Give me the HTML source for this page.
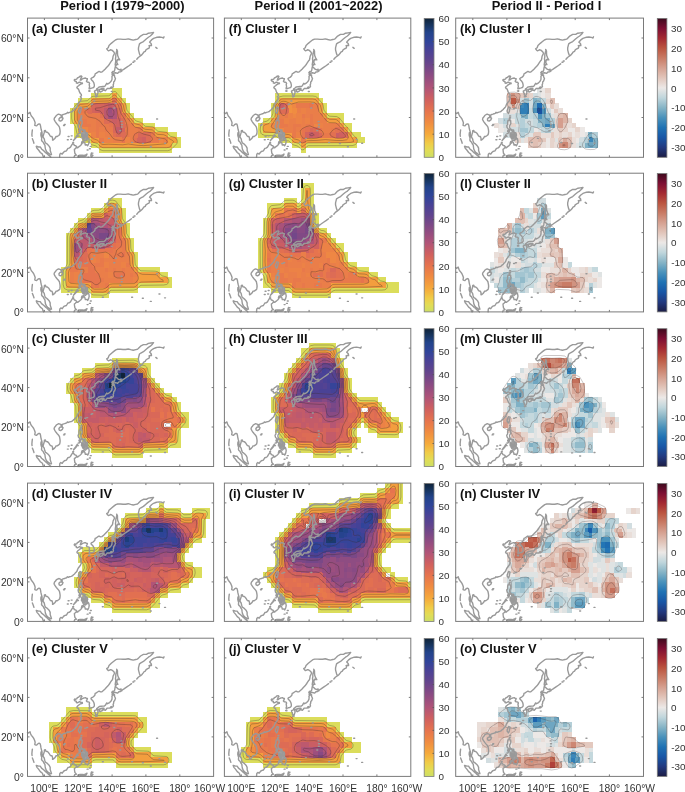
<!DOCTYPE html><html><head><meta charset="utf-8"><style>html,body{margin:0;padding:0;background:#fff;width:685px;height:792px;overflow:hidden}svg{display:block}text{font-family:"Liberation Sans",Arial,sans-serif}</style></head><body>
<svg width="685" height="792" viewBox="0 0 685 792">
<defs>
<linearGradient id="gt" x1="0" y1="1" x2="0" y2="0"><stop offset="0.000" stop-color="#cddf64"/><stop offset="0.050" stop-color="#e2dc56"/><stop offset="0.100" stop-color="#f0cc48"/><stop offset="0.167" stop-color="#f5aa3c"/><stop offset="0.250" stop-color="#f08c41"/><stop offset="0.333" stop-color="#e6744e"/><stop offset="0.417" stop-color="#d0605f"/><stop offset="0.500" stop-color="#b05478"/><stop offset="0.567" stop-color="#954d80"/><stop offset="0.633" stop-color="#7a4887"/><stop offset="0.700" stop-color="#5f448e"/><stop offset="0.767" stop-color="#4a4296"/><stop offset="0.833" stop-color="#30449a"/><stop offset="0.900" stop-color="#22438a"/><stop offset="0.950" stop-color="#173560"/><stop offset="1.000" stop-color="#0f2339"/></linearGradient>
<linearGradient id="gb" x1="0" y1="1" x2="0" y2="0"><stop offset="0.000" stop-color="#1c1d45"/><stop offset="0.071" stop-color="#22397f"/><stop offset="0.143" stop-color="#1856a6"/><stop offset="0.214" stop-color="#1f72b4"/><stop offset="0.286" stop-color="#4a92bb"/><stop offset="0.357" stop-color="#86b4c6"/><stop offset="0.429" stop-color="#c0d6dc"/><stop offset="0.500" stop-color="#ece8e6"/><stop offset="0.571" stop-color="#e2c6bb"/><stop offset="0.643" stop-color="#d6a292"/><stop offset="0.714" stop-color="#c97c66"/><stop offset="0.786" stop-color="#bb5540"/><stop offset="0.857" stop-color="#a42a32"/><stop offset="0.929" stop-color="#7d0f33"/><stop offset="1.000" stop-color="#3e0a1e"/></linearGradient>
<g id="coast"><path d="M54.1 114 56.4 113.4 58.8 113.8 60.5 116 60.9 118.7 61.5 120.5 60.2 121.9 57.8 121.5 56.1 121.1 54.9 119.9 54.1 118 53.7 115.6 54.1 114Z" fill="#a0a0a0"/><path d="M0 94.7 1 95.3 2.5 94.1 3.2 96.3 3.9 97.7 4.9 98.9 6.1 100.5 7.1 102.7 7.7 104.6 7.3 107 8.2 107.4 9.2 107.6 10.2 106.4 11.6 105.6 12.6 106 13.1 107.6 13.4 109.6 13.9 111.8 14.6 114.2 14.6 117.2 14.3 119.3 14.1 121.9 14.6 122.9 15.6 123.7 16.5 125.5 17.5 126.9 17.7 128.7 18 130.7 19 133 20.2 134.4 21.8 135.4 22.8 136.4 24.1 136.2 23.6 134.6 22.8 132.2 22.8 129.9 21.9 128.1 20.7 126.7 19.2 125.3 18 124.7 17.3 122.7 16.8 120.5 15.6 118.7 16.1 116.6 16.8 114.4 17 112.4 18 112.2 18.5 113.8 19.9 114 21.1 115 21.8 116 22.6 117.4 23.5 118.2 24.6 118.3 25.2 119.9 25.2 121.9 25.8 121.7 27.2 120.5 28.2 119.3 28.6 118.3 29.9 118.2 31.3 117.2 32.3 116.4 32.6 115.2 32.8 113.2 32.6 111.4 32.1 108.8 31.3 107.6 29.9 106 28.9 104.8 27.9 103.3 26.9 101.7 26.7 100.9 27.2 99.5 28.2 98.5 28.9 97.3 30.1 96.5 31.4 95.9 32.5 96.3 33.5 96.7 33.8 98.1 34 98.7 34.9 98.5 34.7 96.9 35.7 96.3 37.1 95.9 38.2 95.5 39.4 95.1 40.1 94.1 41.1 94.7 42.3 94.1 43.9 93.7 45 93.3 46.2 92.1 47.3 91.3 48.1 90.2 49 89.4 49.8 88.4 50.3 86.8 50.8 85.8 51.5 84.8 52.4 83.6 53.2 82.6 53.7 81.4 54.2 80.2 53.7 79 53 78.6 54.2 77.6 54.1 76.3 53.2 75.3 52.5 74.3 51.9 72.9 51.3 70.9 50 70.1 49.6 69.3 50.3 68.3 51.3 67.5 52.2 66.7 53.5 65.9 55.2 65.5 55.1 64.7 53.5 64.5 52.4 63.9 51.5 64.3 50 65.1 49.1 64.7 49.1 63.5 47.6 62.9 46.9 62 47.4 61.2 48.5 61.4 49.6 60.8 50.1 59.8 51.5 59.2 52.7 58 54.1 57.8 54.7 58.6 53.7 59.8 53.4 60.8 53 62 53.9 61.8 54.7 61 55.9 60.4 57.1 60 58.3 59.8 59 60.4 60.2 60.6 59.8 62 59.2 63.1 60 63.9 61 64.1 61.9 64.3 62.4 65.3 62 66.3 62.2 67.5 62.4 68.7 61.9 69.9 62 70.7 63.2 70.3 64.3 69.9 65.3 69.7 66.3 69.3 67 68.5 67.2 67.3 67 65.9 66.6 64.5 65.6 62.9 64.9 62.2 64.1 61.4 63.8 60.4 64.6 59.8 65.8 59.2 67 58.2 67.7 57.2 68 55.6 69.2 55 70 54.4 71.2 53.6 71.9 53.2 73.4 54 74.8 53.8 76.5 52.4 77.9 51 79.2 49.6 80.9 47.9 82.3 46.1 83.1 44.7 84.3 42.9 85.3 41.9 85.7 40.1 86 38.1 86.7 36.7 87.4 35.3 87 34 86 33 84.7 32 83.3 31.6 82.5 32.2 81.3 32.6 80.4 31.8 79.6 30.6 81.1 29.6 81.9 27.4 84.2 25.2 86.4 23.4 88.7 21.6 90.6 21 93.5 21 96 21.2 98.6 21.2 101.2 20.7 103.7 21.4 106.2 22 108.8 21.4 110.5 21 111.3 20.3 113.6 17.9 116.5 16.3 119.5 16.3 121.5 15.1 124.1 14.7 126.7 14.3 125.5 15.9 123.4 17.9 121.5 19.1 119.3 20.9 116.5 23.4 113.9 24.8 112.5 25.8 112 27.8 111.5 29.8 111.5 31.8 112 33.8 112.5 35.7 113.4 37.9 114.8 36.7 116.1 35.1 116.8 34 118.3 33.2 119 31.8 120.7 30.6 122.1 30 122.6 28.6 122.1 27.6 123.4 27.2 124.6 27.4 124.4 25.8 123.6 24.8 122.7 24 123.2 23.4 124.6 21.8 126.7 20.3 128.9 19.5 130.2 19.1 132.6 18.9 135.2 19.3 136.7 19.9 137.2 18.7M88.4 47.7 88.1 46.5 88.4 44.7 88.7 42.7 88.4 40.7 88.7 38.7 88.7 36.7 89.4 33.8 89.8 32.2 89.6 31.2 90.4 32.8 90.4 34.8 90.6 37.3 91.5 39.7 92.7 41.7 90.4 41.3 89.6 44.1 90.8 46.5 89.4 46.3 88.9 47.7 88.4 47.7M85 56.6 85.2 55.2 84.7 54.4 85.7 53.2 87.2 53.2 87.7 51.6 87.9 50 88.2 48.6 89.4 49.4 91 51 92.7 51.8 94 51 93.8 52.4 94.9 52.8 93.5 53.6 91.8 53.8 90.6 55.2 88.4 54.6 87 54.8 85.8 54.4 86.5 56 85.3 56.8 85 56.6M87.4 56.8 87.5 58.6 88.4 60.4 87.5 62.9 86.7 63.5 86.5 65.5 86 66.9 86.4 68.1 85.5 69.3 84.7 69.5 84.3 68.7 83.6 69.1 83 70.3 81.9 70.3 79.9 70.3 79.6 70.9 78.2 72.5 77 72.1 76.8 70.3 75.1 70.3 73.1 70.9 71.7 71.7 69.7 71.5 69.5 70.7 70.5 70.1 72.2 68.7 74 68.5 75.7 68.3 77.3 68.3 78.2 67.5 79.6 65.1 80.4 65.9 82.5 64.7 84 63.1 84.8 61.6 85 59.6 84.8 58.4 85.7 57.2 86.7 57.2 87.4 56.8M69.5 71.7 70.5 72.3 70.9 74.3 70.2 76.6 69.2 77.4 68.3 76.8 68.3 75.3 67.5 74.1 67.3 72.9 68.5 72.3 69.5 71.7M72.2 73.1 73.1 73.9 75.1 72.9 76 71.9 75.8 71.1 74.1 70.9 72.6 71.5 72.2 73.1M94.3 52.6 96.6 51.2 99.5 49.2 102.3 47.3 104.5 45.7M109.8 41.1 111.3 39.3 112.7 38.3M52.7 88.8 54.2 89.4 53.7 91.3 53.4 93.3 52.5 95.3 52.2 94.7 51.3 93.7 51.2 92.3 51.9 90.5 52.7 88.8M34.3 99.1 35.7 99.9 35 101.7 33.3 102.9 31.8 102.3 31.6 100.7 32.6 99.5 34.3 99.1M52 102.3 53 102.1 54.7 102.3 54.9 105.2 53.7 107.6 53.7 109.2 54.4 110.6 56.1 111.6 57.6 111.6 58.1 113.8 56.6 113.2 55.4 111.8 54.1 111.6 52.5 111 52 110.4 51.2 109.4 50.8 107.4 51.7 106.4 51.7 104.2 52 102.3M54.2 125.1 54.7 123.3 56.1 122.7 57.3 121.9 58.3 122.5 59.2 121.3 60.4 119.7 61.5 120.5 62 123.1 61.5 125.5 60.5 127.5 59.8 126.5 58.1 126.7 57.6 124.7 56.8 123.5 55.8 124.1 54.6 125.3 54.2 125.1M58.3 114.2 60 114.6 60.5 117 59.3 118.7 58.5 117.6 58.3 114.2M54.4 115.6 56.3 116.4 55.2 118.2 54.2 118 54.4 115.6M56.1 117.4 57 120.1 55.9 120.9 55.1 119.3 56.1 117.4M57.6 116.8 57.8 118.7 56.8 119.9 57.6 116.8M51.9 112.2 53.5 112.8 53 114.6 51.7 113.2 51.9 112.2M46.2 122.3 49 119.3 50.5 117.2 50 116.6 48.5 119.1 46.4 121.9M32.3 139 32.3 138 32.5 136 33.5 135 34.9 135.8 36 134.2 37.1 133.2 39.1 132.6 40.6 130.1 41.8 129.9 43.2 128.9 44.2 127.1 45.4 125.3 46.4 125.7 47.1 127.1 48.5 127.5 49.6 128.7 48.1 130.3 47.1 131.1 47.3 133 47.6 135 49.1 136.8 47.4 137.2 46.8 139M16.3 139 15.6 137.8 15 135.8 12.9 134.2 11.1 131.7 9.5 129.9 8.8 128.1 9 127.9 11.1 128.7 12.8 128.7 14.1 130.7 16.5 132.6 18.5 134.6 19.6 135.4 21.2 137 22.8 138.2 23.5 139M50.7 139 51 137.4 52.7 137 55.2 137 57 137.2 58.5 136.6 59.8 135.8 58.8 137.8 57 138.2 54.4 138 52.4 138.6 51.9 139M64.3 134.6 64.6 136.6 65.8 137 64.9 138 64.3 139 63.6 137.6 63.9 135.6 64.3 134.6M61.5 72.7 62.7 72.5 62.6 73.1 61.5 72.9 61.5 72.7M128.9 29.2 130.2 30.2M50.8 129.1 52.4 127.9 53.4 127.1 54.4 125.9M4.9 111.6 4.6 114 4.4 116.4 4.6 118M4.9 120.5 5.8 122.7 6.5 124.9M13.6 114.4 13.4 116.8 13.9 118.7M105.8 44.1h1M107.1 42.9h1M36.9 106.2h1M36.2 107.2h1M40.8 118.3h1M43.4 121.1h1M40 121.5h1M43.9 117.6h1M53.7 97.7h1M53.6 99.5h1M53 100.7h1M63.1 128.1h1M62.2 130.5h1M59.9 131.7h1M64.8 134.8h1M60.7 139h1M49.6 129.5h1M45.4 124.1h1M54.8 124.7h1M51 115.4h1M50.2 118h1M94.2 108.8h1M92.7 112.4h1M94 103.3h1M94.4 106.2h1M104.6 124.3h1M115.4 125.3h1M123.4 128.5h1M81.3 120.1h1M75.2 124.3h1M137.7 124.9h1M132.1 121.1h1M129.7 100.7h1M88.2 85.2h1M86.7 89.8h1M63.8 86.4h1M64.6 85.8h1M66.7 82.8h1M57.6 90.5h1M59.5 89.8h1M68.3 78.6h1M69.2 78.2h1M83.5 70.1h1M84.2 73.3h1" fill="none" stroke="#999" stroke-width="1.4" stroke-linejoin="round" stroke-linecap="round"/></g>
</defs>
<text x="122.4" y="9.8" font-size="12.9" font-weight="bold" text-anchor="middle" fill="#111">Period I (1979~2000)</text>
<text x="318.5" y="9.8" font-size="12.9" font-weight="bold" text-anchor="middle" fill="#111">Period II (2001~2022)</text>
<text x="546.5" y="9.8" font-size="12.9" font-weight="bold" text-anchor="middle" fill="#111">Period II - Period I</text>
<path fill="#dbdd5b" shape-rendering="crispEdges" d="M112 88h10v6h-10zM91 93h22v6h-22zM116 93h6v6h-6zM78 98h14v6h-14zM121 98h5v6h-5zM74 103h5v6h-5zM125 103h5v6h-5zM70 108h5v6h-5zM125 108h5v6h-5zM70 113h5v6h-5zM129 113h5v6h-5zM70 118h5v6h-5zM133 118h10v6h-10zM74 123h5v5h-5zM142 123h13v5h-13zM74 127h5v6h-5zM154 127h14v6h-14zM74 132h9v6h-9zM167 132h10v6h-10zM82 137h10v6h-10zM176 137h5v6h-5zM91 142h9v6h-9zM171 142h10v6h-10zM99 147h73v6h-73z"/><path fill="#f39e3e" shape-rendering="crispEdges" d="M112 93h5v6h-5zM91 98h22v6h-22zM116 98h6v6h-6zM78 103h14v6h-14zM121 103h5v6h-5zM74 108h5v6h-5zM121 108h5v6h-5zM74 113h5v6h-5zM125 113h5v6h-5zM74 118h5v6h-5zM129 118h5v6h-5zM78 123h5v5h-5zM133 123h10v5h-10zM78 127h5v6h-5zM142 127h13v6h-13zM82 132h10v6h-10zM154 132h14v6h-14zM91 137h9v6h-9zM167 137h10v6h-10zM99 142h73v6h-73z"/><path fill="#e27051" shape-rendering="crispEdges" d="M112 98h5v6h-5zM99 113h6v6h-6zM112 132h5v6h-5zM133 137h5v6h-5z"/><path fill="#d96858" shape-rendering="crispEdges" d="M91 103h5v6h-5zM116 113h6v6h-6zM112 123h5v5h-5zM112 127h5v6h-5zM116 132h6v6h-6zM137 132h10v6h-10z"/><path fill="#d4645c" shape-rendering="crispEdges" d="M95 103h10v6h-10zM91 108h5v6h-5zM108 118h5v6h-5zM121 127h5v6h-5zM137 137h6v6h-6z"/><path fill="#d0605f" shape-rendering="crispEdges" d="M104 103h5v6h-5zM95 108h10v6h-10zM116 118h6v6h-6zM116 123h6v5h-6zM142 137h5v6h-5z"/><path fill="#c35b69" shape-rendering="crispEdges" d="M108 103h5v6h-5zM116 127h6v6h-6z"/><path fill="#ca5e64" shape-rendering="crispEdges" d="M112 103h5v6h-5zM112 118h5v6h-5z"/><path fill="#e6744e" shape-rendering="crispEdges" d="M116 103h6v6h-6zM121 113h5v6h-5zM108 123h5v5h-5zM133 132h5v6h-5zM121 137h5v6h-5z"/><path fill="#e8794b" shape-rendering="crispEdges" d="M78 108h10v6h-10zM87 113h13v6h-13zM82 118h6v6h-6zM95 118h10v6h-10zM82 123h10v5h-10zM95 123h14v5h-14zM125 123h5v5h-5zM95 127h5v6h-5zM104 127h9v6h-9zM125 127h5v6h-5zM137 127h6v6h-6zM95 132h5v6h-5zM125 132h5v6h-5zM150 132h5v6h-5zM99 137h6v6h-6zM150 137h10v6h-10z"/><path fill="#dd6c55" shape-rendering="crispEdges" d="M87 108h5v6h-5zM116 108h6v6h-6zM104 118h5v6h-5zM121 118h5v6h-5zM121 123h5v5h-5zM121 132h5v6h-5zM146 132h5v6h-5zM146 137h5v6h-5z"/><path fill="#bd596e" shape-rendering="crispEdges" d="M104 108h5v6h-5zM104 113h5v6h-5z"/><path fill="#9c4f7e" shape-rendering="crispEdges" d="M108 108h5v6h-5z"/><path fill="#b05478" shape-rendering="crispEdges" d="M112 108h5v6h-5zM112 113h5v6h-5z"/><path fill="#ea7e49" shape-rendering="crispEdges" d="M78 113h10v6h-10zM78 118h5v6h-5zM87 118h9v6h-9zM125 118h5v6h-5zM91 123h5v5h-5zM129 123h5v5h-5zM87 127h9v6h-9zM99 127h6v6h-6zM129 127h9v6h-9zM104 132h9v6h-9zM129 132h5v6h-5zM112 137h10v6h-10zM129 137h5v6h-5z"/><path fill="#a2507c" shape-rendering="crispEdges" d="M108 113h5v6h-5z"/><path fill="#ee8744" shape-rendering="crispEdges" d="M82 127h6v6h-6zM125 137h5v6h-5zM159 137h5v6h-5z"/><path fill="#ec8246" shape-rendering="crispEdges" d="M91 132h5v6h-5zM99 132h6v6h-6zM104 137h9v6h-9zM163 137h5v6h-5z"/><path fill="none" stroke="#3a2a2a" stroke-width="0.55" stroke-opacity="0.6" d="M113.5 91.8 114.2 91.5 115.6 91.8 117 93.2 125.2 103.4 126 105.1 126.9 110.2 135.4 120.4 136.8 121.2 141 122.4 145.2 126.3 152.3 126.8 153.7 127.4 157.9 131.3 166.4 132.3 170.6 136.3 174.8 137.4 176.2 138.6 177.1 139.9 177.4 141.6 177.1 143.2 176.2 144.4 170.8 149.8 167.8 150.7 102.9 150.7 100.1 149.7 97.3 146.8 95.9 145.9 91.6 144.7 87.4 140.9 84.6 140.3 81.8 138.6 76.9 133.3 75.6 126.6 72.3 121.7 71.7 118.4 71.7 113.4 72.2 110.1 73 108.4 77.5 103 79 101.9 80.4 101.3 87.4 100.7 91.6 96.9 93.1 96.3 108.6 95.8 110 95.1 113.5 91.8M113.7 95.2 114.2 94.9 115.6 95.6 122.2 103.4 123.3 105.1 124.3 110.1 125.1 111.7 133.9 122.6 135.4 123.8 139.6 124.9 143.8 128.7 145.2 129.3 152.3 129.9 156.5 133.7 157.9 134.4 163.6 134.7 166.4 135.8 169.2 138.8 172 140.1 173.7 141.6 170.6 146.3 169.2 147.3 166.4 147.7 102.9 147.7 100.4 146.5 97.3 143.5 93.1 142.2 88.8 138.4 84.6 137.2 83.2 136.2 79.3 131.6 77.6 125 74.5 120 74.4 111.7 76.2 108.4 79 105.2 80.4 104.4 87.4 103.7 93.1 99.2 108.6 98.7 110 98.2 113.7 95.2M112.8 98.5 114.2 97.9 115.6 98.6 119.7 103.4 121.5 106.8 122.7 111.7 133.9 126.2 135.4 127.2 139.6 128.1 143.8 131.4 152.3 132.9 156.5 136.9 157.9 137.7 165 138.8 166.4 139.9 167.2 141.6 166.8 143.2 165 143.9 143.8 145.6 138.2 145.4 128.3 144 122.7 144.8 108.6 144.2 102.9 144.5 101.5 144 97.3 140.1 93.1 138.6 88.8 134.9 84.6 133.3 81.9 130 80.4 125 77.4 120 77.2 111.7 79 108.7 81.8 107.2 87.4 106.4 93.1 101.7 95.9 101.3 108.6 100.9 110.7 100.1 112.8 98.5M111.9 101.8 114.2 100.9 115.6 101.8 118.3 105.1 120.9 113.4 125.2 120 126.5 123.3 127.4 128.3 127.1 134.9 124.1 139.9 122.7 140.8 115.6 139.8 112.8 138.2 110 134.1 106.2 130 104.8 126.6 102.7 125 100.1 121.3 95.5 118.4 88.8 117 87.4 116.3 85.1 113.4 84.9 111.7 86.4 110.1 88.8 108.7 93.1 104.3 95.9 103.6 107.2 103.1 111.9 101.8M135.9 133.3 138.2 132.2 139.6 132.2 143.8 134.2 149.5 135.5 151.3 136.6 152.3 138.2 152.3 139.9 150.6 141.6 145.2 143.2 139.7 143.2 136.8 142.3 135.1 141.6 133.6 139.9 133.2 138.2 133.5 136.6 134.3 134.9 135.9 133.3M108 105.1 112.8 104.3 114.2 104.6 115.6 106.2 116.7 108.4 118.1 116.7 120 121.7 120.5 126.6 121.4 130 121.3 132 119.8 133.8 118.4 134 117 133 115.7 130 114.8 125 113.4 123.3 111.2 121.7 107.2 119.9 105 118.4 101.5 112.4 100.1 111 95.5 110.1 95.2 108.4 95.9 108.1 100.1 107.7 108 105.1M108.7 108.4 110 108 111.4 108.1 113.5 110.1 114 111.7 113.8 115 112.1 116.7 109.6 116.7 107.3 115 106.8 111.7 107.3 110.1 108.7 108.4"/>
<g transform="translate(27.5 18.1) scale(0.9952 1.0014)">
<use href="#coast"/>
</g>
<rect x="27.5" y="18.1" width="186.1" height="139.2" fill="none" stroke="#7a7a7a" stroke-width="1"/>
<path d="M44.4 18.1v2M44.4 157.3v-2M78.3 18.1v2M78.3 157.3v-2M112.1 18.1v2M112.1 157.3v-2M145.9 18.1v2M145.9 157.3v-2M179.8 18.1v2M179.8 157.3v-2M27.5 117.5h2M213.6 117.5h-2M27.5 77.8h2M213.6 77.8h-2M27.5 38.0h2M213.6 38.0h-2" stroke="#7a7a7a" stroke-width="1" fill="none"/>
<text x="31.8" y="33" font-size="12.9" font-weight="bold" fill="#111">(a) Cluster I</text>
<text x="23.9" y="161.7" font-size="10.3" text-anchor="end" fill="#333">0°</text>
<text x="23.9" y="121.9" font-size="10.3" text-anchor="end" fill="#333">20°N</text>
<text x="23.9" y="82.2" font-size="10.3" text-anchor="end" fill="#333">40°N</text>
<text x="23.9" y="42.4" font-size="10.3" text-anchor="end" fill="#333">60°N</text>
<path fill="#dbdd5b" shape-rendering="crispEdges" d="M108 198h14v6h-14zM104 203h5v6h-5zM116 203h6v6h-6zM91 208h14v6h-14zM121 208h5v6h-5zM87 213h5v6h-5zM121 213h5v6h-5zM78 218h10v6h-10zM121 218h5v6h-5zM74 223h5v6h-5zM125 223h5v6h-5zM70 228h5v6h-5zM125 228h5v6h-5zM66 233h5v6h-5zM125 233h5v6h-5zM66 238h5v6h-5zM129 238h5v6h-5zM66 243h5v6h-5zM129 243h5v6h-5zM66 248h5v5h-5zM129 248h5v5h-5zM66 252h5v6h-5zM133 252h5v6h-5zM66 257h5v6h-5zM133 257h5v6h-5zM66 262h5v6h-5zM133 262h5v6h-5zM61 267h6v6h-6zM137 267h23v6h-23zM61 272h6v6h-6zM159 272h9v6h-9zM61 277h6v6h-6zM167 277h5v6h-5zM61 282h6v6h-6zM137 282h35v6h-35zM61 287h31v6h-31zM108 287h30v6h-30zM91 292h18v6h-18z"/><path fill="#f39e3e" shape-rendering="crispEdges" d="M108 203h9v6h-9zM104 208h5v6h-5zM116 208h6v6h-6zM91 213h14v6h-14zM116 213h6v6h-6zM87 218h5v6h-5zM116 218h6v6h-6zM78 223h10v6h-10zM121 223h5v6h-5zM74 228h5v6h-5zM121 228h5v6h-5zM70 233h5v6h-5zM121 233h5v6h-5zM70 238h5v6h-5zM125 238h5v6h-5zM70 243h5v6h-5zM125 243h5v6h-5zM70 248h5v5h-5zM125 248h5v5h-5zM70 252h5v6h-5zM129 252h5v6h-5zM70 257h5v6h-5zM129 257h5v6h-5zM70 262h5v6h-5zM129 262h5v6h-5zM66 267h5v6h-5zM133 267h5v6h-5zM66 272h5v6h-5zM137 272h23v6h-23zM66 277h5v6h-5zM137 277h31v6h-31zM66 282h26v6h-26zM108 282h30v6h-30zM91 287h18v6h-18z"/><path fill="#e8794b" shape-rendering="crispEdges" d="M108 208h9v6h-9zM116 223h6v6h-6zM121 238h5v6h-5zM121 243h5v6h-5zM91 248h5v5h-5zM112 248h5v5h-5zM121 248h5v5h-5zM87 252h5v6h-5zM108 252h14v6h-14zM99 257h6v6h-6zM112 257h5v6h-5zM91 262h14v6h-14zM125 262h5v6h-5zM70 267h9v6h-9zM104 267h5v6h-5zM112 267h5v6h-5zM121 267h5v6h-5zM112 272h5v6h-5zM129 272h5v6h-5zM99 277h6v6h-6zM91 282h5v6h-5zM104 282h5v6h-5z"/><path fill="#d0605f" shape-rendering="crispEdges" d="M104 213h5v6h-5zM112 238h5v6h-5zM108 243h5v6h-5zM82 248h6v5h-6zM78 252h5v6h-5z"/><path fill="#dd6c55" shape-rendering="crispEdges" d="M108 213h5v6h-5zM82 252h6v6h-6zM82 257h6v6h-6z"/><path fill="#e27051" shape-rendering="crispEdges" d="M112 213h5v6h-5zM116 238h6v6h-6zM112 243h5v6h-5zM95 248h5v5h-5z"/><path fill="#b05478" shape-rendering="crispEdges" d="M91 218h9v6h-9zM99 223h10v6h-10zM78 248h5v5h-5z"/><path fill="#bd596e" shape-rendering="crispEdges" d="M99 218h6v6h-6zM108 223h5v6h-5zM112 228h5v6h-5zM78 238h10v6h-10zM82 243h6v6h-6zM95 243h5v6h-5z"/><path fill="#c35b69" shape-rendering="crispEdges" d="M104 218h5v6h-5zM112 223h5v6h-5zM78 233h5v6h-5zM112 233h5v6h-5zM74 238h5v6h-5zM91 243h5v6h-5zM104 243h5v6h-5z"/><path fill="#ca5e64" shape-rendering="crispEdges" d="M108 218h9v6h-9zM78 228h5v6h-5zM87 243h5v6h-5z"/><path fill="#5a4490" shape-rendering="crispEdges" d="M87 223h5v6h-5z"/><path fill="#814985" shape-rendering="crispEdges" d="M91 223h5v6h-5zM91 228h5v6h-5z"/><path fill="#9c4f7e" shape-rendering="crispEdges" d="M95 223h5v6h-5zM108 233h5v6h-5zM74 248h5v5h-5z"/><path fill="#a2507c" shape-rendering="crispEdges" d="M82 228h6v6h-6zM91 238h5v6h-5z"/><path fill="#66458c" shape-rendering="crispEdges" d="M87 228h5v6h-5z"/><path fill="#884a84" shape-rendering="crispEdges" d="M95 228h5v6h-5zM104 228h5v6h-5zM95 233h5v6h-5z"/><path fill="#8e4c82" shape-rendering="crispEdges" d="M99 228h6v6h-6zM91 233h5v6h-5zM99 238h10v6h-10z"/><path fill="#954d80" shape-rendering="crispEdges" d="M108 228h5v6h-5zM87 233h5v6h-5zM95 238h5v6h-5zM74 243h5v6h-5z"/><path fill="#e6744e" shape-rendering="crispEdges" d="M116 228h6v6h-6zM74 233h5v6h-5zM116 233h6v6h-6zM116 243h6v6h-6zM87 248h5v5h-5zM99 248h14v5h-14zM121 252h5v6h-5zM87 257h5v6h-5zM74 262h18v6h-18zM87 267h9v6h-9zM82 272h18v6h-18zM116 272h10v6h-10zM82 277h18v6h-18zM95 282h5v6h-5z"/><path fill="#a9527a" shape-rendering="crispEdges" d="M82 233h6v6h-6zM78 243h5v6h-5z"/><path fill="#7a4887" shape-rendering="crispEdges" d="M99 233h10v6h-10z"/><path fill="#b65673" shape-rendering="crispEdges" d="M87 238h5v6h-5zM108 238h5v6h-5zM99 243h6v6h-6zM74 252h5v6h-5z"/><path fill="#ea7e49" shape-rendering="crispEdges" d="M116 248h6v5h-6zM91 252h14v6h-14zM125 252h5v6h-5zM95 257h5v6h-5zM104 257h9v6h-9zM116 257h14v6h-14zM108 262h14v6h-14zM78 267h10v6h-10zM95 267h10v6h-10zM108 267h5v6h-5zM116 267h6v6h-6zM125 267h9v6h-9zM70 272h5v6h-5zM78 272h5v6h-5zM99 272h10v6h-10zM125 272h5v6h-5zM133 272h5v6h-5zM70 277h5v6h-5zM78 277h5v6h-5zM104 277h30v6h-30zM99 282h6v6h-6z"/><path fill="#ee8744" shape-rendering="crispEdges" d="M104 252h5v6h-5z"/><path fill="#d4645c" shape-rendering="crispEdges" d="M74 257h5v6h-5z"/><path fill="#d96858" shape-rendering="crispEdges" d="M78 257h5v6h-5z"/><path fill="#ec8246" shape-rendering="crispEdges" d="M91 257h5v6h-5zM104 262h5v6h-5zM121 262h5v6h-5zM74 272h5v6h-5zM108 272h5v6h-5zM74 277h5v6h-5zM133 277h5v6h-5z"/><path fill="none" stroke="#3a2a2a" stroke-width="0.55" stroke-opacity="0.6" d="M109.9 200.4 112.8 200.1 115.6 200.9 121.5 208.7 122.4 218.6 125.7 223.6 126.2 225.2 126.6 233.5 130.5 240.1 130.8 248.3 131.3 250 134.6 254.9 135.1 263.2 135.4 264.8 136.6 266.5 139.6 270 141 270.8 155.1 271.2 157.9 271.9 162.1 275.8 166.4 276.9 167.7 278.1 168.6 279.7 168.8 281.4 167.8 283.7 166.4 284.5 163.6 285 141 285.3 139.6 286.1 136.8 289.2 133.9 290.1 111.4 290.3 110 290.8 107.2 293.9 105.7 294.7 102.9 295.2 93.1 294.9 91.6 294.3 88.6 291.3 86 290.2 67.7 290 64.9 288.9 64.1 288 63.2 284.7 63.1 273.1 63.6 269.8 66.9 264.8 67.3 263.2 67.4 236.8 68.2 233.5 77.9 221.9 79 221.1 83.2 219.8 91.6 211 94.5 210.3 98.7 210.2 101.5 209 107.5 202.1 109.9 200.4M109.6 203.7 111.4 203.1 114.2 203.5 117.5 207 119.4 210.4 119.9 218.6 120.4 220.3 123.6 225.2 124.1 233.5 124.5 235.1 127.8 240.1 128.6 250 131.9 254.9 132.4 256.6 132.6 263.2 133.5 266.5 139.6 273.4 142.4 274.3 156.5 274.7 160.7 279.2 162.6 279.7 163.4 281.4 141 282.1 139.6 282.7 135.4 286.7 133.9 287.1 111.4 287.2 108.6 288.7 105.7 291.5 102.9 292.2 93.1 291.9 88.8 288.1 87.4 287.4 69.1 287 67.7 286.7 66.3 285.4 65.7 281.4 65.8 271.4 66.4 269.8 68.8 266.5 69.8 263.2 69.8 240.1 69.9 236.8 70.5 234.6 77.5 225.5 79 224.1 83.2 222.5 91.6 214 93.1 213.3 100.1 212.7 101.5 212.1 109.6 203.7M109.5 207 111.4 206.1 114.2 206.7 116.9 210.4 118.3 220.3 121.1 225.2 121.5 226.9 122 235.1 125.1 240.1 125.6 241.7 125.9 250 129.5 256.6 130.2 264.8 131.8 268.1 137.3 274.7 138.1 276.4 138.4 278.1 138 279.7 135.4 283 133.9 283.6 112.8 283.9 110 284.3 105.7 288.2 102.9 289.1 94.5 289.2 93.1 288.7 88.8 285.1 87.4 284.6 70.5 283.3 68.9 281.4 68.4 273.1 69.1 270.2 71.5 266.5 71.9 264.8 71.3 245 71.7 238.4 72.5 235.1 78.5 226.9 80.4 225.6 83.2 224.5 91.6 216 94.5 215 100.1 214.9 101.5 214.4 109.5 207M111.2 210.4 112.8 210.4 114.2 212 117 221.9 118.3 225.2 118.9 228.5 118.9 235.1 119.8 238.1 121.7 241.7 121.5 245 120.9 246.7 116.8 250 115.6 254.6 114.4 256.6 114.2 258.7 112.8 258.3 111.9 256.6 108.4 253.3 105.7 252.1 97.3 253.2 91.6 252.5 90 253.3 88.9 254.9 88.8 257.1 90.2 261.5 91.6 263.7 94.5 266.5 95.2 269.8 98.7 274.1 100.6 279.7 100.7 281.4 99.8 283 97.3 284.5 95.8 284.7 94.5 284.2 91.6 281.9 84.6 279.9 83.2 279 82.4 278.1 82.1 276.4 82.2 274.7 83.9 271.4 83.8 269.8 83.2 269.3 77.5 269.2 76.1 268.7 74 261.5 72.9 254.9 72.5 245 73.3 239.1 74.7 235.5 79 228.5 83.2 226.2 86.9 221.9 91.6 217.8 94.5 216.6 101.5 216.4 105.7 212.8 111.2 210.4M119.1 253.3 121.3 252.4 122.7 253.7 123.2 254.9 123.1 256.6 121.3 257 117.6 254.9 119.1 253.3M113.8 273.1 114.2 271.7 122.7 271.8 124.1 273.5 124.5 274.7 124.2 276.4 122.7 277.6 121.3 278 117 277.9 114.4 276.4 113.8 273.1M104.6 217 105.7 216.1 107.2 215.7 112.8 217.9 114.2 219.9 115.6 225.5 116.2 230.2 115.3 238.4 113.7 241.7 110 245.5 105.7 247.1 100.1 248 90.2 247.2 87.4 247.8 86 248.9 83.2 253.3 79.2 258.2 77.5 259.4 76.1 259.2 74.7 256.4 74.2 253.3 73.7 248.3 74 243.4 74.7 240.3 77.9 235.1 79.9 230.2 84.6 226.7 87.4 222.7 93.1 218.5 95.9 218.2 101.5 218.4 104.6 217M94 220.3 96.3 220.3 101.5 222.1 105.7 222.9 111.4 226.4 112.7 228.5 113.1 231.8 111.9 236.8 110 240.1 107.2 242.7 101.5 244.6 94.5 243.6 91.6 242.6 86 239.4 83.2 236.9 82.2 233.5 82.2 231.8 83 230.2 84.6 228.6 87.8 223.6 94 220.3M77.4 241.7 79 241.5 80.4 241.9 81.7 243.4 82.1 245 80.4 250 77.5 252.7 76.1 252.4 75.2 246.7 76.1 242.6 77.4 241.7M90.2 223.6 93.7 223.6 98.7 228 105.7 228.9 108.3 230.2 108.9 231.8 108.9 233.5 108.5 235.1 106.6 238.4 104.3 240.2 100.1 240.5 97.3 239.4 91.6 235.7 87.4 234 85.8 231.8 85.8 230.2 87.8 225.2 90.2 223.6"/>
<g transform="translate(27.5 173.2) scale(0.9952 0.9978)">
<use href="#coast"/>
</g>
<rect x="27.5" y="173.2" width="186.1" height="138.7" fill="none" stroke="#7a7a7a" stroke-width="1"/>
<path d="M44.4 173.2v2M44.4 311.9v-2M78.3 173.2v2M78.3 311.9v-2M112.1 173.2v2M112.1 311.9v-2M145.9 173.2v2M145.9 311.9v-2M179.8 173.2v2M179.8 311.9v-2M27.5 272.3h2M213.6 272.3h-2M27.5 232.6h2M213.6 232.6h-2M27.5 193.0h2M213.6 193.0h-2" stroke="#7a7a7a" stroke-width="1" fill="none"/>
<text x="31.8" y="188.1" font-size="12.9" font-weight="bold" fill="#111">(b) Cluster II</text>
<text x="23.9" y="316.3" font-size="10.3" text-anchor="end" fill="#333">0°</text>
<text x="23.9" y="276.7" font-size="10.3" text-anchor="end" fill="#333">20°N</text>
<text x="23.9" y="237" font-size="10.3" text-anchor="end" fill="#333">40°N</text>
<text x="23.9" y="197.4" font-size="10.3" text-anchor="end" fill="#333">60°N</text>
<path fill="#dbdd5b" shape-rendering="crispEdges" d="M112 358h26v6h-26zM95 363h18v6h-18zM137 363h14v6h-14zM82 368h14v6h-14zM146 368h5v6h-5zM74 373h9v6h-9zM146 373h5v6h-5zM70 378h5v6h-5zM150 378h5v6h-5zM66 383h5v6h-5zM154 383h6v6h-6zM66 388h5v6h-5zM159 388h5v6h-5zM70 393h5v5h-5zM163 393h9v5h-9zM70 397h5v6h-5zM171 397h6v6h-6zM74 402h5v6h-5zM176 402h5v6h-5zM74 407h5v6h-5zM176 407h5v6h-5zM74 412h5v6h-5zM180 412h9v6h-9zM74 417h5v6h-5zM184 417h5v6h-5zM78 422h5v6h-5zM180 422h9v6h-9zM78 427h5v6h-5zM176 427h5v6h-5zM78 432h5v6h-5zM176 432h5v6h-5zM82 437h6v6h-6zM176 437h5v6h-5zM87 442h5v6h-5zM167 442h14v6h-14zM91 447h22v6h-22zM142 447h26v6h-26zM112 452h31v6h-31z"/><path fill="#f39e3e" shape-rendering="crispEdges" d="M112 363h26v6h-26zM95 368h18v6h-18zM137 368h10v6h-10zM82 373h14v6h-14zM142 373h5v6h-5zM74 378h9v6h-9zM146 378h5v6h-5zM70 383h5v6h-5zM150 383h5v6h-5zM70 388h5v6h-5zM154 388h6v6h-6zM74 393h5v5h-5zM159 393h5v5h-5zM74 397h5v6h-5zM163 397h9v6h-9zM78 402h5v6h-5zM171 402h6v6h-6zM78 407h5v6h-5zM171 407h6v6h-6zM78 412h5v6h-5zM176 412h5v6h-5zM78 417h5v6h-5zM180 417h5v6h-5zM82 422h6v6h-6zM176 422h5v6h-5zM82 427h6v6h-6zM171 427h6v6h-6zM82 432h6v6h-6zM171 432h6v6h-6zM87 437h5v6h-5zM167 437h10v6h-10zM91 442h22v6h-22zM142 442h26v6h-26zM112 447h31v6h-31z"/><path fill="#7a4887" shape-rendering="crispEdges" d="M112 368h5v6h-5zM95 383h5v6h-5zM91 397h5v6h-5zM108 402h5v6h-5zM116 402h6v6h-6z"/><path fill="#4a4296" shape-rendering="crispEdges" d="M116 368h6v6h-6zM133 378h5v6h-5zM99 388h6v6h-6zM95 393h5v5h-5zM121 393h5v5h-5z"/><path fill="#30449a" shape-rendering="crispEdges" d="M121 368h5v6h-5zM108 378h5v6h-5zM125 378h5v6h-5zM116 383h6v6h-6zM104 388h5v6h-5z"/><path fill="#3d4398" shape-rendering="crispEdges" d="M125 368h5v6h-5zM112 373h5v6h-5zM129 373h5v6h-5zM121 388h9v6h-9zM99 393h6v5h-6zM112 393h10v5h-10z"/><path fill="#544392" shape-rendering="crispEdges" d="M129 368h5v6h-5zM137 383h6v6h-6zM137 388h6v6h-6zM133 393h5v5h-5zM104 397h18v6h-18z"/><path fill="#66458c" shape-rendering="crispEdges" d="M133 368h5v6h-5zM91 393h5v5h-5z"/><path fill="#bd596e" shape-rendering="crispEdges" d="M95 373h5v6h-5zM95 407h5v6h-5zM87 412h5v6h-5zM99 412h10v6h-10zM125 412h9v6h-9zM142 432h5v6h-5zM137 437h6v6h-6z"/><path fill="#a9527a" shape-rendering="crispEdges" d="M99 373h6v6h-6zM87 397h5v6h-5zM112 412h5v6h-5z"/><path fill="#884a84" shape-rendering="crispEdges" d="M104 373h5v6h-5zM125 397h9v6h-9zM104 402h5v6h-5zM121 402h5v6h-5zM112 407h10v6h-10z"/><path fill="#734789" shape-rendering="crispEdges" d="M108 373h5v6h-5zM112 402h5v6h-5z"/><path fill="#173560" shape-rendering="crispEdges" d="M116 373h6v6h-6z"/><path fill="#0f2339" shape-rendering="crispEdges" d="M121 373h5v6h-5zM108 383h5v6h-5z"/><path fill="#2c4496" shape-rendering="crispEdges" d="M125 373h5v6h-5z"/><path fill="#4f4294" shape-rendering="crispEdges" d="M133 373h5v6h-5zM125 393h9v5h-9zM99 397h6v6h-6z"/><path fill="#5f448e" shape-rendering="crispEdges" d="M137 373h6v6h-6zM137 393h6v5h-6z"/><path fill="#e27051" shape-rendering="crispEdges" d="M82 378h6v6h-6zM163 402h9v6h-9zM159 407h5v6h-5zM167 407h5v6h-5zM159 417h9v6h-9zM176 417h5v6h-5zM159 422h5v6h-5zM167 432h5v6h-5zM159 437h5v6h-5z"/><path fill="#d4645c" shape-rendering="crispEdges" d="M87 378h5v6h-5zM146 383h5v6h-5zM82 388h6v6h-6zM82 393h6v5h-6zM146 393h5v5h-5zM82 397h6v6h-6zM146 402h5v6h-5zM146 412h5v6h-5zM137 417h10v6h-10zM91 422h9v6h-9zM108 422h9v6h-9zM121 422h5v6h-5zM129 422h5v6h-5zM137 422h6v6h-6zM91 427h5v6h-5zM112 427h5v6h-5zM121 427h5v6h-5zM133 427h10v6h-10zM91 432h5v6h-5zM99 432h6v6h-6zM150 432h10v6h-10zM163 432h5v6h-5zM91 437h5v6h-5zM121 442h5v6h-5zM137 442h6v6h-6z"/><path fill="#b65673" shape-rendering="crispEdges" d="M91 378h5v6h-5zM142 402h5v6h-5zM99 407h10v6h-10zM108 412h5v6h-5zM116 412h10v6h-10z"/><path fill="#954d80" shape-rendering="crispEdges" d="M95 378h5v6h-5zM142 383h5v6h-5z"/><path fill="#814985" shape-rendering="crispEdges" d="M99 378h6v6h-6zM91 388h5v6h-5zM133 397h5v6h-5z"/><path fill="#444297" shape-rendering="crispEdges" d="M104 378h5v6h-5zM125 383h13v6h-13zM116 388h6v6h-6zM129 388h9v6h-9zM108 393h5v5h-5z"/><path fill="#26438e" shape-rendering="crispEdges" d="M112 378h5v6h-5zM112 383h5v6h-5z"/><path fill="#1e3e7c" shape-rendering="crispEdges" d="M116 378h6v6h-6z"/><path fill="#22438a" shape-rendering="crispEdges" d="M121 378h5v6h-5zM104 383h5v6h-5z"/><path fill="#364499" shape-rendering="crispEdges" d="M129 378h5v6h-5zM121 383h5v6h-5zM112 388h5v6h-5zM104 393h5v5h-5z"/><path fill="#5a4490" shape-rendering="crispEdges" d="M137 378h6v6h-6zM99 383h6v6h-6zM95 388h5v6h-5zM95 397h5v6h-5z"/><path fill="#9c4f7e" shape-rendering="crispEdges" d="M142 378h5v6h-5zM142 388h5v6h-5zM137 402h6v6h-6z"/><path fill="#e8794b" shape-rendering="crispEdges" d="M74 383h5v6h-5zM167 417h10v6h-10zM171 422h6v6h-6zM167 427h5v6h-5z"/><path fill="#dd6c55" shape-rendering="crispEdges" d="M78 383h10v6h-10zM78 388h5v6h-5zM78 393h5v5h-5zM154 393h6v5h-6zM78 397h5v6h-5zM154 397h10v6h-10zM150 402h14v6h-14zM154 407h6v6h-6zM163 407h5v6h-5zM163 412h5v6h-5zM150 417h10v6h-10zM146 422h5v6h-5zM108 427h5v6h-5zM125 427h5v6h-5zM146 427h5v6h-5zM163 427h5v6h-5zM104 432h26v6h-26zM108 437h9v6h-9zM125 437h5v6h-5zM163 437h5v6h-5zM112 442h5v6h-5zM125 442h13v6h-13z"/><path fill="#c35b69" shape-rendering="crispEdges" d="M87 383h5v6h-5zM91 407h5v6h-5zM129 407h14v6h-14zM82 412h6v6h-6zM95 412h5v6h-5zM87 417h13v6h-13zM125 417h5v6h-5zM137 432h6v6h-6zM142 437h9v6h-9z"/><path fill="#a2507c" shape-rendering="crispEdges" d="M91 383h5v6h-5zM87 393h5v5h-5zM142 393h5v5h-5zM125 402h13v6h-13z"/><path fill="#e6744e" shape-rendering="crispEdges" d="M74 388h5v6h-5zM150 407h5v6h-5zM159 412h5v6h-5zM167 412h10v6h-10z"/><path fill="#b05478" shape-rendering="crispEdges" d="M87 388h5v6h-5zM142 397h5v6h-5zM91 402h5v6h-5zM125 407h5v6h-5z"/><path fill="#294492" shape-rendering="crispEdges" d="M108 388h5v6h-5z"/><path fill="#d0605f" shape-rendering="crispEdges" d="M146 388h5v6h-5zM87 402h5v6h-5zM133 412h5v6h-5zM142 412h5v6h-5zM104 417h5v6h-5zM121 417h5v6h-5zM133 417h5v6h-5zM87 422h5v6h-5zM104 422h5v6h-5zM95 427h5v6h-5zM116 427h6v6h-6zM142 427h5v6h-5zM87 432h5v6h-5zM95 432h5v6h-5zM133 432h5v6h-5zM95 437h5v6h-5zM133 437h5v6h-5z"/><path fill="#d96858" shape-rendering="crispEdges" d="M150 388h5v6h-5zM150 393h5v5h-5zM150 397h5v6h-5zM82 402h6v6h-6zM146 407h5v6h-5zM150 412h10v6h-10zM146 417h5v6h-5zM99 422h6v6h-6zM116 422h6v6h-6zM125 422h5v6h-5zM142 422h5v6h-5zM150 422h10v6h-10zM87 427h5v6h-5zM99 427h10v6h-10zM129 427h5v6h-5zM150 427h14v6h-14zM129 432h5v6h-5zM159 432h5v6h-5zM99 437h10v6h-10zM116 437h10v6h-10zM129 437h5v6h-5zM150 437h10v6h-10zM116 442h6v6h-6z"/><path fill="#6c468a" shape-rendering="crispEdges" d="M121 397h5v6h-5z"/><path fill="#8e4c82" shape-rendering="crispEdges" d="M137 397h6v6h-6zM95 402h10v6h-10zM108 407h5v6h-5zM121 407h5v6h-5z"/><path fill="#ca5e64" shape-rendering="crispEdges" d="M146 397h5v6h-5zM82 407h10v6h-10zM142 407h5v6h-5zM91 412h5v6h-5zM137 412h6v6h-6zM82 417h6v6h-6zM99 417h6v6h-6zM108 417h14v6h-14zM129 417h5v6h-5zM133 422h5v6h-5zM146 432h5v6h-5z"/><path fill="none" stroke="#3a2a2a" stroke-width="0.55" stroke-opacity="0.6" d="M114.6 360.5 133.9 360.2 136.8 361.1 141 364.8 145.2 365.8 146.6 367 147.5 368.7 148.3 373.6 149.2 375.3 161.5 390.1 166 395 170.6 396.3 172 397.3 177 403.2 178.6 409.8 185.6 418 186.1 419.6 185.3 422.9 179.3 429.5 178.4 431.2 177.6 441 176.2 443.6 174.8 444.4 170.6 445.3 167.8 448.1 165 449.7 145.2 450.2 141 454 139.6 454.6 115.6 454.9 112.8 453.9 110 450.8 108.6 450.1 94.5 449.8 91.6 449 81.7 437.7 80.5 434.4 79.9 426.2 76.7 421.3 76.2 419.6 75.8 406.5 75.1 404.8 72.6 401.6 71 395 68.4 391.7 67.8 390.1 67.5 386.8 68.2 383.5 73.6 376.9 74.7 376 79 374.9 83.2 371 84.6 370.5 91.6 369.9 95.9 366.1 97.3 365.5 108.6 364.9 112.8 361.2 114.6 360.5M113.2 363.7 115.6 362.8 124.1 362.6 133.9 362.8 136.8 363.9 141 367.6 143.9 368.7 145.1 370.3 146.8 375.3 150.9 380.7 164.3 396.6 166.4 398.1 170.6 399.5 174 403.2 175 404.8 175.9 409.8 176.7 411.4 182.3 418 183.1 419.6 182.9 421.3 181.8 422.9 176.3 429.5 175.7 431.2 175.1 439.4 174.1 441 170.6 442.3 165 446.7 145.2 447.3 143.8 448.1 141 450.8 138.2 452 117 452 114.2 451.6 110 447.7 108.6 447.2 93.1 446.7 90.2 444.4 84.5 437.7 82.9 434.4 82.4 426.2 78.6 419.6 78.3 406.5 77.8 404.8 74.5 399.9 73.7 395 70.4 390.1 70 388.4 70.3 385.1 71.1 383.5 74.7 379.4 80.4 377.2 83.2 374.3 84.6 373.5 91.6 372.7 97.3 368.3 108.6 367.6 113.2 363.7M166.4 423.7 165.3 424.6 165.6 426.2 166.4 426.8 169.2 427.1 170.8 426.2 170.9 424.6 169.2 423.4 166.4 423.7M113.3 365.4 115.6 364.4 124.1 364.1 133.9 364.4 136.8 365.5 139.6 368.4 142.4 370.4 143.7 372 145.1 375.3 149.5 381.4 163.6 398.6 166.4 400.9 169.2 401.5 170.6 402.4 172 404 173.1 406.5 174.2 411.4 179.7 418 180.6 419.6 180.4 421.3 179.1 423.1 174.8 426.8 173.4 425.8 172.2 422.9 170.6 421.8 166.4 421.8 164.3 422.9 163.4 424.6 163.6 426.2 164.9 427.9 167.8 428.8 172 429.2 173 431.2 173.1 434.4 172.2 437.7 166.4 443.3 163.6 444.4 145.2 445.1 143.8 445.7 139.6 449.3 138.2 449.6 117 449.6 114.2 448.9 110 445.1 108.6 444.6 95.9 444.7 93.1 444.3 91 442.7 86 436.8 84.9 434.4 84.4 426.2 80.5 419.6 79.9 404.8 76.7 399.9 76 395 73 390.1 72.5 388.4 72.9 385.1 75.6 381.8 80.4 379.9 84.6 376.2 91.6 374.9 97.3 370.4 108.6 369.3 110 368.6 113.3 365.4M118.7 365.4 133.9 365.6 136.8 366.8 142.4 372.5 150.9 386.2 163.6 402.5 165 403.8 169.2 405 170.2 406.5 170.9 411.4 173.2 416.4 173.1 418 169.2 418.7 163.6 420.7 162.1 422.4 161.5 424.6 161.7 426.2 163.6 429.1 165 430 168.6 431.2 170 432.8 170.1 434.4 169.5 436.1 166.4 440.3 165 441.3 145.2 443.2 142.7 444.3 139.6 447 138.2 447.3 128.3 446.8 121.3 447.3 115.6 446.7 114.2 446 111.4 442.8 110 442.1 95.9 442.5 93.1 441.9 87.6 436.1 86.9 434.4 86.4 426.2 85.8 424.6 83.1 421.3 81.9 418 82.1 404.8 79 399.6 78.1 393.3 75.8 388.4 76.1 385.8 77.5 384.4 81.8 382.2 85.4 378.5 93.1 376 97.3 372.1 108.6 370.7 110 370.1 114.2 366.1 118.7 365.4M114.7 367 117 366.4 122.7 366.1 132.5 366.5 135.4 367 141 372.4 145.9 380.2 149.9 390.1 150 395 150.8 399.9 148.3 408.1 147.6 414.7 147 416.4 145.2 419.1 143.8 420.3 141 421.7 140.6 424.6 141 426.2 145.2 429.2 148 431.9 152.3 433.4 153.6 434.4 154 436.1 153.1 437.7 151.3 439.4 148 440.6 143.8 441.3 139.6 443.8 138.2 444 135.4 442.7 133.7 441 133 437.7 133.6 434.4 135.3 431.2 135 429.5 131.1 425.1 129.7 424.5 125.9 424.6 124.1 425.5 123.2 426.2 122.2 429.5 119.8 430.2 117.4 429.5 116.3 427.9 110 425.1 105.7 426.4 101.5 425.2 100.1 425.3 98 426.2 98.1 427.9 100.2 434.4 100.2 436.1 99.3 437.7 97.3 438.7 94.5 438.2 91.5 434.4 91.1 432.8 91.4 429.5 90.7 427.9 87.5 422.9 84.6 419.9 83.9 418 83.8 413.1 85.2 404.8 83.2 398.3 83.2 391.7 83.7 388.4 87.4 381.1 88.4 380.2 93.1 377.9 97.3 373.9 98.7 373.3 110 371.3 114.7 367M118.4 426.1 118.4 426.5 118.8 426.2 118.4 426.1M119.7 367 125.5 366.9 133.9 367.6 136.1 368.7 140.8 373.6 144.6 380.2 146.1 385.1 146.3 390.1 145.6 398.3 144.2 404.8 142.4 407.2 139.6 408.4 133.9 408.2 131.1 408.7 129.6 409.8 126.9 413.1 124.1 415 115.6 416.9 112.8 416.9 108.6 415.2 104.3 411.2 97.3 410.2 94.5 409 93.1 407.9 88.3 401.6 87.5 399.9 86.9 396.6 87.2 391.7 88.1 388.4 91.6 381.8 97.3 376.3 100.1 374.8 110 372.4 114.2 368.3 119.7 367M115.7 368.7 119.8 367.8 124.1 367.7 132.5 368.4 135.4 369.3 139.6 373.8 141 375.9 143.6 381.8 144 386.8 142.8 396.6 141 400.4 139.6 402.2 138.2 402.8 128.3 403 125.7 404.8 122.7 410.3 119.8 411.3 115.6 411.7 111.4 410.9 105.7 406.7 98.7 406 95.9 405 93.1 402.9 90.6 399.9 89.6 395 90.9 390.1 97.3 380.2 101 376.9 103.9 375.3 110 373.6 115.7 368.7M119.8 368.7 126.7 368.7 133.9 370 139.2 375.3 141.2 380.2 141.8 385.1 141.2 393.3 139.6 396.6 138.2 397.6 135.4 398.5 126.9 398.9 124.7 399.9 119.8 403.4 114.2 405 105.7 403.2 98.7 402.7 95.9 401.5 93.1 398.3 92.4 395 92.7 393.3 94.3 390.1 99 383.5 104.3 377.2 111.4 374.1 115.6 370 119.8 368.7M117.6 370.3 121.3 369.5 125.5 369.7 129 370.3 132.9 372 133.9 372.8 137.1 376.9 138.2 380.5 139 386.8 138.1 391.7 136.8 393.2 135.4 394 125.5 395.8 118.4 399 115.6 399.8 105.7 399.5 101.5 399.9 98.7 398.8 96.7 396.6 96.3 395 96.7 393.3 100.1 388.1 103.1 381.8 105.7 378.7 111.4 376 115.2 372 117.6 370.3M117.8 372 122.7 370.5 127.1 372 129.3 375.3 129.7 378.5 128.7 380.2 124.1 384 117.2 388.4 113.2 391.7 110 392.9 105.7 392.9 104.3 390.8 103.9 388.4 104 385.1 104.5 383.5 107.2 380.6 112.8 377.6 115.9 373.6 117.8 372M119.1 373.6 121.3 372.5 122.7 372.3 124.7 373.6 125.1 375.3 124.8 376.9 122.7 379.4 118.4 380.2 117.1 378.5 117.7 375.3 119.1 373.6M107.9 383.5 110 382.4 111.4 382.5 112.8 383.5 112.9 385.1 111.4 387.1 110 387.7 108.6 387.5 107.5 386.8 107 385.1 107.9 383.5"/>
<g transform="translate(27.5 328.4) scale(0.9952 0.9935)">
<use href="#coast"/>
</g>
<rect x="27.5" y="328.4" width="186.1" height="138.1" fill="none" stroke="#7a7a7a" stroke-width="1"/>
<path d="M44.4 328.4v2M44.4 466.5v-2M78.3 328.4v2M78.3 466.5v-2M112.1 328.4v2M112.1 466.5v-2M145.9 328.4v2M145.9 466.5v-2M179.8 328.4v2M179.8 466.5v-2M27.5 427.0h2M213.6 427.0h-2M27.5 387.6h2M213.6 387.6h-2M27.5 348.1h2M213.6 348.1h-2" stroke="#7a7a7a" stroke-width="1" fill="none"/>
<text x="31.8" y="343.3" font-size="12.9" font-weight="bold" fill="#111">(c) Cluster III</text>
<text x="23.9" y="470.9" font-size="10.3" text-anchor="end" fill="#333">0°</text>
<text x="23.9" y="431.4" font-size="10.3" text-anchor="end" fill="#333">20°N</text>
<text x="23.9" y="392" font-size="10.3" text-anchor="end" fill="#333">40°N</text>
<text x="23.9" y="352.5" font-size="10.3" text-anchor="end" fill="#333">60°N</text>
<path fill="#dbdd5b" shape-rendering="crispEdges" d="M159 503h5v6h-5zM146 508h14v6h-14zM163 508h18v6h-18zM192 508h18v6h-18zM125 513h22v6h-22zM180 513h13v6h-13zM205 513h5v6h-5zM121 518h5v6h-5zM201 518h5v6h-5zM121 523h5v6h-5zM201 523h5v6h-5zM116 528h6v5h-6zM201 528h5v5h-5zM108 532h9v6h-9zM201 532h5v6h-5zM104 537h5v6h-5zM192 537h10v6h-10zM99 542h6v6h-6zM188 542h5v6h-5zM82 547h18v6h-18zM184 547h5v6h-5zM78 552h5v6h-5zM180 552h5v6h-5zM78 557h5v6h-5zM180 557h5v6h-5zM82 562h6v6h-6zM184 562h9v6h-9zM82 567h6v6h-6zM192 567h10v6h-10zM78 572h5v6h-5zM192 572h10v6h-10zM74 577h5v6h-5zM188 577h5v6h-5zM74 582h5v6h-5zM180 582h9v6h-9zM78 587h5v6h-5zM167 587h14v6h-14zM82 592h10v6h-10zM159 592h9v6h-9zM91 597h14v6h-14zM154 597h6v6h-6zM104 602h9v6h-9zM150 602h10v6h-10zM112 607h39v6h-39z"/><path fill="#f39e3e" shape-rendering="crispEdges" d="M159 508h5v6h-5zM146 513h14v6h-14zM163 513h18v6h-18zM192 513h14v6h-14zM125 518h22v6h-22zM180 518h13v6h-13zM197 518h5v6h-5zM125 523h5v6h-5zM197 523h5v6h-5zM121 528h5v5h-5zM197 528h5v5h-5zM116 532h6v6h-6zM192 532h10v6h-10zM108 537h9v6h-9zM188 537h5v6h-5zM104 542h5v6h-5zM184 542h5v6h-5zM99 547h6v6h-6zM180 547h5v6h-5zM82 552h18v6h-18zM176 552h5v6h-5zM82 557h6v6h-6zM176 557h5v6h-5zM87 562h5v6h-5zM180 562h5v6h-5zM87 567h5v6h-5zM184 567h9v6h-9zM82 572h6v6h-6zM188 572h5v6h-5zM78 577h5v6h-5zM180 577h9v6h-9zM78 582h5v6h-5zM167 582h14v6h-14zM82 587h10v6h-10zM159 587h9v6h-9zM91 592h14v6h-14zM154 592h6v6h-6zM104 597h9v6h-9zM150 597h5v6h-5zM112 602h39v6h-39z"/><path fill="#dd6c55" shape-rendering="crispEdges" d="M159 513h5v6h-5zM176 518h5v6h-5zM188 523h10v6h-10zM188 528h5v5h-5zM95 567h5v6h-5zM180 567h5v6h-5zM104 572h5v6h-5zM121 572h5v6h-5zM167 572h5v6h-5zM176 572h5v6h-5zM163 577h9v6h-9zM82 582h10v6h-10zM133 587h5v6h-5zM104 592h5v6h-5zM116 592h10v6h-10zM121 597h5v6h-5z"/><path fill="#8e4c82" shape-rendering="crispEdges" d="M146 518h5v6h-5zM133 523h5v6h-5zM163 547h5v6h-5zM176 547h5v6h-5zM125 552h9v6h-9zM137 552h10v6h-10zM116 557h6v6h-6z"/><path fill="#9c4f7e" shape-rendering="crispEdges" d="M150 518h10v6h-10zM180 532h5v6h-5zM163 552h5v6h-5zM171 552h6v6h-6zM137 557h6v6h-6z"/><path fill="#a9527a" shape-rendering="crispEdges" d="M159 518h5v6h-5zM125 557h13v6h-13zM150 557h5v6h-5zM108 562h5v6h-5zM116 562h10v6h-10zM142 562h9v6h-9z"/><path fill="#bd596e" shape-rendering="crispEdges" d="M163 518h5v6h-5zM180 528h5v5h-5zM129 562h5v6h-5zM150 562h5v6h-5zM159 562h5v6h-5zM137 567h6v6h-6zM159 582h5v6h-5z"/><path fill="#c35b69" shape-rendering="crispEdges" d="M167 518h5v6h-5zM184 532h5v6h-5zM99 562h10v6h-10zM154 577h6v6h-6z"/><path fill="#ca5e64" shape-rendering="crispEdges" d="M171 518h6v6h-6zM176 523h5v6h-5zM188 532h5v6h-5zM129 567h9v6h-9zM150 567h5v6h-5zM133 577h5v6h-5zM150 577h5v6h-5zM116 582h10v6h-10zM142 582h5v6h-5zM146 587h5v6h-5z"/><path fill="#d96858" shape-rendering="crispEdges" d="M192 518h6v6h-6zM184 523h5v6h-5zM91 557h5v6h-5zM95 562h5v6h-5zM159 567h5v6h-5zM167 567h10v6h-10zM91 572h9v6h-9zM108 572h14v6h-14zM159 572h9v6h-9zM180 572h5v6h-5zM87 577h18v6h-18zM91 582h5v6h-5zM99 582h6v6h-6zM108 582h5v6h-5zM91 587h5v6h-5zM104 587h30v6h-30zM137 587h6v6h-6zM146 592h9v6h-9z"/><path fill="#a2507c" shape-rendering="crispEdges" d="M129 523h5v6h-5zM159 552h5v6h-5zM167 552h5v6h-5zM99 557h6v6h-6zM142 557h9v6h-9zM154 557h10v6h-10zM171 557h6v6h-6z"/><path fill="#6c468a" shape-rendering="crispEdges" d="M137 523h6v6h-6zM167 523h5v6h-5z"/><path fill="#444297" shape-rendering="crispEdges" d="M142 523h5v6h-5zM154 523h10v6h-10zM137 528h6v5h-6zM137 532h6v6h-6zM167 532h10v6h-10zM146 537h5v6h-5zM176 537h5v6h-5zM133 542h5v6h-5zM146 542h9v6h-9zM171 542h10v6h-10zM116 547h6v6h-6z"/><path fill="#30449a" shape-rendering="crispEdges" d="M146 523h5v6h-5zM129 532h5v6h-5zM146 532h9v6h-9zM163 532h5v6h-5zM163 537h5v6h-5z"/><path fill="#4a4296" shape-rendering="crispEdges" d="M150 523h5v6h-5zM167 528h5v5h-5zM133 532h5v6h-5zM112 542h10v6h-10zM142 542h5v6h-5zM121 547h5v6h-5zM108 552h5v6h-5z"/><path fill="#4f4294" shape-rendering="crispEdges" d="M163 523h5v6h-5zM154 542h10v6h-10zM125 547h5v6h-5z"/><path fill="#954d80" shape-rendering="crispEdges" d="M171 523h6v6h-6zM176 528h5v5h-5zM154 552h6v6h-6zM104 557h5v6h-5zM121 557h5v6h-5z"/><path fill="#d4645c" shape-rendering="crispEdges" d="M180 523h5v6h-5zM184 528h5v5h-5zM99 567h14v6h-14zM116 567h14v6h-14zM176 567h5v6h-5zM87 572h5v6h-5zM99 572h6v6h-6zM129 572h14v6h-14zM150 572h10v6h-10zM108 577h5v6h-5zM116 577h6v6h-6zM125 577h9v6h-9zM142 577h5v6h-5zM95 582h5v6h-5zM104 582h5v6h-5zM125 582h5v6h-5zM133 582h10v6h-10zM95 587h10v6h-10z"/><path fill="#814985" shape-rendering="crispEdges" d="M125 528h5v5h-5z"/><path fill="#5f448e" shape-rendering="crispEdges" d="M129 528h5v5h-5zM171 528h6v5h-6zM116 537h6v6h-6zM142 547h13v6h-13z"/><path fill="#5a4490" shape-rendering="crispEdges" d="M133 528h5v5h-5zM163 542h5v6h-5zM104 552h5v6h-5zM116 552h6v6h-6z"/><path fill="#22438a" shape-rendering="crispEdges" d="M142 528h5v5h-5zM150 528h5v5h-5zM104 547h9v6h-9z"/><path fill="#173560" shape-rendering="crispEdges" d="M146 528h5v5h-5z"/><path fill="#26438e" shape-rendering="crispEdges" d="M154 528h6v5h-6z"/><path fill="#1b3a6e" shape-rendering="crispEdges" d="M159 528h5v5h-5z"/><path fill="#2c4496" shape-rendering="crispEdges" d="M163 528h5v5h-5zM159 532h5v6h-5z"/><path fill="#e6744e" shape-rendering="crispEdges" d="M192 528h6v5h-6zM91 562h5v6h-5zM91 567h5v6h-5zM82 577h6v6h-6zM112 597h5v6h-5zM125 597h9v6h-9zM137 597h10v6h-10z"/><path fill="#7a4887" shape-rendering="crispEdges" d="M121 532h5v6h-5zM154 547h6v6h-6zM99 552h6v6h-6z"/><path fill="#3d4398" shape-rendering="crispEdges" d="M125 532h5v6h-5zM121 537h5v6h-5zM133 537h14v6h-14zM150 537h10v6h-10zM167 537h5v6h-5zM137 542h6v6h-6z"/><path fill="#364499" shape-rendering="crispEdges" d="M142 532h5v6h-5zM154 532h6v6h-6zM159 537h5v6h-5zM171 537h6v6h-6zM108 542h5v6h-5zM121 542h5v6h-5zM129 542h5v6h-5zM112 547h5v6h-5z"/><path fill="#66458c" shape-rendering="crispEdges" d="M176 532h5v6h-5z"/><path fill="#1e3e7c" shape-rendering="crispEdges" d="M125 537h5v6h-5z"/><path fill="#294492" shape-rendering="crispEdges" d="M129 537h5v6h-5zM125 542h5v6h-5z"/><path fill="#884a84" shape-rendering="crispEdges" d="M180 537h5v6h-5zM180 542h5v6h-5zM159 547h5v6h-5zM167 547h10v6h-10zM133 552h5v6h-5zM146 552h9v6h-9zM108 557h9v6h-9z"/><path fill="#b05478" shape-rendering="crispEdges" d="M184 537h5v6h-5zM163 557h9v6h-9zM112 562h5v6h-5zM133 562h10v6h-10zM150 582h10v6h-10zM154 587h6v6h-6z"/><path fill="#544392" shape-rendering="crispEdges" d="M167 542h5v6h-5zM129 547h14v6h-14zM112 552h5v6h-5z"/><path fill="#734789" shape-rendering="crispEdges" d="M121 552h5v6h-5z"/><path fill="#e8794b" shape-rendering="crispEdges" d="M87 557h5v6h-5zM184 572h5v6h-5zM133 597h5v6h-5z"/><path fill="#b65673" shape-rendering="crispEdges" d="M95 557h5v6h-5zM125 562h5v6h-5zM154 562h6v6h-6zM163 562h18v6h-18zM142 567h9v6h-9zM150 587h5v6h-5z"/><path fill="#d0605f" shape-rendering="crispEdges" d="M112 567h5v6h-5zM154 567h6v6h-6zM163 567h5v6h-5zM125 572h5v6h-5zM142 572h9v6h-9zM104 577h5v6h-5zM112 577h5v6h-5zM121 577h5v6h-5zM137 577h6v6h-6zM146 577h5v6h-5zM159 577h5v6h-5zM112 582h5v6h-5zM129 582h5v6h-5zM146 582h5v6h-5zM163 582h5v6h-5zM142 587h5v6h-5z"/><path fill="#e27051" shape-rendering="crispEdges" d="M171 572h6v6h-6zM171 577h10v6h-10zM108 592h9v6h-9zM125 592h22v6h-22zM116 597h6v6h-6zM146 597h5v6h-5z"/><path fill="none" stroke="#3a2a2a" stroke-width="0.55" stroke-opacity="0.6" d="M158.9 507 160.7 505.7 162.1 505.8 166.4 509.4 167.8 509.8 177.6 510 180.5 511.4 183.3 514.3 184.7 514.8 190.3 514.6 194.6 510.8 197.4 509.9 204.4 510.2 205.8 510.8 206.9 511.9 207.4 513.6 207.2 515.2 204.1 520.1 203.6 533.3 202.5 536.6 200.2 538.5 195.7 539.9 183.3 554.5 182.5 556.4 183 559.7 186.1 563.6 187.5 565 191.7 566.1 193.2 567 194.8 569.5 195.2 572.8 194.5 576.1 189.3 582.7 187.5 584 183.3 585.1 179.1 589 170.6 590.1 166.4 593.9 162.1 595.1 160.7 596.3 155.1 603.4 150.9 607.7 149.5 608.9 146.6 609.8 114.2 609.5 112.8 608.7 110 605.7 104.3 603.8 101.5 600.8 100.1 600 93.1 599.4 91.6 598.8 87.4 595 83.2 593.9 81.8 592.7 77.5 587.6 76.6 586 76.1 582.7 76.5 579.4 77.4 577.8 83.2 570.8 84.5 567.9 83.7 564.6 81.1 561.3 80.6 559.7 80.6 554.7 81.8 552.4 84.6 550.6 94.5 550.4 96.3 549.8 107.2 537.4 110 535.5 112.8 535 114.2 534 118.4 529.3 122.7 523.9 123.9 518.5 125.5 516.2 128.3 515 142.4 514.8 143.8 514.1 148 510.4 155.1 509.8 156.5 509.3 158.9 507M159.1 510.3 160.7 509 162.1 509.1 166.4 512.3 177.6 513 179.1 513.6 182.5 516.9 184.7 517.7 190.3 517.6 191.7 516.9 196 513.2 198.8 512.9 203.2 513.6 203.5 515.2 201.7 518.5 201.4 520.1 201.2 531.7 200.2 535 196 536.7 194.6 537.9 182 553.1 180.2 556.4 180.5 559.7 184.7 565.3 187.5 568 191.5 569.5 192.4 571.2 192.3 574.5 191.6 576.1 188.9 579.4 186.9 581.1 183.3 582 178.6 586 170.6 587.1 166.4 590.8 162.1 592.3 156.7 597.5 149.5 605.6 146.6 606.8 115.6 606.8 113.3 605.8 110 602.5 105.7 601.4 101.5 597.7 100.1 597 93.1 596.5 88.8 592.8 83.2 590.6 79.3 586 78.5 582.7 79.3 579.4 85.7 571.2 87 567.9 86.5 564.6 83.2 559.7 83 556.4 83.6 554.7 86 553.4 94.5 553.2 97.3 551.7 107.2 540 108.6 538.7 114.2 536.7 117.4 533.3 124.2 525.1 125.2 523.4 126.1 520.1 127.3 518.5 129.7 517.8 142.4 517.4 143.8 516.9 148 513.2 149.5 512.7 156.5 512.2 159.1 510.3M160.5 511.9 162.1 511.8 166.4 514.5 177.6 515.5 181.9 519 184.7 520.2 190.3 520.1 191.7 519.6 196 516 197.4 516.1 198.8 517.8 199.2 520.1 199 526.7 198.6 530 198 531.7 194.6 535.3 179.1 554.7 178.6 556.4 178.8 559.7 179.8 561.3 184.7 568.2 189.1 572.8 189.4 574.5 187.5 577.6 181.9 580.2 177.6 583.6 170.6 584.5 166.4 588.5 160.7 591.1 149.5 602.8 146.6 604.1 122.7 604.3 115.6 604 114.2 603.5 110 599.7 105.7 598.8 101.5 595.1 93.1 593.9 88.8 590.1 84.6 588.8 83.2 587.8 81 584.4 81.1 581.1 81.8 579.4 88 571.2 89.3 567.9 88.9 564.6 86.1 559.7 86.2 558 87.4 556.8 94.5 555.4 95.9 554.9 97.3 553.7 102.7 546.5 108.6 540.2 114.4 538.3 122.7 529 125.9 525.1 128.3 521.1 129.6 520.1 132.5 519.5 142.4 519 143.9 518.5 148 515 149.5 514.5 156.5 514.2 160.5 511.9M158.4 515.2 160.7 514.1 162.1 514.2 166.4 516.3 176.2 517.4 178.3 518.5 181.9 521.6 184.7 522.6 188.9 522.9 191.7 522.7 194.6 520.1 196 519.6 196.4 520.1 196.7 523.4 196 528.3 192.7 535 184.7 546.5 177.7 554.7 177.2 556.4 177.6 560.5 180.5 564.6 185 572.8 185.4 574.5 184.7 575.5 180.6 577.8 177.6 580.2 170.6 581.5 169.2 582.3 166.4 586.1 165 587.2 160.7 589 157.5 592.6 148 600.4 146.6 600.8 139.6 600.5 135.4 599.8 122.7 601.4 116.9 600.8 114.2 599.6 111.4 596.9 105.7 595.8 102.9 593.1 101.5 592.4 94.5 591.8 93.1 591.3 88.8 587.1 84.6 585.6 83.7 584.4 83.5 582.7 83.8 581.1 87.4 574.9 91.2 571.2 92 569.5 92.2 566.2 90.4 561.3 90.3 559.7 93 558 95.9 556.9 97.3 555.8 102.9 547.5 108.3 541.5 110 540.6 114.2 539.7 129.7 522.1 131.1 521.3 142.4 520.2 143.8 519.8 148 516.4 149.5 515.9 155.1 515.8 158.4 515.2M158.2 516.9 160.7 516.3 162.1 516.5 165 517.6 173.4 518.9 176.2 520 180.5 523.8 186.1 526.7 190.3 532.6 190.1 535 187.8 539.9 183.5 546.5 177.4 553.1 176.4 554.7 176 559.7 176.4 561.3 179.1 565.8 179.1 568.1 177.6 569.4 172 569.5 166.4 571.4 165 571.2 162.1 569.8 160.7 570 159.3 571.2 158 574.5 163.6 580.4 164.7 582.7 164.4 584.4 160.7 586.7 156.5 591.4 152.3 593.4 150.9 593.6 148 592.7 142.6 589.3 139.6 586.5 138.2 586.1 131.1 586.3 128.3 584.9 124.1 587.9 121.3 588.6 117 588.5 114.2 587.9 112.8 586.9 110 582.3 108.6 582.2 105.7 583.4 104.8 582.7 104.1 581.1 104.8 579.4 105.7 579 110 578.9 112.8 577.2 114.2 576.8 118.4 578.7 124.1 578.5 125.5 578.2 125.8 576.1 125.3 572.8 124.1 571.7 122.7 571.3 118.4 571.6 114.2 573.8 112.8 573.6 107.2 571 101.5 570.7 100.1 569.2 95.5 563 94.8 561.3 95.4 559.7 97.3 558 103.3 548.1 108.6 542.3 110 541.5 114.2 540.8 115.4 539.9 131.1 522.8 143.8 520.8 148 517.7 149.5 517.2 158.2 516.9M126.9 579.3 126.9 581.1 128.3 581.6 128.3 580.3 126.9 579.3M149.3 518.5 160.7 518.3 173.4 521.2 174.8 522 181.4 528.4 185 533.3 186.4 536.6 186 539.9 183.3 545.2 179.1 550 175.7 553.1 174.5 556.4 173.4 563.2 172 563.7 166.4 563.8 162.1 563.4 156.5 564.5 153.7 564.1 152.1 564.6 148 569 145.2 569.6 141 568.6 133.9 564.8 131.1 563.9 128.3 564.3 122.7 566.2 111.4 566.2 102.9 563.2 99.9 561.3 99.2 559.7 100.3 554.7 104.1 548.1 108.6 543.3 110 542.4 114.2 541.7 115.6 540.9 126.9 528.4 131.1 524.5 132.5 523.8 143.8 521.7 149.3 518.5M154.9 584.4 156.5 584.5 156.9 586 156.2 587.6 155.1 588.4 153.3 587.6 153.3 586 154.9 584.4M148.5 520.1 150.9 519.7 160.7 520.1 169.2 521.9 172.7 523.4 179.1 530 182.4 535 183.7 538.3 183.8 539.9 182.2 544.8 179.1 548.4 173.4 552.3 172 552.8 166.4 552 163.6 552.5 152.3 556.9 148 557.3 143.8 556.8 139.6 557.6 128.3 556.5 126.9 556.9 121.3 560.5 112.8 561.8 110 561.6 105.7 560.3 102.9 559 101.9 558 101.3 556.4 101.6 554.7 103.8 549.8 110 543.2 114.2 542.7 115.6 542.1 126.9 529.8 131.1 526.4 133.9 525.1 143.8 522.6 148.5 520.1M147.9 521.8 149.5 521.3 160.7 521.8 167.8 523.4 171 525.1 176 530 180.5 536.4 181.2 538.3 181.6 541.5 180.6 544.8 179.1 546.6 176.2 548.2 173.4 548.5 165 547.5 157.9 549.2 153.7 551.6 150.9 552.4 143.8 552.1 138.2 552.8 126.9 553.1 119.8 556.6 114.2 558 108.6 558 104.3 556.4 103.5 554.7 104.6 549.8 110 544.2 114.2 543.7 117 542.3 126.9 531.5 131.1 528.6 147.9 521.8M147.4 523.4 149.5 523 153.7 523.6 160.7 523.6 165 524.6 167.8 526 173.4 531.5 177.6 536.6 179.2 539.9 179.1 543.4 178.1 544.8 176.2 545.7 173.4 545.6 169.2 544.3 165 544.2 157.9 545.2 150.9 547.9 145.2 547.7 139.6 549 135.4 549.1 125.5 550.5 122.7 551.1 117 553.7 111.4 555.2 108.6 555.2 105.7 554 105.1 551.4 105.6 549.8 110 545.5 111.4 544.8 114.2 545.1 117 544.5 125.4 535 128.3 532.6 131.1 531.3 135.4 531.1 136.8 530.3 140.4 526.7 143 525.1 147.4 523.4M147.9 525.1 155.1 526.3 160.7 525.9 163.7 526.7 165.8 528.4 166.9 530 167.3 533.3 167 536.6 166.4 538.2 165 538.9 162.1 539.1 156.5 536.5 150.9 536.9 145.2 535.9 143.8 535.1 142.3 533.3 141.7 531.7 141.6 530 142.3 528.4 143.9 526.7 147.9 525.1M126.5 536.6 128.3 535.5 131.1 535.1 133.2 536.6 134.5 539.9 134.1 541.5 132.5 543.7 129.7 545.6 126.9 546.4 124.1 545.3 123.2 543.2 123.9 539.9 126.5 536.6M109.4 548.1 111.4 547.2 112.8 548.1 113.1 549.8 111.8 551.4 110 552.2 107.2 551.7 107.3 549.8 109.4 548.1M147.1 530 148 528.9 149.5 529.3 150.2 530 148 530.5 147.1 530"/>
<g transform="translate(27.5 483.1) scale(0.9952 0.9950)">
<use href="#coast"/>
</g>
<rect x="27.5" y="483.1" width="186.1" height="138.3" fill="none" stroke="#7a7a7a" stroke-width="1"/>
<path d="M44.4 483.1v2M44.4 621.4v-2M78.3 483.1v2M78.3 621.4v-2M112.1 483.1v2M112.1 621.4v-2M145.9 483.1v2M145.9 621.4v-2M179.8 483.1v2M179.8 621.4v-2M27.5 581.9h2M213.6 581.9h-2M27.5 542.4h2M213.6 542.4h-2M27.5 502.9h2M213.6 502.9h-2" stroke="#7a7a7a" stroke-width="1" fill="none"/>
<text x="31.8" y="498" font-size="12.9" font-weight="bold" fill="#111">(d) Cluster IV</text>
<text x="23.9" y="625.8" font-size="10.3" text-anchor="end" fill="#333">0°</text>
<text x="23.9" y="586.3" font-size="10.3" text-anchor="end" fill="#333">20°N</text>
<text x="23.9" y="546.8" font-size="10.3" text-anchor="end" fill="#333">40°N</text>
<text x="23.9" y="507.3" font-size="10.3" text-anchor="end" fill="#333">60°N</text>
<path fill="#dbdd5b" shape-rendering="crispEdges" d="M66 707h26v6h-26zM66 712h5v6h-5zM91 712h47v6h-47zM61 717h6v6h-6zM137 717h10v6h-10zM49 722h13v6h-13zM142 722h5v6h-5zM49 727h5v6h-5zM137 727h10v6h-10zM49 732h5v6h-5zM133 732h5v6h-5zM49 737h5v6h-5zM129 737h5v6h-5zM53 742h5v6h-5zM129 742h5v6h-5zM53 747h5v6h-5zM133 747h18v6h-18zM57 752h5v6h-5zM150 752h22v6h-22zM57 757h14v6h-14zM91 757h26v6h-26zM167 757h5v6h-5zM70 762h22v6h-22zM116 762h52v6h-52z"/><path fill="#f39e3e" shape-rendering="crispEdges" d="M70 712h22v6h-22zM66 717h5v6h-5zM91 717h47v6h-47zM61 722h6v6h-6zM137 722h6v6h-6zM53 727h9v6h-9zM133 727h5v6h-5zM53 732h5v6h-5zM129 732h5v6h-5zM53 737h5v6h-5zM125 737h5v6h-5zM57 742h5v6h-5zM125 742h5v6h-5zM57 747h5v6h-5zM129 747h5v6h-5zM61 752h10v6h-10zM91 752h26v6h-26zM133 752h18v6h-18zM70 757h22v6h-22zM116 757h52v6h-52z"/><path fill="#e27051" shape-rendering="crispEdges" d="M70 717h5v6h-5zM82 722h10v6h-10zM95 722h5v6h-5zM116 722h10v6h-10zM129 722h5v6h-5zM70 727h5v6h-5zM78 727h10v6h-10zM70 732h9v6h-9zM125 732h5v6h-5zM108 737h5v6h-5zM66 742h5v6h-5zM112 742h14v6h-14zM108 747h5v6h-5zM116 747h10v6h-10zM116 752h6v6h-6zM125 752h5v6h-5z"/><path fill="#e6744e" shape-rendering="crispEdges" d="M74 717h5v6h-5zM82 717h6v6h-6zM66 722h5v6h-5zM74 722h9v6h-9zM91 722h5v6h-5zM125 722h5v6h-5zM66 727h5v6h-5zM74 727h5v6h-5zM129 727h5v6h-5zM78 732h10v6h-10zM66 737h9v6h-9zM78 737h5v6h-5zM70 742h5v6h-5zM78 742h5v6h-5zM61 747h6v6h-6zM70 747h5v6h-5zM112 747h5v6h-5zM125 747h5v6h-5z"/><path fill="#ea7e49" shape-rendering="crispEdges" d="M78 717h5v6h-5zM133 722h5v6h-5zM57 732h5v6h-5zM70 752h13v6h-13z"/><path fill="#e8794b" shape-rendering="crispEdges" d="M87 717h5v6h-5zM61 727h6v6h-6zM66 732h5v6h-5zM57 737h10v6h-10zM74 737h5v6h-5zM61 742h6v6h-6zM74 742h5v6h-5zM66 747h5v6h-5zM74 747h14v6h-14zM82 752h6v6h-6z"/><path fill="#dd6c55" shape-rendering="crispEdges" d="M70 722h5v6h-5zM87 727h9v6h-9zM121 727h9v6h-9zM87 732h5v6h-5zM82 737h10v6h-10zM82 742h6v6h-6zM108 742h5v6h-5zM87 747h5v6h-5zM87 752h5v6h-5zM121 752h5v6h-5z"/><path fill="#d0605f" shape-rendering="crispEdges" d="M99 722h6v6h-6zM108 722h5v6h-5zM116 727h6v6h-6zM112 737h5v6h-5zM99 742h6v6h-6zM95 747h5v6h-5z"/><path fill="#bd596e" shape-rendering="crispEdges" d="M104 722h5v6h-5z"/><path fill="#d96858" shape-rendering="crispEdges" d="M112 722h5v6h-5zM95 727h22v6h-22zM91 732h14v6h-14zM108 732h5v6h-5zM104 737h5v6h-5zM104 742h5v6h-5zM104 747h5v6h-5zM129 752h5v6h-5z"/><path fill="#ec8246" shape-rendering="crispEdges" d="M61 732h6v6h-6z"/><path fill="#d4645c" shape-rendering="crispEdges" d="M104 732h5v6h-5zM91 737h5v6h-5zM99 737h6v6h-6zM87 742h9v6h-9zM91 747h5v6h-5zM99 747h6v6h-6z"/><path fill="#c35b69" shape-rendering="crispEdges" d="M112 732h5v6h-5z"/><path fill="#b05478" shape-rendering="crispEdges" d="M116 732h6v6h-6z"/><path fill="#ca5e64" shape-rendering="crispEdges" d="M121 732h5v6h-5zM95 737h5v6h-5zM121 737h5v6h-5zM95 742h5v6h-5z"/><path fill="#b65673" shape-rendering="crispEdges" d="M116 737h6v6h-6z"/><path fill="none" stroke="#3a2a2a" stroke-width="0.55" stroke-opacity="0.6" d="M69.6 711.4 73.3 710.5 87.4 710.7 90.2 712 92.7 714.7 94.5 715.5 132.5 715.6 135.4 715.8 136.8 716.5 142.4 722.4 143.2 724.6 143 726.2 142.2 727.9 135.4 735.3 131.1 740.9 131 744.3 132 746 135.4 749.8 136.8 750.7 148 751.2 149.5 751.8 152.3 754.8 154 755.8 166.4 756.5 167.9 757.5 168.7 759.1 168.8 760.8 168.1 762.4 166.4 764.1 163.6 764.8 119.8 764.8 117 763.7 114.2 760.6 112.8 759.9 95.9 759.8 93.1 760.4 90.2 763.3 87.4 764.7 73.3 764.8 70.5 764.1 66.3 760.2 62 759.4 59.6 757.5 55 750.9 54.1 746 50.8 741 50.2 737.7 50.3 731.2 51.2 727.9 52.2 726.7 53.6 726 56.4 725.6 58.4 724.6 69.6 711.4M70.1 714.7 71.9 713.6 73.3 713.4 86 713.4 88.8 714.3 91.6 717.2 94.5 718.4 132.5 718.5 135.4 718.9 139.2 722.9 140 724.6 139.7 726.2 129.2 739.4 128.4 742.7 128.5 744.3 129.7 746.8 135.4 753.1 136.8 753.8 146.9 754.2 148 754.6 150.9 757.8 153.7 759.7 162.1 760 163.6 760.2 164.3 760.8 148 761.6 121.3 761.9 118.4 761.4 114.2 757.5 112.8 757 95.9 756.9 93.1 757.4 88.8 761.1 87.4 761.7 71.9 761.6 66.9 757.5 62 756 58.9 752.5 57.2 749.3 56.4 745.1 53.7 741 52.8 737.7 52.9 732.8 53.6 730 55 729 57.8 728.3 59.2 727.3 70.1 714.7M72.6 716.3 86.2 716.3 88.8 717.5 91.6 720.2 94.5 721.1 107.2 720.5 131.1 721.2 133.9 721.6 135.4 722.3 136.9 724.6 136.7 726.2 128.1 737.7 127.1 739.4 126.3 742.7 126.7 746 133.6 754.2 134.3 755.8 134.2 757.5 132.5 758.9 131.1 759.3 119.8 759.2 118.4 758.6 114.2 754.6 111.4 754.2 93.1 754.9 88.8 758.4 87.4 759 73.3 758.6 70.8 757.5 67.7 754.7 63.5 753.6 62 752.7 60.5 750.9 59.8 749.3 58.8 744.3 55.7 739.4 55.5 737.7 56 734.4 56.9 732.8 60.6 729.3 69.1 718.8 70.5 717.3 72.6 716.3M70.3 721.3 71.9 720 73.3 719.8 79 721.6 83.2 720.4 86 720.4 87.4 720.9 90.2 723.5 93.1 724.6 101.5 722.7 105.7 722.3 119.8 724.3 131.1 724.8 132.4 726.2 132 727.9 125.8 737.7 124.7 741 123.8 746 124.3 747.6 125.4 749.3 130.2 754.2 130.7 755.8 122.7 756.4 119.8 756 118.4 755 115.6 751.5 112.8 750.9 104.3 752 93.1 752.4 91.6 752.8 87.8 755.8 86 755.9 83.5 754.2 81.8 751.3 77.7 747.6 76.1 744.3 74.7 744.7 74.5 749.3 73.3 751.2 71.9 751.5 67.7 749.7 64.9 749.3 63.7 747.6 63.7 742.7 64 741 66.5 736.1 66.6 734.4 65.7 731.2 66 729.5 67.7 725.1 70.3 721.3M101.4 726.2 105.7 724.6 109.8 726.2 108.9 727.9 107.2 728.7 104.3 729.1 102.9 728.9 101.5 728 101.4 726.2M116.4 729.5 118.4 729.5 119.8 730.1 123.1 732.8 123.8 734.4 122.7 740.2 121.3 742.3 119.8 743 117 743.1 114.2 741.7 112.8 739.9 111.9 737.7 111.5 734.4 112 732.8 114.2 730.4 116.4 729.5M96.8 737.7 98.7 738 100.8 739.4 102.1 741 103.2 744.3 103.1 746 102.2 747.6 98.7 749.2 97.3 749.4 95.8 749.3 93.1 747.6 92.3 746 92.1 744.3 92.9 741 93.8 739.4 95.9 737.9 96.8 737.7"/>
<g transform="translate(27.5 638.2) scale(0.9952 0.9942)">
<use href="#coast"/>
</g>
<rect x="27.5" y="638.2" width="186.1" height="138.2" fill="none" stroke="#7a7a7a" stroke-width="1"/>
<path d="M44.4 638.2v2M44.4 776.4v-2M78.3 638.2v2M78.3 776.4v-2M112.1 638.2v2M112.1 776.4v-2M145.9 638.2v2M145.9 776.4v-2M179.8 638.2v2M179.8 776.4v-2M27.5 736.9h2M213.6 736.9h-2M27.5 697.4h2M213.6 697.4h-2M27.5 657.9h2M213.6 657.9h-2" stroke="#7a7a7a" stroke-width="1" fill="none"/>
<text x="31.8" y="653.1" font-size="12.9" font-weight="bold" fill="#111">(e) Cluster V</text>
<text x="23.9" y="780.8" font-size="10.3" text-anchor="end" fill="#333">0°</text>
<text x="23.9" y="741.3" font-size="10.3" text-anchor="end" fill="#333">20°N</text>
<text x="23.9" y="701.8" font-size="10.3" text-anchor="end" fill="#333">40°N</text>
<text x="23.9" y="662.3" font-size="10.3" text-anchor="end" fill="#333">60°N</text>
<text x="44.4" y="791.9" font-size="10.3" text-anchor="middle" fill="#333">100°E</text>
<text x="78.3" y="791.9" font-size="10.3" text-anchor="middle" fill="#333">120°E</text>
<text x="112.1" y="791.9" font-size="10.3" text-anchor="middle" fill="#333">140°E</text>
<text x="145.9" y="791.9" font-size="10.3" text-anchor="middle" fill="#333">160°E</text>
<text x="179.8" y="791.9" font-size="10.3" text-anchor="middle" fill="#333">180°</text>
<text x="209.6" y="791.9" font-size="10.3" text-anchor="middle" fill="#333">160°W</text>
<path fill="#dbdd5b" shape-rendering="crispEdges" d="M275 93h44v6h-44zM275 98h5v6h-5zM318 98h5v6h-5zM271 103h5v6h-5zM322 103h5v6h-5zM271 108h5v6h-5zM322 108h5v6h-5zM271 113h5v6h-5zM326 113h18v6h-18zM263 118h9v6h-9zM339 118h5v6h-5zM258 123h6v5h-6zM343 123h9v5h-9zM258 127h6v6h-6zM347 127h5v6h-5zM258 132h22v6h-22zM351 132h10v6h-10zM279 137h14v6h-14zM356 137h9v6h-9zM292 142h10v6h-10zM305 142h52v6h-52zM301 147h5v6h-5z"/><path fill="#f39e3e" shape-rendering="crispEdges" d="M279 98h40v6h-40zM275 103h5v6h-5zM318 103h5v6h-5zM275 108h5v6h-5zM318 108h5v6h-5zM275 113h5v6h-5zM322 113h5v6h-5zM271 118h5v6h-5zM326 118h14v6h-14zM263 123h9v5h-9zM339 123h5v5h-5zM263 127h17v6h-17zM343 127h5v6h-5zM279 132h14v6h-14zM347 132h5v6h-5zM292 137h10v6h-10zM305 137h52v6h-52zM301 142h5v6h-5z"/><path fill="#ca5e64" shape-rendering="crispEdges" d="M279 103h6v6h-6zM335 132h5v6h-5z"/><path fill="#d96858" shape-rendering="crispEdges" d="M284 103h5v6h-5zM309 127h5v6h-5zM318 132h5v6h-5zM343 132h5v6h-5z"/><path fill="#f19240" shape-rendering="crispEdges" d="M288 103h5v6h-5zM288 108h5v6h-5z"/><path fill="#ee8744" shape-rendering="crispEdges" d="M292 103h5v6h-5zM292 113h5v6h-5zM271 123h5v5h-5zM313 123h6v5h-6zM279 127h6v6h-6z"/><path fill="#e8794b" shape-rendering="crispEdges" d="M296 103h14v6h-14zM284 113h5v6h-5zM301 113h5v6h-5zM309 113h5v6h-5zM279 118h6v6h-6zM309 118h5v6h-5zM279 123h10v5h-10zM292 123h10v5h-10zM305 123h9v5h-9zM292 127h5v6h-5zM330 127h6v6h-6zM292 132h5v6h-5zM322 132h9v6h-9zM301 137h5v6h-5z"/><path fill="#e6744e" shape-rendering="crispEdges" d="M309 103h5v6h-5zM301 127h5v6h-5zM318 127h5v6h-5zM339 127h5v6h-5zM301 132h5v6h-5z"/><path fill="#ea7e49" shape-rendering="crispEdges" d="M313 103h6v6h-6zM296 108h6v6h-6zM305 108h14v6h-14zM279 113h6v6h-6zM305 113h5v6h-5zM313 113h10v6h-10zM275 118h5v6h-5zM288 118h9v6h-9zM301 118h5v6h-5zM313 118h14v6h-14zM288 123h5v5h-5zM301 123h5v5h-5zM322 123h18v5h-18zM284 127h9v6h-9zM296 127h6v6h-6zM322 127h9v6h-9z"/><path fill="#dd6c55" shape-rendering="crispEdges" d="M279 108h10v6h-10zM313 127h6v6h-6z"/><path fill="#f08c41" shape-rendering="crispEdges" d="M292 108h5v6h-5z"/><path fill="#ec8246" shape-rendering="crispEdges" d="M301 108h5v6h-5zM288 113h5v6h-5zM296 113h6v6h-6zM284 118h5v6h-5zM296 118h6v6h-6zM305 118h5v6h-5zM275 123h5v5h-5zM318 123h5v5h-5zM296 132h6v6h-6z"/><path fill="#e27051" shape-rendering="crispEdges" d="M305 127h5v6h-5zM335 127h5v6h-5zM330 132h6v6h-6z"/><path fill="#d4645c" shape-rendering="crispEdges" d="M305 132h5v6h-5z"/><path fill="#c35b69" shape-rendering="crispEdges" d="M309 132h5v6h-5z"/><path fill="#d0605f" shape-rendering="crispEdges" d="M313 132h6v6h-6zM339 132h5v6h-5z"/><path fill="none" stroke="#3a2a2a" stroke-width="0.55" stroke-opacity="0.6" d="M279.7 96.8 283 96 312.7 96 315.5 96.4 316.9 97.2 322.3 103.4 323.1 105.1 323.9 110.1 328.2 115.4 329.6 116.2 336.7 116.6 339.5 118.1 345.1 125.3 348.2 128.3 353.6 135.5 356.5 138.2 357.3 139.9 357.4 141.6 356.7 143.2 355 144.8 352.2 145.6 308.4 145.7 307 146.3 304.2 149.3 302.8 149.9 301.4 149.6 298.5 146.7 297.1 145.9 292.9 144.7 288.7 140.9 283 140.5 280.2 139.7 275.9 135.8 264.6 135.3 261.8 134.2 261 133.3 260.2 130 260.7 125 261.8 123.2 263.2 122.1 267.5 121 271.7 116.5 272.9 113.4 273.4 105.1 274.5 102.9 278.8 97.4 279.7 96.8M279.9 100.1 281.6 99.1 283 98.9 312.7 99 315.5 99.5 320.3 105.1 322 111.7 326.8 117.6 329.6 119.2 335.3 119.4 336.7 119.8 338.1 120.8 350.2 134.9 353.3 139.9 353.5 141.6 350.8 142.4 345.1 142.7 308.4 142.9 307 143.2 302.8 146.5 301.4 146 298.5 143.4 294.3 142.2 290.1 138.4 288.7 137.8 281.6 137.2 277.4 133.3 275.9 132.7 264.6 132 263 130 263.1 126.6 264.6 124.9 268.9 123.6 274.6 116.7 275.2 115 275.5 106.8 276 105.1 279.9 100.1M281 101.8 283 101.2 285.8 101.5 291.5 104.1 298.5 102 309.8 101.9 314.1 102.3 315.5 103.1 317.2 105.1 319.1 111.7 326.8 121.2 329.6 122.6 335.3 122.8 336.7 123.3 346.6 133.3 348.4 136.6 348.3 138.2 346.5 139.8 342.3 140.5 336.7 140.5 325.4 139.6 316.9 140.4 307 140.7 302.8 143.1 301.4 142.6 298.5 140 294.3 138.9 290.1 135.1 288.7 134.6 283 133.9 281.6 133.3 277.4 129.7 272.6 128.3 271.3 126.6 271.8 125 277.4 116.7 277.8 115 277.5 106.8 278.8 103.8 281 101.8M280 105.1 281.6 103.7 283 103.5 284.4 103.8 286.4 105.1 287 106.8 286.4 111.7 285.8 114 284.4 115.5 283 115.5 281.6 114.4 280.2 111.7 279.5 108.4 280 105.1M306.2 126.6 309.8 125.8 315.5 128.2 321.1 130 322.6 131.6 323.4 133.3 323.3 134.9 321.8 136.6 316.7 138.2 311.2 138.7 302.8 138.2 300.8 134.9 300.3 131.6 300.8 130 302.8 128.3 306.2 126.6M332.9 130 335.3 128.6 336.7 128.5 339.5 129.8 343.7 133.3 345.1 134.9 345.4 136.6 343.7 137.8 342.3 138.2 338.1 138.4 335.3 138 332.1 136.6 330.1 134.9 330.1 133.3 332.9 130M309.6 134.9 311.2 133.3 312.7 133.5 314.3 134.9 311.2 135.7 309.6 134.9"/>
<g transform="translate(224.4 18.1) scale(0.9968 1.0014)">
<use href="#coast"/>
</g>
<rect x="224.4" y="18.1" width="186.4" height="139.2" fill="none" stroke="#7a7a7a" stroke-width="1"/>
<path d="M241.3 18.1v2M241.3 157.3v-2M275.2 18.1v2M275.2 157.3v-2M309.1 18.1v2M309.1 157.3v-2M343.0 18.1v2M343.0 157.3v-2M376.9 18.1v2M376.9 157.3v-2M224.4 117.5h2M410.8 117.5h-2M224.4 77.8h2M410.8 77.8h-2M224.4 38.0h2M410.8 38.0h-2" stroke="#7a7a7a" stroke-width="1" fill="none"/>
<text x="228.7" y="33" font-size="12.9" font-weight="bold" fill="#111">(f) Cluster I</text>
<path fill="#dbdd5b" shape-rendering="crispEdges" d="M301 183h13v6h-13zM301 188h5v6h-5zM309 188h5v6h-5zM301 193h5v6h-5zM309 193h5v6h-5zM284 198h13v6h-13zM301 198h5v6h-5zM309 198h5v6h-5zM267 203h18v6h-18zM296 203h6v6h-6zM309 203h5v6h-5zM267 208h5v6h-5zM309 208h5v6h-5zM267 213h5v6h-5zM313 213h6v6h-6zM263 218h5v6h-5zM313 218h6v6h-6zM263 223h5v6h-5zM313 223h6v6h-6zM263 228h5v6h-5zM318 228h9v6h-9zM263 233h5v6h-5zM326 233h5v6h-5zM258 238h6v6h-6zM330 238h6v6h-6zM258 243h6v6h-6zM335 243h9v6h-9zM258 248h6v5h-6zM339 248h5v5h-5zM258 252h6v6h-6zM343 252h5v6h-5zM258 257h6v6h-6zM343 257h5v6h-5zM258 262h6v6h-6zM347 262h10v6h-10zM258 267h6v6h-6zM356 267h13v6h-13zM263 272h5v6h-5zM368 272h10v6h-10zM263 277h5v6h-5zM377 277h9v6h-9zM263 282h9v6h-9zM385 282h14v6h-14zM271 287h22v6h-22zM330 287h69v6h-69zM292 292h39v6h-39z"/><path fill="#f39e3e" shape-rendering="crispEdges" d="M305 188h5v6h-5zM305 193h5v6h-5zM305 198h5v6h-5zM284 203h13v6h-13zM301 203h9v6h-9zM271 208h14v6h-14zM296 208h6v6h-6zM305 208h5v6h-5zM271 213h5v6h-5zM309 213h5v6h-5zM267 218h5v6h-5zM309 218h5v6h-5zM267 223h5v6h-5zM309 223h5v6h-5zM267 228h5v6h-5zM313 228h6v6h-6zM267 233h5v6h-5zM318 233h9v6h-9zM263 238h5v6h-5zM326 238h5v6h-5zM263 243h5v6h-5zM330 243h6v6h-6zM263 248h5v5h-5zM335 248h5v5h-5zM263 252h5v6h-5zM339 252h5v6h-5zM263 257h5v6h-5zM339 257h5v6h-5zM263 262h5v6h-5zM343 262h5v6h-5zM263 267h5v6h-5zM347 267h10v6h-10zM267 272h5v6h-5zM356 272h13v6h-13zM267 277h5v6h-5zM368 277h10v6h-10zM271 282h22v6h-22zM330 282h56v6h-56zM292 287h39v6h-39z"/><path fill="#e6744e" shape-rendering="crispEdges" d="M284 208h5v6h-5zM292 208h5v6h-5zM271 248h5v5h-5zM313 248h6v5h-6zM288 252h14v6h-14zM309 252h14v6h-14zM267 257h5v6h-5zM322 262h5v6h-5zM326 267h5v6h-5zM326 277h18v6h-18zM360 277h5v6h-5z"/><path fill="#e8794b" shape-rendering="crispEdges" d="M288 208h5v6h-5zM275 213h5v6h-5zM284 213h5v6h-5zM322 238h5v6h-5zM318 248h5v5h-5zM267 252h5v6h-5zM279 252h10v6h-10zM279 257h10v6h-10zM296 257h6v6h-6zM305 257h9v6h-9zM326 257h5v6h-5zM267 262h5v6h-5zM275 262h5v6h-5zM284 262h5v6h-5zM326 262h5v6h-5zM267 267h5v6h-5zM301 267h5v6h-5zM309 267h5v6h-5zM318 267h9v6h-9zM339 267h5v6h-5zM279 272h6v6h-6zM309 272h5v6h-5zM322 272h5v6h-5zM347 272h10v6h-10zM279 277h10v6h-10zM292 277h10v6h-10zM322 277h5v6h-5zM343 277h18v6h-18zM292 282h5v6h-5zM301 282h5v6h-5zM313 282h10v6h-10z"/><path fill="#e27051" shape-rendering="crispEdges" d="M301 208h5v6h-5zM279 213h6v6h-6zM288 213h5v6h-5zM318 238h5v6h-5zM267 243h5v6h-5zM318 243h5v6h-5zM275 248h10v5h-10zM305 252h5v6h-5zM335 267h5v6h-5zM313 272h10v6h-10zM326 272h5v6h-5zM335 272h9v6h-9z"/><path fill="#d0605f" shape-rendering="crispEdges" d="M292 213h5v6h-5zM279 218h6v6h-6zM271 228h5v6h-5zM271 233h5v6h-5zM275 243h5v6h-5zM313 243h6v6h-6zM296 248h14v5h-14z"/><path fill="#c35b69" shape-rendering="crispEdges" d="M296 213h10v6h-10zM275 238h10v6h-10zM313 238h6v6h-6z"/><path fill="#ca5e64" shape-rendering="crispEdges" d="M305 213h5v6h-5zM275 218h5v6h-5zM271 223h5v6h-5zM313 233h6v6h-6zM271 238h5v6h-5zM271 243h5v6h-5zM279 243h6v6h-6zM309 243h5v6h-5zM292 248h5v5h-5z"/><path fill="#d4645c" shape-rendering="crispEdges" d="M271 218h5v6h-5zM288 248h5v5h-5z"/><path fill="#b65673" shape-rendering="crispEdges" d="M284 218h9v6h-9zM275 223h5v6h-5zM301 243h9v6h-9z"/><path fill="#a9527a" shape-rendering="crispEdges" d="M292 218h10v6h-10zM279 223h6v6h-6zM279 233h6v6h-6zM288 243h14v6h-14z"/><path fill="#9c4f7e" shape-rendering="crispEdges" d="M301 218h5v6h-5zM309 233h5v6h-5zM305 238h5v6h-5z"/><path fill="#954d80" shape-rendering="crispEdges" d="M305 218h5v6h-5zM284 223h5v6h-5zM296 223h6v6h-6zM284 233h5v6h-5z"/><path fill="#8e4c82" shape-rendering="crispEdges" d="M288 223h5v6h-5zM288 238h5v6h-5zM301 238h5v6h-5z"/><path fill="#884a84" shape-rendering="crispEdges" d="M292 223h5v6h-5zM301 223h5v6h-5zM296 228h10v6h-10zM309 228h5v6h-5zM305 233h5v6h-5zM296 238h6v6h-6z"/><path fill="#814985" shape-rendering="crispEdges" d="M305 223h5v6h-5zM284 228h9v6h-9zM288 233h5v6h-5zM296 233h10v6h-10zM292 238h5v6h-5z"/><path fill="#b05478" shape-rendering="crispEdges" d="M275 228h5v6h-5zM284 238h5v6h-5zM309 238h5v6h-5z"/><path fill="#a2507c" shape-rendering="crispEdges" d="M279 228h6v6h-6z"/><path fill="#7a4887" shape-rendering="crispEdges" d="M292 228h5v6h-5zM305 228h5v6h-5z"/><path fill="#bd596e" shape-rendering="crispEdges" d="M275 233h5v6h-5zM284 243h5v6h-5z"/><path fill="#734789" shape-rendering="crispEdges" d="M292 233h5v6h-5z"/><path fill="#d96858" shape-rendering="crispEdges" d="M267 238h5v6h-5zM330 267h6v6h-6z"/><path fill="#ec8246" shape-rendering="crispEdges" d="M322 243h9v6h-9zM322 248h14v5h-14zM275 252h5v6h-5zM335 252h5v6h-5zM288 257h5v6h-5zM335 257h5v6h-5zM301 262h5v6h-5zM318 262h5v6h-5zM335 262h5v6h-5zM279 267h6v6h-6zM288 267h14v6h-14zM271 272h5v6h-5zM284 272h5v6h-5zM296 272h6v6h-6zM305 272h5v6h-5zM275 277h5v6h-5z"/><path fill="#ea7e49" shape-rendering="crispEdges" d="M267 248h5v5h-5zM271 252h5v6h-5zM301 252h5v6h-5zM322 252h5v6h-5zM271 257h9v6h-9zM292 257h5v6h-5zM301 257h5v6h-5zM313 257h14v6h-14zM271 262h5v6h-5zM279 262h6v6h-6zM288 262h14v6h-14zM305 262h14v6h-14zM330 262h6v6h-6zM339 262h5v6h-5zM271 267h9v6h-9zM284 267h5v6h-5zM305 267h5v6h-5zM313 267h6v6h-6zM343 267h5v6h-5zM275 272h5v6h-5zM288 272h9v6h-9zM301 272h5v6h-5zM343 272h5v6h-5zM288 277h5v6h-5zM301 277h22v6h-22zM364 277h5v6h-5zM296 282h6v6h-6zM305 282h9v6h-9zM322 282h9v6h-9z"/><path fill="#dd6c55" shape-rendering="crispEdges" d="M284 248h5v5h-5zM309 248h5v5h-5zM330 272h6v6h-6z"/><path fill="#ee8744" shape-rendering="crispEdges" d="M326 252h10v6h-10zM330 257h6v6h-6zM271 277h5v6h-5z"/><path fill="none" stroke="#3a2a2a" stroke-width="0.55" stroke-opacity="0.6" d="M305.9 185.6 307 185.4 308.4 185.8 309.7 187.2 310.3 188.9 310.6 207 311.2 209.3 314.2 213.7 314.7 215.3 315.2 223.6 316.1 225.2 319.7 229.6 321.1 230.4 324 230.8 325.6 231.8 336.7 244.8 339.5 247.4 343.9 253.3 344.6 254.9 345.5 259.9 349.4 264.7 350.8 265.7 355 266.8 359.3 270.7 367.7 271.8 372 275.7 376.2 276.8 380.4 280.8 384.7 281.8 386.3 283 387.3 284.7 387.5 286.3 387.1 288 386.1 289.1 384.7 289.8 381.9 290.1 335.3 290.2 332.4 291.1 329.6 294.2 326.8 295.2 295.7 295.2 292.9 294.3 288.7 290.5 274.5 290.1 271.7 289.4 265.4 283 264 276.4 260.7 271.4 260.3 269.8 260.1 241.7 260.9 238.4 263.5 235.1 264.2 233.5 264.6 220.3 265 218.6 268.3 213.7 269.1 208.7 270.3 206.5 271.7 205.6 280.2 204.7 284.4 200.9 285.8 200.3 292.9 200.2 294.3 200.6 297.1 202.8 298.5 203.3 301.7 200.4 302.8 198.8 303.4 188.9 304.2 186.9 305.9 185.6M306.8 190.5 307.2 190.5 307.4 192.2 307.5 198.8 308.5 208.7 312.3 215.3 312.9 223.6 316.9 229.5 319.7 232.6 324 233.9 325.4 235.1 338 250 341.8 254.9 342.8 259.9 343.5 261.5 349.4 268.1 353.6 269.3 357.8 273.1 359.3 273.8 364.9 274.1 367 274.7 370.6 278.1 372 279 374.8 279.6 376.2 280.6 379 284.1 380.7 284.7 382.4 286.3 366.3 287.1 335.3 287.2 332.4 287.8 328.9 291.3 326.8 292.1 295.7 292.2 293.4 291.3 290.1 288 288.7 287.4 273.1 286.8 271.7 285.9 267.8 281.4 266.7 276.4 266 274.7 263.6 271.4 262.6 268.1 262.5 243.4 262.9 240.1 266.1 235.1 266.6 233.5 266.8 221.9 267.7 218.6 270.1 215.3 271.6 210.4 272.9 208.7 280.2 207.8 281.6 207.1 285.8 203.4 292.9 203.2 294.3 203.8 297.1 206.4 298.5 206.7 299.9 205.9 305.4 200.4 306.3 197.1 306.8 190.5M285 207 287.2 206.1 292.9 206.2 297.1 209.1 298.5 209.3 302.8 206.6 304.7 207 309.7 213.7 310.5 215.3 311.3 223.6 312.1 225.2 319.7 235.2 324 237 325.4 238.3 328.9 243.4 338.1 254.6 339.1 256.6 339.7 259.9 341.7 263.2 348 270.4 349.4 271.4 353.6 272.6 357.8 276.3 359.3 276.8 363.5 277 366.3 277.8 368.2 279.7 368.8 281.4 368.1 283 363.5 284.2 333.8 284.4 332.4 284.8 328.2 288.3 326.8 288.9 319.7 289.2 295.7 289 294.3 288.6 290.1 284.7 288.7 284.1 278.8 283.9 273.1 282.9 270.5 279.7 269.1 274.7 265.6 269.8 265 261.5 265.3 251.6 264.7 241.7 265 240.1 268.2 235.1 268.6 233.5 268.7 221.9 269.8 218.6 275.2 212 281.6 210.1 285 207M290.4 210.4 292.9 209.9 297.1 211.4 298.5 211.5 302.8 209.9 305.6 211.5 308.4 214.4 309.4 217 310.1 223.6 310.7 225.2 313.3 228.5 318.3 236.7 319.7 238.4 322.2 240.1 322.8 241.7 320.8 250 321.3 254.9 320.7 256.6 319.7 257.4 315.5 257.1 314.1 257.7 311.2 260.8 309.8 260.9 305.6 258.9 302.8 256.8 301.4 257 298.5 259.5 297.1 259.4 294.8 258.2 290.1 257.1 284.4 257.4 278.6 253.3 271.7 252.4 270.3 251.4 268.9 249.2 267.5 245.8 266.9 241.7 267.2 240.1 270.2 235.1 270.4 223.6 270.9 220.3 273.1 217.5 277.4 214.8 283 213.4 287.2 210.9 290.4 210.4M324.1 264.8 325.4 263.9 326.8 263.6 329.6 265.5 339.5 268.6 342.4 271.4 343.4 273.1 344.4 278.1 343.4 279.7 340.9 280.5 332.4 280.6 328.2 281.8 326.8 281.8 324 279.3 322.5 278.8 315.5 278.5 312.7 277.6 311.4 276.4 310.8 274.7 311.2 271.7 315.5 271.8 319.7 270.6 322.5 270.8 323.8 269.8 323.7 266.5 324.1 264.8M299.1 213.7 302.8 213 305.6 214 307.1 215.3 308.4 218.3 309.5 225.2 313.1 230.2 316.7 238.4 317.1 241.7 315.8 245 307 250.7 294.3 251.7 290.1 250.7 281.6 247.3 274.5 246.4 271.7 245.1 270.3 241.7 272.6 235.1 272.4 223.6 272.8 221.9 273.8 220.3 277.4 218.6 288.7 216.6 294.3 213.9 299.1 213.7M299.9 217 304.2 216.6 305.6 217 307 218.6 308.4 225.2 309.1 226.9 311.8 230.2 312.4 231.8 313.2 235.1 313.1 238.4 312.3 240.1 310.9 241.7 305.6 244.9 297.1 247 290.1 246.3 287.4 245 285.8 243.6 283 240 278.1 235.1 276.7 230.2 276.7 226.9 277.2 225.2 279.1 223.6 284.4 221 299.9 217M302.1 221.9 304.2 221.3 305.6 221.9 307.4 226.9 309.8 230.2 310.3 231.8 309.8 234.4 304.2 239.9 301.4 241.2 298.5 242 294.3 242.3 291.5 241.8 290.1 241.1 285.5 235.1 283.6 231.8 283.2 230.2 284.1 226.9 285.8 225.3 287.2 224.9 294.3 223.3 298.5 223.8 302.1 221.9"/>
<g transform="translate(224.4 173.2) scale(0.9968 0.9978)">
<use href="#coast"/>
</g>
<rect x="224.4" y="173.2" width="186.4" height="138.7" fill="none" stroke="#7a7a7a" stroke-width="1"/>
<path d="M241.3 173.2v2M241.3 311.9v-2M275.2 173.2v2M275.2 311.9v-2M309.1 173.2v2M309.1 311.9v-2M343.0 173.2v2M343.0 311.9v-2M376.9 173.2v2M376.9 311.9v-2M224.4 272.3h2M410.8 272.3h-2M224.4 232.6h2M410.8 232.6h-2M224.4 193.0h2M410.8 193.0h-2" stroke="#7a7a7a" stroke-width="1" fill="none"/>
<text x="228.7" y="188.1" font-size="12.9" font-weight="bold" fill="#111">(g) Cluster II</text>
<path fill="#dbdd5b" shape-rendering="crispEdges" d="M309 343h27v6h-27zM301 348h9v6h-9zM335 348h5v6h-5zM301 353h5v6h-5zM335 353h5v6h-5zM296 358h6v6h-6zM339 358h5v6h-5zM292 363h5v6h-5zM339 363h5v6h-5zM288 368h5v6h-5zM343 368h5v6h-5zM284 373h5v6h-5zM343 373h5v6h-5zM284 378h5v6h-5zM347 378h5v6h-5zM279 383h6v6h-6zM347 383h5v6h-5zM279 388h6v6h-6zM347 388h5v6h-5zM275 393h5v5h-5zM351 393h6v5h-6zM271 397h5v6h-5zM356 397h22v6h-22zM271 402h5v6h-5zM377 402h5v6h-5zM271 407h5v6h-5zM381 407h5v6h-5zM275 412h5v6h-5zM385 412h6v6h-6zM275 417h5v6h-5zM360 417h5v6h-5zM390 417h9v6h-9zM275 422h5v6h-5zM356 422h5v6h-5zM364 422h5v6h-5zM398 422h5v6h-5zM275 427h5v6h-5zM351 427h6v6h-6zM368 427h10v6h-10zM398 427h5v6h-5zM279 432h6v6h-6zM351 432h6v6h-6zM377 432h22v6h-22zM279 437h10v6h-10zM356 437h5v6h-5zM288 442h9v6h-9zM351 442h6v6h-6zM296 447h18v6h-18zM335 447h17v6h-17zM313 452h23v6h-23z"/><path fill="#f39e3e" shape-rendering="crispEdges" d="M309 348h27v6h-27zM305 353h5v6h-5zM330 353h6v6h-6zM301 358h5v6h-5zM335 358h5v6h-5zM296 363h6v6h-6zM335 363h5v6h-5zM292 368h5v6h-5zM339 368h5v6h-5zM288 373h5v6h-5zM339 373h5v6h-5zM288 378h5v6h-5zM343 378h5v6h-5zM284 383h5v6h-5zM343 383h5v6h-5zM284 388h5v6h-5zM343 388h5v6h-5zM279 393h6v5h-6zM347 393h5v5h-5zM275 397h5v6h-5zM351 397h6v6h-6zM275 402h5v6h-5zM356 402h22v6h-22zM275 407h5v6h-5zM377 407h5v6h-5zM279 412h6v6h-6zM360 412h5v6h-5zM381 412h5v6h-5zM279 417h6v6h-6zM356 417h5v6h-5zM364 417h5v6h-5zM385 417h6v6h-6zM279 422h6v6h-6zM351 422h6v6h-6zM368 422h10v6h-10zM390 422h9v6h-9zM279 427h6v6h-6zM347 427h5v6h-5zM377 427h22v6h-22zM284 432h5v6h-5zM347 432h5v6h-5zM288 437h9v6h-9zM351 437h6v6h-6zM296 442h18v6h-18zM335 442h17v6h-17zM313 447h23v6h-23z"/><path fill="#dd6c55" shape-rendering="crispEdges" d="M309 353h5v6h-5zM288 383h5v6h-5zM284 393h5v5h-5zM279 397h6v6h-6zM279 402h10v6h-10zM347 402h10v6h-10zM351 407h6v6h-6zM368 407h10v6h-10zM364 412h5v6h-5zM373 412h5v6h-5zM347 417h10v6h-10zM373 417h9v6h-9zM296 427h6v6h-6zM343 427h5v6h-5zM288 432h5v6h-5zM301 432h18v6h-18zM296 437h6v6h-6zM305 437h9v6h-9zM339 437h5v6h-5zM347 437h5v6h-5z"/><path fill="#d4645c" shape-rendering="crispEdges" d="M313 353h6v6h-6zM326 353h5v6h-5zM296 368h6v6h-6zM292 373h5v6h-5zM343 393h5v5h-5zM284 397h5v6h-5zM288 402h5v6h-5zM343 417h5v6h-5zM292 427h5v6h-5zM322 427h5v6h-5zM335 427h5v6h-5zM322 432h5v6h-5zM339 432h5v6h-5zM318 437h9v6h-9zM318 442h5v6h-5zM326 442h5v6h-5z"/><path fill="#d0605f" shape-rendering="crispEdges" d="M318 353h5v6h-5zM305 363h5v6h-5zM296 373h6v6h-6zM292 378h5v6h-5zM288 388h5v6h-5zM343 402h5v6h-5zM284 407h9v6h-9zM288 422h14v6h-14zM339 422h5v6h-5zM309 427h5v6h-5zM326 427h10v6h-10zM339 427h5v6h-5zM335 432h5v6h-5zM335 437h5v6h-5z"/><path fill="#ca5e64" shape-rendering="crispEdges" d="M322 353h5v6h-5zM309 358h5v6h-5zM301 368h5v6h-5zM343 397h5v6h-5zM279 407h6v6h-6zM292 407h5v6h-5zM343 407h5v6h-5zM288 412h5v6h-5zM343 412h5v6h-5zM301 417h5v6h-5zM318 417h5v6h-5zM284 422h5v6h-5zM305 422h5v6h-5zM313 422h6v6h-6zM322 422h9v6h-9zM313 427h10v6h-10z"/><path fill="#d96858" shape-rendering="crispEdges" d="M305 358h5v6h-5zM301 363h5v6h-5zM347 397h5v6h-5zM347 412h10v6h-10zM343 422h9v6h-9zM284 427h9v6h-9zM301 427h9v6h-9zM292 432h10v6h-10zM318 432h5v6h-5zM343 432h5v6h-5zM301 437h5v6h-5zM313 437h6v6h-6zM343 437h5v6h-5zM313 442h6v6h-6zM322 442h5v6h-5zM330 442h6v6h-6z"/><path fill="#c35b69" shape-rendering="crispEdges" d="M313 358h6v6h-6zM296 407h10v6h-10zM284 412h5v6h-5zM292 412h5v6h-5zM301 412h5v6h-5zM313 412h6v6h-6zM288 417h14v6h-14zM305 417h14v6h-14zM339 417h5v6h-5zM301 422h5v6h-5zM309 422h5v6h-5zM318 422h5v6h-5zM335 422h5v6h-5zM326 432h10v6h-10zM326 437h10v6h-10z"/><path fill="#a9527a" shape-rendering="crispEdges" d="M318 358h5v6h-5zM339 397h5v6h-5zM318 407h5v6h-5z"/><path fill="#954d80" shape-rendering="crispEdges" d="M322 358h5v6h-5zM339 378h5v6h-5z"/><path fill="#a2507c" shape-rendering="crispEdges" d="M326 358h5v6h-5zM339 393h5v5h-5zM301 402h5v6h-5zM339 402h5v6h-5zM322 407h5v6h-5zM339 412h5v6h-5z"/><path fill="#bd596e" shape-rendering="crispEdges" d="M330 358h6v6h-6zM296 378h6v6h-6zM292 383h5v6h-5zM288 393h5v5h-5zM292 402h5v6h-5zM296 412h6v6h-6zM305 412h5v6h-5zM318 412h5v6h-5zM284 417h5v6h-5zM335 417h5v6h-5z"/><path fill="#b05478" shape-rendering="crispEdges" d="M309 363h5v6h-5zM301 373h5v6h-5zM296 402h6v6h-6zM305 407h14v6h-14zM322 412h5v6h-5zM326 417h5v6h-5z"/><path fill="#8e4c82" shape-rendering="crispEdges" d="M313 363h6v6h-6zM309 368h5v6h-5zM339 383h5v6h-5zM335 412h5v6h-5z"/><path fill="#814985" shape-rendering="crispEdges" d="M318 363h5v6h-5zM335 368h5v6h-5zM301 378h5v6h-5zM292 393h5v5h-5zM296 397h6v6h-6zM305 397h9v6h-9zM335 397h5v6h-5zM335 402h5v6h-5zM326 407h5v6h-5zM335 407h5v6h-5z"/><path fill="#66458c" shape-rendering="crispEdges" d="M322 363h9v6h-9zM335 373h5v6h-5zM296 388h6v6h-6zM335 393h5v5h-5z"/><path fill="#734789" shape-rendering="crispEdges" d="M330 363h6v6h-6zM330 407h6v6h-6z"/><path fill="#b65673" shape-rendering="crispEdges" d="M305 368h5v6h-5zM288 397h5v6h-5zM309 412h5v6h-5zM322 417h5v6h-5zM330 417h6v6h-6zM330 422h6v6h-6z"/><path fill="#7a4887" shape-rendering="crispEdges" d="M313 368h6v6h-6zM313 397h10v6h-10zM326 397h5v6h-5zM330 402h6v6h-6z"/><path fill="#5a4490" shape-rendering="crispEdges" d="M318 368h5v6h-5zM330 368h6v6h-6zM309 373h5v6h-5zM335 378h5v6h-5zM305 393h9v5h-9z"/><path fill="#444297" shape-rendering="crispEdges" d="M322 368h5v6h-5zM326 378h5v6h-5zM309 388h5v6h-5zM330 388h6v6h-6z"/><path fill="#4a4296" shape-rendering="crispEdges" d="M326 368h5v6h-5zM318 373h13v6h-13zM309 378h5v6h-5zM322 378h5v6h-5zM301 383h5v6h-5zM326 383h5v6h-5zM318 388h13v6h-13zM335 388h5v6h-5z"/><path fill="#884a84" shape-rendering="crispEdges" d="M305 373h5v6h-5zM296 383h6v6h-6zM301 397h5v6h-5zM322 397h5v6h-5zM326 402h5v6h-5zM326 412h10v6h-10z"/><path fill="#544392" shape-rendering="crispEdges" d="M313 373h6v6h-6zM330 373h6v6h-6zM318 378h5v6h-5zM322 383h5v6h-5zM301 393h5v5h-5zM313 393h23v5h-23z"/><path fill="#5f448e" shape-rendering="crispEdges" d="M305 378h5v6h-5zM296 393h6v5h-6z"/><path fill="#4f4294" shape-rendering="crispEdges" d="M313 378h6v6h-6zM330 378h6v6h-6zM313 383h10v6h-10zM313 388h6v6h-6z"/><path fill="#294492" shape-rendering="crispEdges" d="M305 383h5v6h-5z"/><path fill="#3d4398" shape-rendering="crispEdges" d="M309 383h5v6h-5zM335 383h5v6h-5zM301 388h5v6h-5z"/><path fill="#364499" shape-rendering="crispEdges" d="M330 383h6v6h-6z"/><path fill="#9c4f7e" shape-rendering="crispEdges" d="M292 388h5v6h-5zM339 388h5v6h-5zM292 397h5v6h-5zM305 402h22v6h-22zM339 407h5v6h-5z"/><path fill="#30449a" shape-rendering="crispEdges" d="M305 388h5v6h-5z"/><path fill="#6c468a" shape-rendering="crispEdges" d="M330 397h6v6h-6z"/><path fill="#e27051" shape-rendering="crispEdges" d="M347 407h5v6h-5zM356 407h5v6h-5zM356 412h5v6h-5zM368 412h6v6h-6zM368 417h6v6h-6z"/><path fill="#e6744e" shape-rendering="crispEdges" d="M377 412h5v6h-5zM377 422h5v6h-5z"/><path fill="#ec8246" shape-rendering="crispEdges" d="M381 417h5v6h-5zM381 422h5v6h-5z"/><path fill="#ee8744" shape-rendering="crispEdges" d="M385 422h6v6h-6z"/><path fill="none" stroke="#3a2a2a" stroke-width="0.55" stroke-opacity="0.6" d="M310.7 345.7 314.1 345 329.6 345 332.4 345.3 333.8 346 336 349 336.9 353.9 340.2 358.8 341.2 363.7 344.4 368.7 345.4 373.6 348.6 378.5 349.3 381.8 349.5 388.4 350.2 390.1 354.2 395 359.3 400.3 362.1 400.7 374.8 400.8 377.6 402.2 392.5 419.6 394.6 420.7 397.4 421.3 399.5 422.9 400.4 424.6 400.9 427.9 400.3 431.2 398.8 433.4 397.4 434.3 394.6 434.7 380.4 434.4 379 433.9 374.8 430 370.6 428.9 363.5 421.7 362.1 421.6 357.8 426 354 431.2 353.7 432.8 354 434.4 357.1 439.4 357.2 441 356.5 442.7 352.2 447.9 349.4 449.6 338.1 450.2 336.7 451 333.8 453.9 331 454.9 315.5 454.6 314.1 453.8 311.2 450.8 309.8 450.1 298.5 449.6 297.1 448.9 294.3 445.9 292.9 445.1 288.7 444 287.2 442.8 283 438.4 277.8 431.2 277.3 427.9 277 416.4 273.7 411.4 273.2 409.8 273.3 399.9 274.5 397.4 280.7 390.1 282.3 383.5 285.6 378.5 286.5 373.6 287.6 372 298.5 359.2 304.2 351.9 310.7 345.7M364.9 409.7 364.7 409.8 364.9 409.8 364.9 409.7M310.4 349 312.7 348 324 347.8 331 348.1 332.8 349 333.6 350.6 334.4 353.9 337.7 358.8 338.9 363.7 342 368.7 343.7 374.9 346.2 378.5 347 381.8 347.2 388.4 348.7 391.7 356.4 400.9 359.3 403.3 364.9 404.4 372 403.5 374.8 403.7 376.2 404.4 391.7 422.6 393.1 423.6 396 424.2 397.4 425 398.2 427.9 397.4 430.5 396 431.4 394.6 431.5 380.4 431.4 376.2 427.7 370.6 425.7 364.9 419.4 363.5 418.1 362.1 418.1 360.7 419.3 352.2 429.5 351.5 431.2 351.5 434.4 354.3 439.4 354.4 441 352.2 444.3 349.4 446.7 338.1 447.2 336.7 447.9 332.4 451.7 331 452 316.9 452 315.5 451.6 311.2 447.7 309.8 447.1 298.5 446.6 294.3 442.9 290.1 441.6 288.7 440.7 281.7 432.8 279.9 429.5 279.4 416.4 278.8 414.7 276.4 411.4 275.4 408.1 275.9 399.9 283.4 390.1 284.4 385.1 287.5 380.2 289.3 373.6 310.4 349M363.5 405.5 362.1 406.9 361.4 409.8 362.1 412.1 363.5 413 366.3 412.1 368.2 409.8 367.7 407 366.3 405.5 363.5 405.5M312.2 350.6 326.8 350.1 329.6 350.7 331 351.7 335.9 358.8 337.3 363.7 340.6 368.7 342.3 375.3 344.6 378.5 345.5 381.8 345.6 388.4 346.5 391.5 358.8 406.5 360.9 414.7 360.4 416.4 351.1 427.9 349.2 431.2 349.3 434.4 351.9 439.4 352 441 351.1 442.7 349.4 444 348 444.4 338.1 444.9 336.7 445.5 332.4 449.2 331 449.6 316.9 449.6 315.5 449.1 311.2 445 309.8 444.6 301.4 444.5 298.5 444 294.3 440.2 290.1 439 288.7 438 284 432.8 282 429.5 281.3 416.4 280.8 414.7 277.7 409.8 277.6 403.2 278.1 399.9 285.4 390.1 286.5 385.1 289.6 380.2 290.6 375.3 291.4 373.6 309.7 352.2 312.2 350.6M371.7 406.5 374.8 406.3 377.6 408.5 388.2 422.9 389.2 424.6 389.4 426.2 388.9 426.9 387 427.9 381.9 428.6 380.4 428.3 376.2 424.9 372 423.8 369.1 421.3 365.3 416.4 365.5 414.7 369.1 411.6 370.6 407.6 371.7 406.5M320.7 352.2 325.4 352.1 328.2 352.6 329.6 353.5 334.4 358.8 336.7 365 339.5 368.9 341 375.3 344 380.2 344.4 388.4 345 391.7 356.6 408.1 357.8 410.5 358.3 413.1 357.8 415.6 355.2 419.6 347.1 429.5 346.9 434.4 347.3 436.1 349.1 439.4 348.9 441 346.5 441.9 340.9 442 338.1 442.6 335.3 444.1 332.4 446.7 331 447.2 319.7 447.4 316.9 447.1 315.5 446.4 312.7 442.9 311.2 442 299.9 441.7 298.5 441.2 295.7 438.2 294.3 437.3 290.1 436.2 284.1 429.5 283.2 424.6 282.6 414.7 279.6 409.8 279.4 408.1 280 401.6 280.6 399.9 286.6 391.7 288.6 385.1 291.6 380.2 292.6 375.3 293.6 373.6 311.2 353.6 314.1 352.7 320.7 352.2M372.2 409.8 373.4 409.2 374.8 409.3 376.2 410.3 381.2 418 382.2 421.3 381.9 423 380.4 423.9 376.2 421.7 372 420.6 370.6 419.2 368.8 416.4 369.3 414.7 372.2 409.8M315.2 355.5 322.5 354.3 326.8 354.5 328.2 355.1 332.4 358.5 333.8 360.4 335.7 365.4 338.3 368.7 340 375.3 342.9 380.2 343.6 391.7 347.5 401.6 347 406.5 347.9 414.7 347.7 416.4 342.8 426.2 340.9 433.9 338.9 437.7 337.4 439.4 331 444 326.8 443.8 324.2 442.7 322.1 441 322.5 436.1 322.2 434.4 321.1 433.6 312.7 432 307 428.9 302.8 429.1 297.1 427.5 292.9 428.1 287.2 427.8 285.8 426.4 285 422.9 284.7 414.7 283.9 411.4 282.9 409.8 284.4 408.2 285.8 407.9 287.6 406.5 287.6 404.8 285.9 401.6 285.6 399.9 286.4 396.6 288.8 391.7 290.4 386.8 293.1 381.8 294.8 376.9 299.7 370.3 305.6 364.4 308.5 360.5 311.2 357.7 315.2 355.5M322.2 357.2 324 356.9 326.8 357.3 332.4 360.8 334.6 365.4 338.1 370.3 339 375.3 341.7 380.2 342.1 381.8 342.1 390.1 343.5 409.8 343.2 414.7 342.3 416.6 340.9 418.2 332.4 421.7 328.2 421.4 325.4 420.4 324 418.9 321.7 414.7 319.7 413.3 315.5 412.1 311.2 412.6 308.4 412.2 302.8 408.3 298.5 407.5 297.1 406.7 291.2 401.6 290.1 399.9 289.8 398.3 290.1 395 292.4 388.4 295.7 382.5 301.4 374.7 307 368.7 311.2 363.2 314.1 361.1 322.2 357.2M322.6 360.5 324 360 326.8 360.4 331 362 332.4 363.5 334.3 367 336.9 370.3 338.6 376.9 340.9 381.8 341.1 385.1 340.5 393.3 339.1 401.6 339.8 408.1 339.6 411.4 339 413.1 337.7 414.7 333.8 416.1 329.6 416.5 328.2 415.9 326.7 413.1 325.4 405.8 324 404.1 319.7 404.4 309.8 403.8 298.5 402.1 294.9 399.9 293.1 396.6 293.3 393.3 295.2 388.4 298.1 383.5 301.4 379.2 314.5 365.4 322.6 360.5M323.7 363.7 327.2 363.7 331.2 365.4 335.3 370.8 337.1 376.9 339.3 381.8 339.7 385.1 338.8 391.7 337.9 395 335.3 399.4 333.8 401 332.4 401.5 328.2 399.2 325.4 398.4 316.9 399 309.8 398.2 301.4 398.2 298.5 397.6 297.1 396.3 296.5 395 296.5 393.3 297.9 388.4 300.6 383.5 307 377.1 309.9 373.6 315.4 370.3 318.8 367 323.7 363.7M322.7 368.7 325.4 367.8 328.2 368.4 329.6 369.4 331 371.3 333.4 376.9 336.7 381.2 337.6 383.5 337.7 386.8 336.7 390.7 335.3 392.6 332.4 394.3 331 394.4 315.5 393.3 304.2 394.4 301.4 393.6 300.4 391.7 300.4 390.1 301.2 386.8 303.2 383.5 308.4 380 311.2 377.4 312.7 376.7 315.5 376.5 322.7 368.7M305.6 385.1 307 384.3 308.4 384.3 309.5 385.1 309.5 386.8 308.4 388.6 307 389.4 305.6 389 305.1 388.4 305 386.8 305.6 385.1"/>
<g transform="translate(224.4 328.4) scale(0.9968 0.9935)">
<use href="#coast"/>
</g>
<rect x="224.4" y="328.4" width="186.4" height="138.1" fill="none" stroke="#7a7a7a" stroke-width="1"/>
<path d="M241.3 328.4v2M241.3 466.5v-2M275.2 328.4v2M275.2 466.5v-2M309.1 328.4v2M309.1 466.5v-2M343.0 328.4v2M343.0 466.5v-2M376.9 328.4v2M376.9 466.5v-2M224.4 427.0h2M410.8 427.0h-2M224.4 387.6h2M410.8 387.6h-2M224.4 348.1h2M410.8 348.1h-2" stroke="#7a7a7a" stroke-width="1" fill="none"/>
<text x="228.7" y="343.3" font-size="12.9" font-weight="bold" fill="#111">(h) Cluster III</text>
<path fill="#dbdd5b" shape-rendering="crispEdges" d="M385 483h6v6h-6zM398 483h5v6h-5zM377 488h9v6h-9zM398 488h5v6h-5zM360 493h18v6h-18zM398 493h5v6h-5zM339 498h22v6h-22zM398 498h5v6h-5zM309 503h31v6h-31zM390 503h9v6h-9zM301 508h9v6h-9zM385 508h6v6h-6zM296 513h6v6h-6zM385 513h6v6h-6zM292 518h5v6h-5zM381 518h5v6h-5zM288 523h5v6h-5zM385 523h6v6h-6zM284 528h5v5h-5zM390 528h21v5h-21zM279 532h6v6h-6zM275 537h5v6h-5zM390 537h21v6h-21zM275 542h5v6h-5zM385 542h6v6h-6zM275 547h5v6h-5zM381 547h5v6h-5zM275 552h5v6h-5zM377 552h5v6h-5zM275 557h5v6h-5zM377 557h5v6h-5zM275 562h5v6h-5zM377 562h5v6h-5zM267 567h9v6h-9zM381 567h10v6h-10zM263 572h5v6h-5zM390 572h5v6h-5zM267 577h5v6h-5zM394 577h14v6h-14zM271 582h5v6h-5zM407 582h4v6h-4zM275 587h5v6h-5zM279 592h6v6h-6zM284 597h9v6h-9zM360 597h51v6h-51zM292 602h27v6h-27zM351 602h10v6h-10zM318 607h34v6h-34z"/><path fill="#f39e3e" shape-rendering="crispEdges" d="M390 483h9v6h-9zM385 488h6v6h-6zM394 488h5v6h-5zM377 493h9v6h-9zM394 493h5v6h-5zM360 498h18v6h-18zM390 498h9v6h-9zM339 503h22v6h-22zM385 503h6v6h-6zM309 508h31v6h-31zM381 508h5v6h-5zM301 513h9v6h-9zM381 513h5v6h-5zM296 518h6v6h-6zM377 518h5v6h-5zM292 523h5v6h-5zM381 523h5v6h-5zM288 528h5v5h-5zM385 528h6v5h-6zM284 532h5v6h-5zM390 532h21v6h-21zM279 537h6v6h-6zM385 537h6v6h-6zM279 542h6v6h-6zM381 542h5v6h-5zM279 547h6v6h-6zM377 547h5v6h-5zM279 552h6v6h-6zM373 552h5v6h-5zM279 557h6v6h-6zM373 557h5v6h-5zM279 562h6v6h-6zM373 562h5v6h-5zM275 567h5v6h-5zM377 567h5v6h-5zM267 572h9v6h-9zM381 572h5v6h-5zM271 577h5v6h-5zM390 577h5v6h-5zM275 582h5v6h-5zM394 582h14v6h-14zM279 587h6v6h-6zM407 587h4v6h-4zM284 592h9v6h-9zM360 592h51v6h-51zM292 597h27v6h-27zM351 597h10v6h-10zM318 602h34v6h-34z"/><path fill="#e6744e" shape-rendering="crispEdges" d="M390 488h5v6h-5zM385 498h6v6h-6zM381 503h5v6h-5zM305 518h5v6h-5zM385 532h6v6h-6zM381 537h5v6h-5zM279 577h6v6h-6zM292 577h5v6h-5zM284 582h5v6h-5zM296 582h6v6h-6zM305 582h5v6h-5zM385 582h6v6h-6zM309 587h10v6h-10zM322 587h5v6h-5zM309 592h14v6h-14zM326 592h5v6h-5zM356 592h5v6h-5zM322 597h14v6h-14z"/><path fill="#e8794b" shape-rendering="crispEdges" d="M385 493h10v6h-10zM381 532h5v6h-5zM318 587h5v6h-5zM385 587h10v6h-10zM322 592h5v6h-5z"/><path fill="#e27051" shape-rendering="crispEdges" d="M377 498h9v6h-9zM301 518h5v6h-5zM381 528h5v5h-5zM279 572h6v6h-6zM275 577h5v6h-5zM284 577h9v6h-9zM296 577h6v6h-6zM368 577h6v6h-6zM381 577h10v6h-10zM288 582h9v6h-9zM301 582h5v6h-5zM364 582h10v6h-10zM288 587h5v6h-5zM301 587h9v6h-9zM326 587h5v6h-5zM364 587h5v6h-5zM373 587h5v6h-5zM394 587h5v6h-5zM296 592h6v6h-6zM305 592h5v6h-5zM330 592h6v6h-6zM339 597h5v6h-5zM347 597h5v6h-5z"/><path fill="#c35b69" shape-rendering="crispEdges" d="M360 503h5v6h-5zM351 508h6v6h-6zM356 582h5v6h-5zM347 587h5v6h-5z"/><path fill="#b65673" shape-rendering="crispEdges" d="M364 503h10v6h-10zM301 528h5v5h-5zM284 557h5v6h-5zM368 562h6v6h-6zM292 567h5v6h-5zM335 587h5v6h-5z"/><path fill="#bd596e" shape-rendering="crispEdges" d="M373 503h5v6h-5zM335 513h5v6h-5z"/><path fill="#d96858" shape-rendering="crispEdges" d="M377 503h5v6h-5zM339 508h5v6h-5zM309 518h5v6h-5zM296 523h10v6h-10zM377 532h5v6h-5zM377 537h5v6h-5zM377 542h5v6h-5zM284 567h5v6h-5zM373 567h5v6h-5zM284 572h9v6h-9zM301 572h5v6h-5zM377 572h5v6h-5zM309 577h5v6h-5zM318 577h5v6h-5zM377 577h5v6h-5zM313 582h10v6h-10zM360 582h5v6h-5zM356 587h9v6h-9zM377 587h9v6h-9z"/><path fill="#d4645c" shape-rendering="crispEdges" d="M343 508h9v6h-9zM326 513h5v6h-5zM292 572h5v6h-5zM305 572h5v6h-5zM360 577h5v6h-5zM335 592h9v6h-9z"/><path fill="#a2507c" shape-rendering="crispEdges" d="M356 508h5v6h-5zM339 513h5v6h-5zM330 518h6v6h-6zM368 547h6v6h-6zM368 552h6v6h-6zM296 567h6v6h-6zM305 567h5v6h-5zM318 567h5v6h-5zM322 572h5v6h-5zM339 587h5v6h-5z"/><path fill="#814985" shape-rendering="crispEdges" d="M360 508h5v6h-5zM343 518h9v6h-9zM335 523h5v6h-5zM318 528h5v5h-5zM309 532h10v6h-10zM301 537h5v6h-5zM292 542h5v6h-5zM339 552h5v6h-5zM318 562h5v6h-5z"/><path fill="#66458c" shape-rendering="crispEdges" d="M364 508h5v6h-5zM351 518h6v6h-6z"/><path fill="#544392" shape-rendering="crispEdges" d="M368 508h6v6h-6zM360 513h5v6h-5zM347 523h5v6h-5zM364 528h5v5h-5zM309 537h5v6h-5zM339 547h9v6h-9zM351 547h6v6h-6z"/><path fill="#6c468a" shape-rendering="crispEdges" d="M373 508h5v6h-5zM326 528h10v5h-10zM364 532h5v6h-5zM305 537h5v6h-5zM356 547h5v6h-5z"/><path fill="#9c4f7e" shape-rendering="crispEdges" d="M377 508h5v6h-5zM343 513h9v6h-9zM335 518h5v6h-5zM318 523h5v6h-5zM373 528h5v5h-5zM292 537h5v6h-5zM284 547h5v6h-5zM288 557h5v6h-5zM364 557h5v6h-5zM292 562h5v6h-5zM301 562h5v6h-5zM326 562h10v6h-10zM347 562h5v6h-5zM364 562h5v6h-5zM309 567h5v6h-5zM330 567h6v6h-6zM356 567h5v6h-5zM335 572h5v6h-5zM356 572h5v6h-5zM343 582h9v6h-9z"/><path fill="#dd6c55" shape-rendering="crispEdges" d="M309 513h14v6h-14zM279 567h6v6h-6zM275 572h5v6h-5zM368 572h10v6h-10zM301 577h9v6h-9zM313 577h6v6h-6zM364 577h5v6h-5zM373 577h5v6h-5zM279 582h6v6h-6zM309 582h5v6h-5zM322 582h5v6h-5zM373 582h13v6h-13zM284 587h5v6h-5zM292 587h10v6h-10zM368 587h6v6h-6zM398 587h10v6h-10zM292 592h5v6h-5zM301 592h5v6h-5zM347 592h10v6h-10zM318 597h5v6h-5zM335 597h5v6h-5zM343 597h5v6h-5z"/><path fill="#d0605f" shape-rendering="crispEdges" d="M322 513h5v6h-5zM292 528h5v5h-5zM377 528h5v5h-5zM373 547h5v6h-5zM284 562h5v6h-5zM288 567h5v6h-5zM368 567h6v6h-6zM296 572h6v6h-6zM309 572h14v6h-14zM364 572h5v6h-5zM322 577h5v6h-5zM330 587h6v6h-6zM351 587h6v6h-6zM343 592h5v6h-5z"/><path fill="#ca5e64" shape-rendering="crispEdges" d="M330 513h6v6h-6zM313 518h6v6h-6zM309 523h5v6h-5zM296 528h6v5h-6zM288 532h5v6h-5zM284 537h5v6h-5zM326 582h5v6h-5z"/><path fill="#884a84" shape-rendering="crispEdges" d="M351 513h6v6h-6zM377 513h5v6h-5zM322 523h5v6h-5zM368 532h6v6h-6zM364 542h5v6h-5zM356 552h9v6h-9zM335 557h5v6h-5zM305 562h14v6h-14zM326 567h5v6h-5zM343 567h5v6h-5zM351 567h6v6h-6zM330 577h10v6h-10zM339 582h5v6h-5z"/><path fill="#734789" shape-rendering="crispEdges" d="M356 513h5v6h-5zM368 528h6v5h-6zM318 532h5v6h-5zM364 537h5v6h-5zM296 542h6v6h-6zM322 552h5v6h-5zM330 552h6v6h-6zM343 552h9v6h-9zM305 557h14v6h-14z"/><path fill="#3d4398" shape-rendering="crispEdges" d="M364 513h5v6h-5zM360 518h5v6h-5zM356 528h5v5h-5zM351 532h6v6h-6zM360 532h5v6h-5zM322 537h5v6h-5zM343 542h5v6h-5zM351 542h6v6h-6zM301 547h5v6h-5z"/><path fill="#294492" shape-rendering="crispEdges" d="M368 513h6v6h-6zM343 532h5v6h-5zM356 537h5v6h-5z"/><path fill="#4a4296" shape-rendering="crispEdges" d="M373 513h5v6h-5zM356 518h5v6h-5zM351 523h6v6h-6zM368 523h6v6h-6zM335 528h5v5h-5zM313 537h10v6h-10zM296 547h6v6h-6zM326 547h5v6h-5zM335 547h5v6h-5zM347 547h5v6h-5zM296 552h6v6h-6zM313 552h6v6h-6z"/><path fill="#b05478" shape-rendering="crispEdges" d="M326 518h5v6h-5zM313 523h6v6h-6zM305 528h5v5h-5zM288 537h5v6h-5zM284 542h5v6h-5zM373 542h5v6h-5zM288 562h5v6h-5zM364 567h5v6h-5zM356 577h5v6h-5zM351 582h6v6h-6zM343 587h5v6h-5z"/><path fill="#8e4c82" shape-rendering="crispEdges" d="M339 518h5v6h-5zM326 523h10v6h-10zM309 528h5v5h-5zM360 547h5v6h-5zM322 557h9v6h-9zM339 557h22v6h-22zM322 562h5v6h-5zM343 562h5v6h-5zM351 562h6v6h-6zM360 562h5v6h-5zM347 567h5v6h-5zM343 572h5v6h-5zM351 572h6v6h-6zM339 577h18v6h-18z"/><path fill="#30449a" shape-rendering="crispEdges" d="M364 518h5v6h-5zM360 523h5v6h-5zM347 532h5v6h-5zM335 537h5v6h-5zM313 542h6v6h-6zM330 542h6v6h-6zM313 547h6v6h-6z"/><path fill="#2c4496" shape-rendering="crispEdges" d="M368 518h6v6h-6zM347 528h5v5h-5zM330 532h6v6h-6zM326 542h5v6h-5z"/><path fill="#5a4490" shape-rendering="crispEdges" d="M373 518h5v6h-5zM343 523h5v6h-5zM301 542h5v6h-5zM292 547h5v6h-5zM292 552h5v6h-5z"/><path fill="#5f448e" shape-rendering="crispEdges" d="M339 523h5v6h-5zM360 542h5v6h-5z"/><path fill="#444297" shape-rendering="crispEdges" d="M356 523h5v6h-5zM360 528h5v5h-5zM339 542h5v6h-5zM356 542h5v6h-5zM305 547h5v6h-5zM322 547h5v6h-5z"/><path fill="#364499" shape-rendering="crispEdges" d="M364 523h5v6h-5zM351 528h6v5h-6zM335 532h5v6h-5zM356 532h5v6h-5zM339 537h18v6h-18zM360 537h5v6h-5zM309 542h5v6h-5zM318 542h9v6h-9zM335 542h5v6h-5zM347 542h5v6h-5zM309 547h5v6h-5zM318 547h5v6h-5z"/><path fill="#7a4887" shape-rendering="crispEdges" d="M373 523h5v6h-5zM322 528h5v5h-5zM288 547h5v6h-5zM288 552h5v6h-5zM326 552h5v6h-5zM335 552h5v6h-5zM351 552h6v6h-6zM292 557h14v6h-14zM318 557h5v6h-5z"/><path fill="#a9527a" shape-rendering="crispEdges" d="M377 523h5v6h-5zM292 532h10v6h-10zM373 532h5v6h-5zM373 537h5v6h-5zM368 557h6v6h-6zM301 567h5v6h-5zM313 567h6v6h-6zM360 572h5v6h-5zM326 577h5v6h-5zM330 582h6v6h-6z"/><path fill="#954d80" shape-rendering="crispEdges" d="M313 528h6v5h-6zM301 532h9v6h-9zM296 537h6v6h-6zM368 537h6v6h-6zM288 542h5v6h-5zM368 542h6v6h-6zM364 547h5v6h-5zM284 552h5v6h-5zM364 552h5v6h-5zM330 557h6v6h-6zM360 557h5v6h-5zM296 562h6v6h-6zM335 562h9v6h-9zM356 562h5v6h-5zM322 567h5v6h-5zM335 567h9v6h-9zM360 567h5v6h-5zM326 572h10v6h-10zM339 572h5v6h-5zM347 572h5v6h-5zM335 582h5v6h-5z"/><path fill="#1e3e7c" shape-rendering="crispEdges" d="M339 528h5v5h-5z"/><path fill="#22438a" shape-rendering="crispEdges" d="M343 528h5v5h-5z"/><path fill="#4f4294" shape-rendering="crispEdges" d="M322 532h5v6h-5zM305 542h5v6h-5zM330 547h6v6h-6zM301 552h13v6h-13zM318 552h5v6h-5z"/><path fill="#26438e" shape-rendering="crispEdges" d="M326 532h5v6h-5zM339 532h5v6h-5z"/><path fill="#1b3a6e" shape-rendering="crispEdges" d="M326 537h10v6h-10z"/><path fill="#ea7e49" shape-rendering="crispEdges" d="M390 582h5v6h-5z"/><path fill="none" stroke="#3a2a2a" stroke-width="0.55" stroke-opacity="0.6" d="M400.9 483.9 400.9 497.1 400.1 500.4 398.8 502.2 397.4 503.1 393.1 504.2 389.2 508.6 388.4 510.3 387.4 515.2 385.7 518.5 385.6 520.1 388.9 524.9 393.1 529.4 394.4 530 410.1 530.2M410.1 538.9 396 538.9 393.1 539.6 380.2 554.7 379.6 556.4 379.5 559.7 380 564.6 388.1 574.5 393.1 576.1 394.6 577 397.4 580 398.8 580.6 405.9 581.1 407.3 581.9 410.1 584.8M410.1 599.7 364.9 599.8 362.6 600.8 359.3 604 355 605.1 350.8 609 349.4 609.6 321.1 609.7 318.3 608.7 315.5 605.6 314.1 604.9 294.3 604.5 292.9 603.9 288.7 600 284.4 598.9 274.4 587.6 265.2 576.1 265.1 574.5 266.1 572.5 267.5 571.3 272.6 569.5 276.7 564.6 277.3 561.3 277.4 541.5 278 538.3 301.4 510.8 307 508.9 309.8 505.8 311.2 505.1 335.3 504.7 336.7 504.1 339.5 501.2 342.3 499.9 356.4 499.7 357.8 499.2 360.7 496.4 363.5 494.9 374.8 494.3 379 490.5 384.2 488.9 388.3 483.9M398.3 483.9 398.4 495.4 397.9 498.7 396 500.3 393.1 501 391.8 502 387.5 507 386.1 509.6 385.6 513.6 383.2 518.5 383.1 520.1 387.5 526.7 391.7 531.6 394.6 533.8 396 534.1 410.1 534.2M321.1 518.2 320.5 518.5 321.1 519.3 322.5 519 322.9 518.5 321.1 518.2M410.1 535.3 396 535.3 393.1 536.1 386.8 543.2 377.7 554.7 377.1 561.3 377.5 564.6 378.4 566.2 387 576.1 393.1 579 396 582.2 397.4 583.2 405.9 584.2 410.1 588.1M410.1 596.6 364.9 596.9 362.1 597.9 357.8 601.5 355 602.1 353.6 602.9 349.4 606.6 346.5 606.9 321.1 606.8 319.7 606.4 315.5 602.5 314.1 601.9 294.3 601.5 290.1 597.8 284.4 595.6 273.3 582.7 269 576.1 269.1 574.5 273.1 572.4 278.4 566.2 279.3 564.6 279.6 561.3 279.7 541.5 280.7 538.3 301.4 514.2 302.8 513.2 307 512 309.8 509.2 312.7 507.8 335.3 507.5 336.7 507.1 340.9 503.3 342.3 502.8 356.4 502.4 357.9 502 362.1 498.4 363.5 497.7 374.8 497.2 376.2 496.5 380.4 492.9 384.7 491.7 390.2 485.6 391.2 483.9M391.7 487.2 393.1 486.2 394.6 486.3 395.2 487.2 396 490.5 395.4 495.4 394.6 496.7 390.3 500.5 385.2 507 384.5 508.6 384.1 513.6 381.6 518.5 381.5 520.1 384.7 525.9 390.2 533.3 390.5 535 376.2 554.1 375.6 556.4 375.7 564.6 377.4 567.9 384.7 576.5 390.3 579.5 396 585.4 397.4 586 404.4 586.3 405.9 586.9 408 589.3 408.6 590.9 408.3 592.6 407.3 593.5 404.4 594.2 390.3 593.8 383.3 594.3 364.9 594.3 362.1 595.2 357.8 598.7 353.6 600.2 349.4 603.9 345.1 604.4 321.1 604.2 319.7 603.7 315.5 599.6 314.1 599.1 297.1 599.2 294.3 598.8 290.1 595 285.8 593.8 284.4 592.9 274.6 581.1 273.7 579.4 273.4 576.1 274.1 574.5 280.6 566.2 281.3 564.6 281.2 548.1 281.8 539.9 283.9 536.6 301.4 517.1 302.8 516 307 514.8 311.2 510.8 312.7 510.3 335.3 509.7 337.9 508.6 340.9 505.9 342.3 505.3 356.4 504.5 358.6 503.7 363.5 499.8 373.4 499.5 376.2 499 380.4 495.7 384.7 494.7 386.1 493.7 391.7 487.2M319.7 516.5 318.3 518.5 318.8 520.1 321.1 521.1 324.5 520.1 325 518.5 324 516.9 322.5 516.4 319.7 516.5M307 521.8 305.6 522.5 305.2 523.4 305.6 525.1 307 525.5 307.6 525.1 308.2 523.4 307 521.8M380.5 498.7 386.3 498.7 386 500.4 383.3 506.5 382.9 513.6 380.3 518.5 380.1 520.1 384.5 530 385.2 535 383.6 539.9 381 544.8 374.8 553.9 374.3 556.4 374.1 564.6 375.1 567.9 382.7 577.8 384.7 579.4 388.1 581.1 389.3 582.7 391.1 587.6 389.5 589.3 386.5 590.9 383.3 591.7 367.7 591 364.9 591.5 360.7 593.2 357.2 595.9 352.8 597.5 349.4 600.9 345.1 601.6 336.7 601.3 331 600.4 325.4 600.4 321.1 601.1 319.7 600.5 316.9 596.3 314.1 595.2 302.8 596.2 295.7 596.2 294.3 595.9 291.5 592.4 290.1 591.4 286.5 590.9 284.4 589.3 277.4 580.4 276.2 577.8 276.3 576.1 277.1 574.5 282.1 567.9 283 565.7 282.4 553.1 283 541.5 284.4 538.3 292.9 528.5 298.5 523 302.8 519.7 303.4 520.1 303.3 523.4 303.8 525.1 305.4 526.7 307 527 308.4 526.2 309.3 525.1 309.7 523.4 309.5 521.8 308 518.5 309.8 515.2 311.2 513.6 312.7 513 315.5 512.9 319.2 513.6 318.3 513.9 317.1 516.9 316.9 518.5 317.2 520.1 318.3 521.3 319.7 522 322.5 522 324 521.7 325.8 520.1 326.2 518.5 325.9 516.9 324 514.9 320.2 513.6 324 512.5 336.7 511.2 342.3 507.6 356.4 506.2 359.3 505 363.5 501.7 376.2 501 380.5 498.7M363.1 503.7 366.3 502.9 373.4 502.8 377.6 503.2 380.4 504.8 381.6 508.6 381.8 513.6 379.2 518.5 379 520.1 381.1 525.1 381.3 528.4 379.8 535 379.8 539.9 379.3 543.2 374.4 551.4 373.2 554.7 372.6 569.5 372.2 571.2 363.5 580.8 360.7 587.5 359.3 588.8 355 591.7 345.1 596.4 338.1 595.5 336.7 594.9 333.8 592.7 324 582.6 318.3 577.6 315.5 576.6 311.2 576.8 304.2 575.9 295.7 575.7 291.5 573.9 287.2 569.9 285.8 567.3 283.7 556.4 283.6 549.8 284.2 543.2 285.8 539.3 294.3 529.8 299.9 525.9 301.4 525.7 305.6 528.3 308.4 527.7 310.7 525.1 312.7 519.3 314.1 518.4 316.6 521.8 318.3 522.8 321.1 523.1 324 522.7 325.8 521.8 327 520.1 328.2 515.1 336.7 513.1 342.3 510 350.8 509.1 357.8 507.3 363.1 503.7M363.8 505.3 370.6 504.3 374.8 504.7 376.9 505.3 379 506.8 380.1 508.6 380.7 513.6 378.3 518.5 378.1 520.1 379.4 525.1 379.2 526.7 376.9 533.3 376.2 543.2 372.3 551.4 370.6 564.7 367.7 570 360.7 577.9 357.7 582.7 355 585.7 345.1 591.1 342.3 591.7 339.5 591.4 336.7 589.8 332.2 586 326.6 579.4 319.7 572.7 315.5 571.9 311.2 572.2 302.8 571.5 297.1 571.5 294.3 570.1 289 564.6 285.8 559 285.1 556.4 284.7 553.1 285.3 546.5 285.8 544.1 287.2 541.5 294.3 533.7 302.7 530 305.6 530.1 308.4 529.4 312.7 525.7 315.5 524.2 321.1 524.3 325.4 523.3 327.5 521.8 329.6 518.4 331 517.5 336.7 515.8 342.3 512.8 349.4 511.8 353.6 510.8 359.3 508.4 363.8 505.3M365.2 507 370.6 506 375.6 507 377.6 508.3 379 510.3 379.4 513.6 377.3 518.5 377.2 525.1 373.6 533.3 371 544.8 368 549.8 367.3 554.7 366.6 556.4 363.3 559.7 362.9 561.3 363.5 563 363.5 565.3 362.1 567.2 359.3 565.3 358.2 566.2 357.4 571.2 356.4 573.9 353.9 579.4 352.2 580.9 349.4 582 346.5 582.2 345.1 582.7 342.3 586 340.9 586.4 339.5 585.8 333 581.1 332 579.4 331.8 577.8 332.4 576.4 338.1 575.8 339.3 574.5 339.5 572.8 338.5 566.2 336.3 564.6 332.4 562.7 329.6 562.5 328.5 563 327.6 564.6 330.1 567.9 330.7 569.5 330.2 572.8 329.6 573.5 328.2 573.4 324 568.8 322.5 568.3 315.5 567.3 308.4 567.4 305.6 566.5 302.8 564.8 298.5 565.2 295.7 564.5 292.9 562.8 287.4 556.4 286.6 553.1 287.4 548.1 289.6 544.8 294.3 540.6 298.5 538.7 302.8 535.5 307 533.9 312 530 315.5 529 319 526.7 326.8 524.5 335.3 521.4 343.7 516.5 352.2 514.3 365.2 507M367.3 508.6 370.6 507.9 373.4 508.3 376.2 510 377.5 511.9 377.7 513.6 375.3 523.4 368.4 535 366.8 541.5 365 544.8 357.8 551.7 355 553.7 349.4 555.1 340.9 553.8 335.3 554.5 326.8 554.6 324 555.8 319.7 559.5 318.3 560 311.2 560.4 295.7 558.9 292.9 557.3 290.8 554.7 290.5 553.1 291 549.8 292.9 547.3 309.8 536.8 312.7 535.6 318.3 534.3 322.5 530.6 325.4 528.9 328.2 528.1 332.4 527.7 340.9 522.5 345.1 521 349.4 520.4 350.8 519.8 363.5 510.5 367.3 508.6M370.4 510.3 372 510.3 373.4 511 374.5 511.9 375.5 513.6 374.8 518.6 373.6 521.8 372 524.5 366.7 530 365.7 531.7 364.9 534.7 364.5 539.9 363.5 542 359.3 546.1 355 548.7 350.8 550.5 342.3 549.4 336.7 550.5 326.8 551.2 322.5 552.6 318.3 555.5 315.5 556 304.2 555.2 298.5 555.3 296.8 554.7 295.8 553.1 295.8 551.4 296.7 549.8 311.2 540.1 314.1 538.9 319.7 538.1 321.1 537.3 324.4 533.3 326.6 531.7 328.2 531.1 333.8 530.7 340.9 525.4 345.1 524.5 349.4 524.5 352.2 523.6 355 521.6 364 513.6 367.7 511.2 370.4 510.3M368.3 515.2 370.6 513.8 372 514.4 372.4 515.2 372 518.4 370.6 520.3 364.9 523.3 364.4 521.8 368.3 515.2M340.1 528.4 342.3 527.3 345.1 527.3 349.5 528.4 352.2 529.7 352.8 530 353.5 531.7 353.6 535.1 355 535.6 357.8 535 359.3 535.5 360.7 536.8 361.1 538.3 360.8 539.9 359.2 541.5 356.4 542.4 352.4 541.5 348.1 539.9 343.7 540 340.9 540.8 336.2 544.8 331 546.1 326.8 546.1 323.5 544.8 324.8 538.3 326.8 534.5 328.2 533.5 329.6 533.3 336.7 533.9 340.1 528.4M313.4 544.8 315.5 544 316.9 544 320.4 544.8 320.8 546.5 319.4 548.1 317.2 549.8 315.5 550.2 314.1 549.9 312.2 548.1 312.2 546.5 313.4 544.8M328.2 538.3 329.6 537.1 331 537.5 332.2 538.3 332.5 539.9 331 540.8 329.6 541 328.2 540 328.2 538.3"/>
<g transform="translate(224.4 483.1) scale(0.9968 0.9950)">
<use href="#coast"/>
</g>
<rect x="224.4" y="483.1" width="186.4" height="138.3" fill="none" stroke="#7a7a7a" stroke-width="1"/>
<path d="M241.3 483.1v2M241.3 621.4v-2M275.2 483.1v2M275.2 621.4v-2M309.1 483.1v2M309.1 621.4v-2M343.0 483.1v2M343.0 621.4v-2M376.9 483.1v2M376.9 621.4v-2M224.4 581.9h2M410.8 581.9h-2M224.4 542.4h2M410.8 542.4h-2M224.4 502.9h2M410.8 502.9h-2" stroke="#7a7a7a" stroke-width="1" fill="none"/>
<text x="228.7" y="498" font-size="12.9" font-weight="bold" fill="#111">(i) Cluster IV</text>
<path fill="#dbdd5b" shape-rendering="crispEdges" d="M267 707h13v6h-13zM263 712h5v6h-5zM279 712h14v6h-14zM250 717h14v6h-14zM292 717h35v6h-35zM246 722h5v6h-5zM326 722h14v6h-14zM246 727h5v6h-5zM335 727h5v6h-5zM246 732h5v6h-5zM339 732h5v6h-5zM246 737h5v6h-5zM343 737h9v6h-9zM246 742h5v6h-5zM351 742h10v6h-10zM241 747h6v6h-6zM343 747h18v6h-18zM241 752h6v6h-6zM339 752h5v6h-5zM241 757h23v6h-23zM339 757h5v6h-5zM263 762h77v6h-77z"/><path fill="#f39e3e" shape-rendering="crispEdges" d="M267 712h13v6h-13zM263 717h5v6h-5zM279 717h14v6h-14zM250 722h14v6h-14zM292 722h35v6h-35zM250 727h5v6h-5zM326 727h10v6h-10zM250 732h5v6h-5zM335 732h5v6h-5zM250 737h5v6h-5zM339 737h5v6h-5zM250 742h5v6h-5zM343 742h9v6h-9zM246 747h5v6h-5zM339 747h5v6h-5zM246 752h18v6h-18zM335 752h5v6h-5zM263 757h77v6h-77z"/><path fill="#e27051" shape-rendering="crispEdges" d="M267 717h5v6h-5zM279 722h6v6h-6zM267 727h5v6h-5zM275 727h10v6h-10zM267 732h9v6h-9zM288 732h14v6h-14zM305 732h5v6h-5zM318 732h5v6h-5zM279 737h6v6h-6zM288 737h5v6h-5zM263 742h5v6h-5zM288 742h5v6h-5zM339 742h5v6h-5zM275 747h5v6h-5zM284 747h5v6h-5zM335 747h5v6h-5zM279 752h6v6h-6z"/><path fill="#e6744e" shape-rendering="crispEdges" d="M271 717h5v6h-5zM263 722h5v6h-5zM271 722h9v6h-9zM258 727h10v6h-10zM271 727h5v6h-5zM301 727h18v6h-18zM322 727h5v6h-5zM275 732h10v6h-10zM313 732h6v6h-6zM254 737h5v6h-5zM263 737h9v6h-9zM275 737h5v6h-5zM284 737h5v6h-5zM322 737h5v6h-5zM335 737h5v6h-5zM267 742h5v6h-5zM275 742h5v6h-5zM330 742h10v6h-10zM267 747h9v6h-9zM279 747h6v6h-6zM271 752h9v6h-9zM288 752h5v6h-5z"/><path fill="#e8794b" shape-rendering="crispEdges" d="M275 717h5v6h-5zM318 727h5v6h-5zM254 732h5v6h-5zM263 732h5v6h-5zM258 737h6v6h-6zM271 737h5v6h-5zM326 737h5v6h-5zM258 742h6v6h-6zM271 742h5v6h-5zM258 747h10v6h-10z"/><path fill="#dd6c55" shape-rendering="crispEdges" d="M267 722h5v6h-5zM284 722h9v6h-9zM284 732h5v6h-5zM309 732h5v6h-5zM292 737h10v6h-10zM279 742h10v6h-10zM326 742h5v6h-5zM288 747h5v6h-5zM330 747h6v6h-6zM284 752h5v6h-5zM292 752h5v6h-5zM330 752h6v6h-6z"/><path fill="#ea7e49" shape-rendering="crispEdges" d="M254 727h5v6h-5zM258 732h6v6h-6zM322 732h5v6h-5zM330 737h6v6h-6zM254 742h5v6h-5zM254 747h5v6h-5zM263 752h9v6h-9z"/><path fill="#d96858" shape-rendering="crispEdges" d="M284 727h5v6h-5zM296 727h6v6h-6zM301 732h5v6h-5zM305 737h5v6h-5zM318 737h5v6h-5zM296 752h6v6h-6z"/><path fill="#d4645c" shape-rendering="crispEdges" d="M288 727h9v6h-9zM301 737h5v6h-5zM309 737h10v6h-10zM292 742h5v6h-5zM292 747h5v6h-5z"/><path fill="#f08c41" shape-rendering="crispEdges" d="M326 732h5v6h-5zM250 747h5v6h-5z"/><path fill="#ec8246" shape-rendering="crispEdges" d="M330 732h6v6h-6z"/><path fill="#c35b69" shape-rendering="crispEdges" d="M296 742h6v6h-6zM305 752h5v6h-5zM326 752h5v6h-5z"/><path fill="#bd596e" shape-rendering="crispEdges" d="M301 742h9v6h-9z"/><path fill="#ca5e64" shape-rendering="crispEdges" d="M309 742h14v6h-14zM296 747h6v6h-6zM326 747h5v6h-5zM301 752h5v6h-5z"/><path fill="#d0605f" shape-rendering="crispEdges" d="M322 742h5v6h-5z"/><path fill="#b05478" shape-rendering="crispEdges" d="M301 747h13v6h-13zM322 747h5v6h-5z"/><path fill="#a2507c" shape-rendering="crispEdges" d="M313 747h6v6h-6zM322 752h5v6h-5z"/><path fill="#954d80" shape-rendering="crispEdges" d="M318 747h5v6h-5z"/><path fill="#b65673" shape-rendering="crispEdges" d="M309 752h5v6h-5z"/><path fill="#9c4f7e" shape-rendering="crispEdges" d="M313 752h6v6h-6z"/><path fill="#884a84" shape-rendering="crispEdges" d="M318 752h5v6h-5z"/><path fill="none" stroke="#3a2a2a" stroke-width="0.55" stroke-opacity="0.6" d="M267.1 711.4 270.3 710.5 275.9 710.7 278.8 712.2 281.6 715.1 290.1 716.1 294.3 720 295.7 720.5 324 720.9 325.4 721.6 328.2 724.7 329.6 725.4 333.8 726.3 335.3 727.4 336.7 729.6 345.1 739.5 346.5 740.5 350.8 741.7 351.9 742.7 352.9 744.3 353.1 746 352.6 747.6 350.8 749.1 346.5 750 345.1 750.9 341.2 755.8 340.3 760.8 339.5 762.4 338.1 763.8 335.3 764.8 266.1 764.8 263.2 764.1 259 760.3 257.6 759.8 246.3 759.4 244.9 758.8 243.8 757.5 243.2 755.8 242.9 752.5 243.6 749.3 246.8 744.3 247.2 727.9 247.6 724.6 248.4 722.9 250.5 721.2 259 720.1 267.1 711.4M267.1 714.7 268.9 713.7 270.3 713.4 275.9 713.7 281.6 718.1 288.7 718.6 290.1 719.2 294.3 723 295.7 723.4 321.1 723.5 324 724 328.2 727.9 332.4 729.1 333.8 730.2 345.1 743 347.6 744.3 348 746 346.5 746.4 345.1 747.5 339.4 754.2 337.1 760.8 335.3 761.7 333.8 761.9 266.1 761.8 263.2 760.8 260.4 757.9 259 757.1 247.7 756.4 246.3 755.5 245.6 752.5 246.3 749.9 249.1 746 249.5 744.3 249.8 727.9 250.5 725 251.9 723.9 257.6 723.5 259.3 722.9 261.3 721.3 267.1 714.7M269.6 716.3 273.1 716.3 275.9 716.9 280.2 720.3 281.6 720.8 288.7 721.2 290.1 721.9 292.9 724.6 295.7 725.8 322.5 726.5 324 727 328.2 732 332.4 733.3 336.7 736.8 342.3 742.9 343.2 744.3 343.3 746 337 754.2 335.3 757.8 333.8 758.9 331 759.6 318.3 760.4 290.1 759.2 273.1 759 264.6 758.2 260.4 754.6 259 753.9 252.4 752.5 250.9 750.9 252.2 744.3 252.4 731.2 253.7 727.9 260.4 725.3 267.5 717.3 269.6 716.3M267.3 721.3 268.9 720 270.3 719.8 274.5 721.2 278.8 723.7 288.7 724 292.9 727.5 294.3 728.1 302.8 729.7 312.7 730 322.5 731.1 323.9 736.1 325.4 738.2 327 739.4 331 741.1 332.4 741.6 335.3 741.6 336.7 742.1 339.1 744.3 339.5 746 332.4 756.7 330.8 757.5 325.4 758.5 319.7 759 315.5 758.8 302.8 757.7 290.1 756 283 756.5 270.4 754.2 266.5 752.5 261.8 748.7 260.9 747.6 259 743.1 256.7 741 256.1 739.4 256.6 737.7 257.6 736.7 259 737.3 260.4 736.5 260.5 734.4 258.8 732.8 259.2 731.2 261.8 729.3 267.3 721.3M300.3 741 302.8 740 307 740.9 314.1 740.6 318.3 741.3 325.4 745.2 328.6 747.6 330.7 750.9 330.9 752.5 330.5 754.2 328.7 755.8 326.8 756.5 319.7 757.8 302.8 755.4 299.3 754.2 296.3 752.5 294.7 750.9 294.3 747.6 295.7 743.9 300.3 741M317.2 747.6 321.1 747.9 323.7 749.3 325.2 750.9 325.8 752.5 325.5 754.2 322.9 755.8 321.1 756.2 315.4 755.8 311.6 754.2 308.4 751.8 304.2 750.8 303 749.3 304.2 748.3 309.8 748.9 317.2 747.6"/>
<g transform="translate(224.4 638.2) scale(0.9968 0.9942)">
<use href="#coast"/>
</g>
<rect x="224.4" y="638.2" width="186.4" height="138.2" fill="none" stroke="#7a7a7a" stroke-width="1"/>
<path d="M241.3 638.2v2M241.3 776.4v-2M275.2 638.2v2M275.2 776.4v-2M309.1 638.2v2M309.1 776.4v-2M343.0 638.2v2M343.0 776.4v-2M376.9 638.2v2M376.9 776.4v-2M224.4 736.9h2M410.8 736.9h-2M224.4 697.4h2M410.8 697.4h-2M224.4 657.9h2M410.8 657.9h-2" stroke="#7a7a7a" stroke-width="1" fill="none"/>
<text x="228.7" y="653.1" font-size="12.9" font-weight="bold" fill="#111">(j) Cluster V</text>
<text x="241.3" y="791.9" font-size="10.3" text-anchor="middle" fill="#333">100°E</text>
<text x="275.2" y="791.9" font-size="10.3" text-anchor="middle" fill="#333">120°E</text>
<text x="309.1" y="791.9" font-size="10.3" text-anchor="middle" fill="#333">140°E</text>
<text x="343" y="791.9" font-size="10.3" text-anchor="middle" fill="#333">160°E</text>
<text x="376.9" y="791.9" font-size="10.3" text-anchor="middle" fill="#333">180°</text>
<text x="406.8" y="791.9" font-size="10.3" text-anchor="middle" fill="#333">160°W</text>
<path fill="#dfe3e3" shape-rendering="crispEdges" d="M537 88h5v6h-5zM537 93h5v6h-5zM515 108h6v6h-6zM550 113h5v6h-5zM507 118h5v6h-5zM515 123h6v5h-6zM503 127h9v6h-9zM537 127h5v6h-5zM550 127h5v6h-5zM511 132h5v6h-5zM528 132h6v6h-6zM584 132h5v6h-5zM520 137h5v6h-5zM554 137h5v6h-5zM575 142h5v6h-5z"/><path fill="#ece8e6" shape-rendering="crispEdges" d="M541 88h5v6h-5zM541 93h5v6h-5zM545 103h6v6h-6zM550 108h5v6h-5zM511 118h5v6h-5zM498 123h6v5h-6zM507 123h5v5h-5zM498 127h6v6h-6zM533 127h5v6h-5zM567 127h9v6h-9zM579 127h6v6h-6zM571 132h5v6h-5zM579 132h6v6h-6zM545 137h6v6h-6zM575 137h5v6h-5zM545 142h6v6h-6z"/><path fill="#e6d4cc" shape-rendering="crispEdges" d="M545 88h6v6h-6zM528 93h6v6h-6zM545 98h6v6h-6zM554 118h5v6h-5zM567 118h5v6h-5zM511 123h5v5h-5zM554 123h5v5h-5zM571 123h5v5h-5zM562 127h6v6h-6zM575 127h5v6h-5zM558 132h5v6h-5zM567 132h5v6h-5zM515 137h6v6h-6zM550 137h5v6h-5zM550 142h5v6h-5z"/><path fill="#dcb4a6" shape-rendering="crispEdges" d="M507 93h5v6h-5zM562 113h6v6h-6zM562 118h6v6h-6zM537 137h5v6h-5zM567 142h5v6h-5z"/><path fill="#d19380" shape-rendering="crispEdges" d="M511 93h5v6h-5zM515 98h6v6h-6zM511 103h5v6h-5zM558 142h5v6h-5z"/><path fill="#d8a99a" shape-rendering="crispEdges" d="M515 93h6v6h-6zM562 137h6v6h-6z"/><path fill="#e3c9bf" shape-rendering="crispEdges" d="M520 93h9v6h-9zM507 103h5v6h-5zM515 103h6v6h-6zM550 103h5v6h-5zM554 108h5v6h-5zM562 123h6v5h-6zM558 127h5v6h-5zM533 132h9v6h-9zM550 132h5v6h-5zM541 137h5v6h-5zM558 137h5v6h-5zM528 142h6v6h-6zM537 142h5v6h-5z"/><path fill="#d2dde0" shape-rendering="crispEdges" d="M533 93h5v6h-5zM520 98h5v6h-5zM528 98h6v6h-6zM528 103h6v6h-6zM545 108h6v6h-6zM503 113h13v6h-13zM498 118h6v6h-6zM524 118h10v6h-10zM503 123h5v5h-5zM528 123h6v5h-6zM511 127h10v6h-10zM503 132h9v6h-9zM524 132h5v6h-5zM579 137h6v6h-6z"/><path fill="#e9ded9" shape-rendering="crispEdges" d="M545 93h6v6h-6zM554 103h5v6h-5zM507 108h9v6h-9zM558 108h5v6h-5zM554 113h5v6h-5zM494 123h5v5h-5zM567 123h5v5h-5zM554 127h5v6h-5zM515 132h6v6h-6zM541 132h10v6h-10zM554 132h5v6h-5zM562 132h6v6h-6zM575 132h5v6h-5zM524 137h5v6h-5zM571 137h5v6h-5zM541 142h5v6h-5zM554 142h5v6h-5zM571 142h5v6h-5z"/><path fill="#e0bfb3" shape-rendering="crispEdges" d="M507 98h5v6h-5zM550 98h5v6h-5zM558 113h5v6h-5zM528 137h10v6h-10zM567 137h5v6h-5zM533 142h5v6h-5z"/><path fill="#bc5944" shape-rendering="crispEdges" d="M511 98h5v6h-5z"/><path fill="#a3c5d1" shape-rendering="crispEdges" d="M524 98h5v6h-5zM545 113h6v6h-6zM520 127h9v6h-9z"/><path fill="#80b1c5" shape-rendering="crispEdges" d="M533 98h5v6h-5zM541 103h5v6h-5zM520 113h9v6h-9zM541 113h5v6h-5zM537 118h9v6h-9zM541 123h5v5h-5zM588 132h5v6h-5zM592 137h6v6h-6zM584 142h5v6h-5zM592 142h6v6h-6z"/><path fill="#92bbca" shape-rendering="crispEdges" d="M537 98h5v6h-5z"/><path fill="#c4d8dd" shape-rendering="crispEdges" d="M541 98h5v6h-5zM528 108h6v6h-6zM515 113h6v6h-6zM528 113h6v6h-6zM515 118h6v6h-6zM533 118h5v6h-5zM524 123h5v5h-5zM533 123h5v5h-5zM528 127h6v6h-6zM541 127h5v6h-5zM579 142h6v6h-6z"/><path fill="#3d88b9" shape-rendering="crispEdges" d="M520 103h5v6h-5zM588 137h5v6h-5z"/><path fill="#307fb7" shape-rendering="crispEdges" d="M524 103h5v6h-5zM520 108h9v6h-9zM545 123h6v5h-6z"/><path fill="#6ea6c2" shape-rendering="crispEdges" d="M533 103h5v6h-5zM545 118h6v6h-6zM550 123h5v5h-5zM588 142h5v6h-5z"/><path fill="#1e6cb1" shape-rendering="crispEdges" d="M537 103h5v6h-5z"/><path fill="#4a92bb" shape-rendering="crispEdges" d="M533 108h5v6h-5zM541 108h5v6h-5zM537 113h5v6h-5z"/><path fill="#1953a2" shape-rendering="crispEdges" d="M537 108h5v6h-5z"/><path fill="#b4cfd8" shape-rendering="crispEdges" d="M533 113h5v6h-5zM503 118h5v6h-5zM520 118h5v6h-5zM550 118h5v6h-5zM520 123h5v5h-5zM537 123h5v5h-5zM545 127h6v6h-6zM520 132h5v6h-5zM592 132h6v6h-6zM584 137h5v6h-5z"/><path fill="#d59e8e" shape-rendering="crispEdges" d="M558 118h5v6h-5zM558 123h5v5h-5z"/><path fill="#cd8773" shape-rendering="crispEdges" d="M562 142h6v6h-6z"/><path fill="none" stroke="#3a2a2a" stroke-width="0.45" stroke-opacity="0.6" d="M538.9 107.7 538 108.4 537.6 110.1 538.9 111.5 540 110.1 538.9 107.7M536.1 101 534.7 101.9 533.3 105.1 532.6 108.4 533 111.7 538.3 120 541.8 122.5 543.5 126.6 546 128.6 547.5 128.8 548.9 128.4 550.9 126.6 551.2 125 550.7 123.3 548.9 120.8 545.5 118.4 544.6 116.7 544.7 110.1 543.2 105.4 540.4 101.8 538.9 101 536.1 101M523.3 102.7 521.9 103.5 520.8 105.1 519.6 110.1 520.4 114.7 521.9 116.2 523.3 116.5 526.1 115.4 527.5 113.4 528.2 111.7 528.4 108.4 527.9 105.1 526.9 103.4 524.7 102.5 523.3 102.7M590.1 137.6 588.2 141.6 588.1 144.9 590.1 146.2 593 146.1 594.5 144.9 594.9 141.6 594.4 139.9 593 137.9 591.6 137.1 590.1 137.6M534.7 96.8 530.4 100.5 524.7 99.6 521.9 100.7 519.9 103.4 518.6 106.8 516.9 113.4 516.6 116.7 519.2 125 518.7 131.6 520.4 135.4 521.9 136.9 523.3 136.6 528.6 133.3 530.3 130 530.9 126.6 531.8 126.2 537.5 127.9 543.2 131.2 546 132.1 548.9 131.6 551.7 130 553.1 128.3 553.7 126.6 553.5 123.3 552.5 120 548 111.7 545 103.4 543.2 100.2 541.8 98.5 538.9 96.9 536.1 96.4 534.7 96.8M504.8 119.9 504.4 120 504.8 120.3 504.9 120 504.8 119.9M527.7 121.7 529 121.1 530.4 121.3 530.4 125.6 527.9 123.3 527.7 121.7M591.6 133.1 590.1 133.3 588 134.9 582.8 143.2 582.4 144.9 582.6 146.5 584.1 148.2 585.9 149.1 590.1 149.6 594.4 149.4 596.7 148.2 597.6 146.5 597.9 141.6 596.8 136.6 594.4 134 591.6 133.1M508.1 93.5 510.5 92.3 514.7 92.1 519 93.5 520.4 95.2 519.2 100.1 516.2 106.6 514.7 108.3 513.3 109.1 511.9 109.2 510 108.4 508.4 106.8 507.6 105.1 506.8 101.8 506.6 96.8 506.9 95.2 508.1 93.5M550.8 100.1 552 100.1 552.5 101.8 551.7 103.7 550.3 101.8 550.8 100.1M560.8 113.4 564.5 113.6 566 114.6 567.5 118.4 567.8 121.7 564.5 128.5 561.7 131.4 560.3 131.7 558.8 130.8 557.6 128.3 556.9 121.7 557.3 118.4 558.6 115 560.8 113.4M535.8 136.6 538.9 136.7 541 138.2 542 139.9 542.1 141.6 541.6 143.2 540.4 145.1 538.9 146.4 537.5 147 533.2 147.2 530.8 146.5 529.6 144.9 529.2 143.2 529.6 141.6 535.8 136.6M563.3 138.2 566 138.1 568.8 138.8 570.1 139.9 571 141.6 571.3 144.9 570.8 146.5 569.4 148.2 567.4 149.2 564.5 149.8 560.3 149.4 558.3 148.2 557.5 146.5 557.7 144.9 560.3 140.2 561.7 138.8 563.3 138.2M513.2 95.2 514.7 95.6 516.2 96.7 516.9 98.5 517 100.1 516.2 102.4 514.7 104.4 513.3 105.4 511.9 105.2 510.6 103.4 509.8 100.1 510.5 96.7 511.9 95.4 513.2 95.2M562.8 144.9 564.5 144.4 565.1 144.9 564.5 146 563.1 145.7 562.8 144.9"/>
<g transform="translate(455.7 18.1) scale(1.0043 1.0014)">
<use href="#coast"/>
</g>
<rect x="455.7" y="18.1" width="187.8" height="139.2" fill="none" stroke="#7a7a7a" stroke-width="1"/>
<path d="M472.8 18.1v2M472.8 157.3v-2M506.9 18.1v2M506.9 157.3v-2M541.1 18.1v2M541.1 157.3v-2M575.2 18.1v2M575.2 157.3v-2M609.4 18.1v2M609.4 157.3v-2M455.7 117.5h2M643.5 117.5h-2M455.7 77.8h2M643.5 77.8h-2M455.7 38.0h2M643.5 38.0h-2" stroke="#7a7a7a" stroke-width="1" fill="none"/>
<text x="460" y="33" font-size="12.9" font-weight="bold" fill="#111">(k) Cluster I</text>
<path fill="#d2dde0" shape-rendering="crispEdges" d="M537 198h9v6h-9zM537 208h5v6h-5zM524 213h5v6h-5zM533 218h5v6h-5zM511 223h5v6h-5zM520 223h5v6h-5zM528 223h14v6h-14zM524 228h5v6h-5zM533 228h5v6h-5zM511 233h5v6h-5zM520 238h9v6h-9zM533 243h5v6h-5zM507 248h5v5h-5zM511 252h5v6h-5zM524 257h5v6h-5zM533 257h5v6h-5zM524 262h10v6h-10zM507 267h5v6h-5zM515 267h6v6h-6zM533 267h9v6h-9zM490 272h5v6h-5zM498 272h6v6h-6zM490 277h5v6h-5zM524 287h5v6h-5z"/><path fill="#e6d4cc" shape-rendering="crispEdges" d="M533 203h5v6h-5zM524 218h5v6h-5zM503 238h5v6h-5zM545 243h6v6h-6zM554 248h5v5h-5zM498 252h6v6h-6zM541 252h10v6h-10zM554 257h5v6h-5zM558 267h5v6h-5zM567 267h5v6h-5zM584 267h5v6h-5zM554 272h5v6h-5zM579 272h14v6h-14zM545 277h6v6h-6zM584 277h5v6h-5zM592 277h6v6h-6zM545 287h6v6h-6zM579 287h6v6h-6z"/><path fill="#dfe3e3" shape-rendering="crispEdges" d="M537 203h5v6h-5zM528 208h6v6h-6zM545 208h6v6h-6zM528 218h6v6h-6zM541 218h10v6h-10zM503 233h5v6h-5zM533 233h13v6h-13zM507 238h5v6h-5zM528 238h6v6h-6zM537 238h9v6h-9zM507 243h5v6h-5zM528 243h6v6h-6zM537 243h5v6h-5zM503 252h5v6h-5zM507 257h5v6h-5zM528 257h6v6h-6zM490 262h5v6h-5zM520 262h5v6h-5zM541 262h14v6h-14zM494 267h5v6h-5zM503 267h5v6h-5zM588 267h5v6h-5zM494 272h5v6h-5zM597 272h5v6h-5zM537 277h5v6h-5zM533 282h5v6h-5zM592 282h6v6h-6zM515 287h6v6h-6zM533 287h9v6h-9z"/><path fill="#b4cfd8" shape-rendering="crispEdges" d="M541 203h5v6h-5zM537 218h5v6h-5zM545 223h6v6h-6zM511 228h5v6h-5zM528 228h6v6h-6zM515 233h6v6h-6zM511 238h10v6h-10zM511 243h10v6h-10zM524 248h5v5h-5zM515 252h6v6h-6zM524 252h5v6h-5zM533 252h5v6h-5zM533 262h5v6h-5zM520 267h5v6h-5zM528 267h6v6h-6zM507 272h5v6h-5zM524 272h5v6h-5zM511 277h10v6h-10zM524 277h5v6h-5zM520 282h5v6h-5zM588 282h5v6h-5zM511 287h5v6h-5zM520 287h5v6h-5z"/><path fill="#e0bfb3" shape-rendering="crispEdges" d="M520 208h5v6h-5zM515 218h10v6h-10zM498 228h14v6h-14zM503 243h5v6h-5zM550 243h9v6h-9zM550 252h5v6h-5zM558 252h5v6h-5zM558 262h5v6h-5zM545 272h10v6h-10zM562 272h6v6h-6zM571 272h5v6h-5zM550 277h5v6h-5zM579 277h6v6h-6zM545 282h6v6h-6zM575 287h5v6h-5z"/><path fill="#c4d8dd" shape-rendering="crispEdges" d="M524 208h5v6h-5zM528 213h6v6h-6zM545 213h6v6h-6zM520 233h14v6h-14zM520 243h9v6h-9zM528 248h10v5h-10zM507 252h5v6h-5zM528 252h6v6h-6zM520 257h5v6h-5zM537 262h5v6h-5zM567 262h5v6h-5zM490 267h5v6h-5zM511 267h5v6h-5zM592 267h6v6h-6zM511 272h5v6h-5zM533 272h9v6h-9zM498 277h6v6h-6zM528 277h10v6h-10zM494 282h10v6h-10zM524 282h10v6h-10z"/><path fill="#dcb4a6" shape-rendering="crispEdges" d="M533 208h5v6h-5zM520 213h5v6h-5zM507 223h5v6h-5zM498 243h6v6h-6zM558 248h5v5h-5zM562 267h6v6h-6zM575 277h5v6h-5zM550 287h5v6h-5z"/><path fill="#6ea6c2" shape-rendering="crispEdges" d="M541 208h5v6h-5zM511 282h5v6h-5z"/><path fill="#ece8e6" shape-rendering="crispEdges" d="M533 213h5v6h-5zM541 223h5v6h-5zM541 228h5v6h-5zM507 233h5v6h-5zM533 238h5v6h-5zM541 243h5v6h-5zM498 248h6v5h-6zM537 248h5v5h-5zM494 257h5v6h-5zM503 257h5v6h-5zM511 257h10v6h-10zM537 257h5v6h-5zM545 257h10v6h-10zM562 257h6v6h-6zM494 262h5v6h-5zM503 262h13v6h-13zM562 262h6v6h-6zM498 267h6v6h-6zM541 267h10v6h-10zM571 267h9v6h-9zM575 272h5v6h-5zM592 272h6v6h-6zM494 277h5v6h-5zM541 277h5v6h-5zM597 277h5v6h-5zM537 282h5v6h-5zM584 282h5v6h-5zM597 282h5v6h-5zM541 287h5v6h-5z"/><path fill="#a3c5d1" shape-rendering="crispEdges" d="M537 213h5v6h-5zM515 223h6v6h-6zM520 228h5v6h-5zM550 233h5v6h-5zM511 248h5v5h-5zM520 252h5v6h-5zM524 267h5v6h-5zM503 272h5v6h-5zM515 272h10v6h-10zM528 272h6v6h-6zM515 282h6v6h-6zM498 287h10v6h-10zM588 287h5v6h-5z"/><path fill="#5c9cbe" shape-rendering="crispEdges" d="M541 213h5v6h-5zM550 228h5v6h-5z"/><path fill="#e9ded9" shape-rendering="crispEdges" d="M524 223h5v6h-5zM537 228h5v6h-5zM545 238h6v6h-6zM503 248h5v5h-5zM541 248h10v5h-10zM494 252h5v6h-5zM537 252h5v6h-5zM541 257h5v6h-5zM498 262h6v6h-6zM515 262h6v6h-6zM550 267h9v6h-9zM579 267h6v6h-6zM541 272h5v6h-5zM588 277h5v6h-5zM541 282h5v6h-5zM584 287h5v6h-5z"/><path fill="#92bbca" shape-rendering="crispEdges" d="M515 228h6v6h-6zM545 233h6v6h-6zM503 277h9v6h-9zM520 277h5v6h-5zM503 282h5v6h-5zM507 287h5v6h-5z"/><path fill="#80b1c5" shape-rendering="crispEdges" d="M545 228h6v6h-6zM515 248h10v5h-10zM507 282h5v6h-5z"/><path fill="#e3c9bf" shape-rendering="crispEdges" d="M498 233h6v6h-6zM550 238h5v6h-5zM550 248h5v5h-5zM554 252h5v6h-5zM498 257h6v6h-6zM554 262h5v6h-5zM558 272h5v6h-5zM567 272h5v6h-5zM579 282h6v6h-6zM571 287h5v6h-5z"/><path fill="#d59e8e" shape-rendering="crispEdges" d="M498 238h6v6h-6zM554 238h5v6h-5zM558 277h14v6h-14zM550 282h5v6h-5zM575 282h5v6h-5z"/><path fill="#d8a99a" shape-rendering="crispEdges" d="M558 257h5v6h-5zM554 277h5v6h-5z"/><path fill="#d19380" shape-rendering="crispEdges" d="M571 277h5v6h-5zM554 282h5v6h-5zM571 282h5v6h-5z"/><path fill="#cd8773" shape-rendering="crispEdges" d="M558 282h5v6h-5z"/><path fill="#c97c66" shape-rendering="crispEdges" d="M562 282h10v6h-10z"/><path fill="none" stroke="#3a2a2a" stroke-width="0.45" stroke-opacity="0.6" d="M543.2 211.3 541.8 213.7 543.2 214.3 543.6 213.7 543.2 211.3M550.3 229.9 549.5 230.2 550.3 231.8 550.8 230.2 550.3 229.9M509.1 284.3 508 284.7 507.5 286.3 509.1 287.4 511.2 286.3 510.6 284.7 509.1 284.3M541.8 203.2 540.4 205.7 536.9 215.3 537.2 220.3 537.5 221.1 538.9 221.6 541.8 219.6 546 218 547.9 215.3 547.9 213.7 546.9 210.4 544.6 204.7 543.2 203 541.8 203.2M514.7 224.7 513.3 226.9 513 228.5 513.3 235.1 510.9 240.1 510.9 245 509.4 253.3 509.6 254.9 513.3 255.6 521.9 260.5 523.3 260.4 529 256.9 530.4 256.8 533.2 257.6 534.7 256.9 535 253.3 533.3 250 527.5 247.6 522.8 243.4 521.6 241.7 521.4 240.1 521.9 238.3 526.1 233.5 526.1 232.6 526.4 233.5 529 234.4 530.4 233.9 531.7 231.8 531.8 229.6 530.4 228.4 526.1 231.7 524 228.5 520.5 225.2 517.6 224.2 514.7 224.7M547.5 224.2 546 225.5 545.5 226.9 544.6 233.5 544.8 235.1 546 236.7 547.5 237.1 550.3 236.6 552.8 235.1 554.1 233.5 554.6 230.2 554.2 228.5 553.2 227.1 547.5 224.2M533.2 264.2 531.8 266.1 530.4 266.8 524.7 267.5 517.6 271.1 511.9 271.5 504.8 273.3 502 274.7 500.1 278.1 499.1 282.6 497.6 286.3 498.7 291.3 501.2 292.9 507.6 293.7 511.9 292.9 517.6 289.6 521.9 291.1 523.3 290.3 526.1 286.4 530.4 284.6 534.7 280.4 536.1 278.1 536.7 276.4 536.3 274.7 534.7 273.2 533.5 269.8 534.6 268.1 537 266.5 536.8 264.8 534.7 263.3 533.2 264.2M590.1 287.9 590.1 289.8 591.6 290.4 591.9 289.6 591.6 287.3 590.1 287.9M520.2 212 520.4 211.2 521.9 212.1 522.7 218.6 521.9 219.5 520.4 219.7 518.1 218.6 519.6 215.3 520.2 212M506.9 225.2 507.6 224.5 508.7 225.2 509.1 226.6 508.8 228.5 507.6 230.7 503.4 230.9 500.5 232.9 499.1 232.1 498.9 230.2 500.5 228.5 503.4 228.4 504.8 227.9 506.9 225.2M498.5 236.8 499.1 235.8 500.5 235.8 503.3 240.1 504.4 243.4 504.4 245 503.4 246.7 500.5 247.3 499.1 246.7 498 245 497.3 240.1 498.5 236.8M554.3 238.4 556 237.7 557.7 238.4 558.4 240.1 557.7 246.7 560.4 248.3 561.8 250 562.6 259.9 562.1 266.5 563.1 268 566.1 269.8 568.8 273.1 573.1 274.4 577.3 277.1 583 277.6 584.5 279.6 584.3 281.4 582.1 288 581.2 289.6 578.8 291.6 575.9 292.1 568.8 289.9 557.4 289.4 556 289.6 551.7 292.8 550.3 292.6 548.9 291.7 547.3 289.6 546.2 286.3 546.2 284.7 547.3 281.4 547.4 279.7 546.3 276.4 547 274.7 548.9 273.8 551.7 273.3 556 275.3 557.4 275 559.6 273.1 560.3 271.4 560.3 269.6 559.4 268.1 557.4 266.3 556.7 264.8 555.5 258.2 554.6 257 551.7 256.1 550.2 254.9 550.3 253.3 552.1 250 550.2 246.7 549.8 245 550.2 243.4 552.3 240.1 554.3 238.4M569.7 279.7 573.1 279.7 575.5 281.4 576.6 283 577.1 284.7 576.1 286.3 571.7 287.1 563.1 287 558.4 286.3 554.9 284.7 558.2 281.4 560.3 280.3 569.7 279.7"/>
<g transform="translate(455.7 173.2) scale(1.0043 0.9978)">
<use href="#coast"/>
</g>
<rect x="455.7" y="173.2" width="187.8" height="138.7" fill="none" stroke="#7a7a7a" stroke-width="1"/>
<path d="M472.8 173.2v2M472.8 311.9v-2M506.9 173.2v2M506.9 311.9v-2M541.1 173.2v2M541.1 311.9v-2M575.2 173.2v2M575.2 311.9v-2M609.4 173.2v2M609.4 311.9v-2M455.7 272.3h2M643.5 272.3h-2M455.7 232.6h2M643.5 232.6h-2M455.7 193.0h2M643.5 193.0h-2" stroke="#7a7a7a" stroke-width="1" fill="none"/>
<text x="460" y="188.1" font-size="12.9" font-weight="bold" fill="#111">(l) Cluster II</text>
<path fill="#c97c66" shape-rendering="crispEdges" d="M541 358h5v6h-5zM554 358h5v6h-5zM541 363h5v6h-5zM550 363h5v6h-5zM545 427h6v6h-6z"/><path fill="#c5705b" shape-rendering="crispEdges" d="M545 358h6v6h-6zM558 358h5v6h-5zM571 378h9v6h-9zM550 442h5v6h-5z"/><path fill="#cd8773" shape-rendering="crispEdges" d="M550 358h5v6h-5zM562 358h6v6h-6zM554 363h9v6h-9zM571 383h9v6h-9zM575 388h5v6h-5zM558 412h5v6h-5zM558 417h5v6h-5zM550 422h5v6h-5zM562 422h6v6h-6zM550 427h5v6h-5zM550 447h5v6h-5z"/><path fill="#dfe3e3" shape-rendering="crispEdges" d="M567 358h5v6h-5zM528 368h6v6h-6zM515 373h6v6h-6zM520 378h9v6h-9zM541 378h5v6h-5zM537 383h5v6h-5zM562 383h6v6h-6zM537 388h9v6h-9zM533 393h5v5h-5zM541 393h5v5h-5zM507 397h5v6h-5zM528 397h6v6h-6zM545 397h10v6h-10zM562 397h6v6h-6zM597 397h5v6h-5zM507 402h5v6h-5zM558 402h5v6h-5zM575 402h5v6h-5zM601 407h5v6h-5zM515 412h6v6h-6zM541 412h5v6h-5zM571 412h5v6h-5zM592 412h14v6h-14zM609 412h6v6h-6zM592 417h10v6h-10zM614 417h5v6h-5zM597 422h5v6h-5zM520 427h9v6h-9zM533 427h5v6h-5zM584 427h5v6h-5zM597 427h5v6h-5zM533 432h5v6h-5zM579 432h6v6h-6zM533 437h9v6h-9zM562 437h10v6h-10zM584 437h5v6h-5zM562 442h10v6h-10zM584 442h5v6h-5zM524 447h5v6h-5zM562 447h10v6h-10zM584 447h5v6h-5z"/><path fill="#e9ded9" shape-rendering="crispEdges" d="M528 363h6v6h-6zM524 373h5v6h-5zM541 373h5v6h-5zM554 373h5v6h-5zM567 378h5v6h-5zM541 383h5v6h-5zM567 397h5v6h-5zM579 397h6v6h-6zM562 402h6v6h-6zM571 402h5v6h-5zM550 407h5v6h-5zM567 407h5v6h-5zM507 412h5v6h-5zM550 412h5v6h-5zM567 412h5v6h-5zM605 412h5v6h-5zM511 417h10v6h-10zM537 422h5v6h-5zM614 422h5v6h-5zM592 427h6v6h-6zM541 432h5v6h-5zM554 432h9v6h-9zM584 432h5v6h-5zM541 437h5v6h-5zM541 442h5v6h-5zM558 442h5v6h-5z"/><path fill="#e6d4cc" shape-rendering="crispEdges" d="M533 363h5v6h-5zM541 368h5v6h-5zM550 373h5v6h-5zM567 393h5v5h-5zM571 397h5v6h-5zM554 407h5v6h-5zM541 417h5v6h-5zM605 422h5v6h-5zM567 427h5v6h-5zM588 427h5v6h-5zM609 427h6v6h-6zM520 432h9v6h-9zM588 432h5v6h-5zM524 437h5v6h-5zM554 437h5v6h-5zM554 447h5v6h-5z"/><path fill="#e0bfb3" shape-rendering="crispEdges" d="M537 363h5v6h-5zM571 373h5v6h-5zM571 393h5v5h-5zM507 417h5v6h-5zM545 417h10v6h-10zM609 417h6v6h-6zM507 422h5v6h-5zM554 427h9v6h-9zM511 432h5v6h-5zM515 437h10v6h-10z"/><path fill="#b64c3d" shape-rendering="crispEdges" d="M545 363h6v6h-6z"/><path fill="#d8a99a" shape-rendering="crispEdges" d="M562 363h6v6h-6zM554 368h5v6h-5zM571 388h5v6h-5zM579 388h6v6h-6zM575 393h5v5h-5zM503 417h5v6h-5zM562 417h6v6h-6zM541 422h5v6h-5zM554 422h5v6h-5z"/><path fill="#80b1c5" shape-rendering="crispEdges" d="M567 363h5v6h-5zM537 373h5v6h-5zM537 378h5v6h-5zM511 383h5v6h-5zM515 388h10v6h-10zM520 393h5v5h-5zM515 397h6v6h-6zM515 402h10v6h-10zM592 402h6v6h-6zM533 407h5v6h-5zM579 407h6v6h-6zM528 442h6v6h-6z"/><path fill="#d2dde0" shape-rendering="crispEdges" d="M520 368h5v6h-5zM545 378h6v6h-6zM554 378h5v6h-5zM545 383h6v6h-6zM533 388h5v6h-5zM545 388h10v6h-10zM528 393h6v5h-6zM537 393h5v5h-5zM550 402h9v6h-9zM511 407h5v6h-5zM575 407h5v6h-5zM597 407h5v6h-5zM537 412h5v6h-5zM545 412h6v6h-6zM575 412h5v6h-5zM520 417h5v6h-5zM537 417h5v6h-5zM588 422h5v6h-5zM575 432h5v6h-5zM528 437h6v6h-6zM588 437h5v6h-5zM524 442h5v6h-5zM571 447h5v6h-5z"/><path fill="#ece8e6" shape-rendering="crispEdges" d="M524 368h5v6h-5zM520 373h5v6h-5zM545 373h6v6h-6zM558 373h5v6h-5zM558 378h5v6h-5zM503 393h5v5h-5zM545 393h10v5h-10zM584 393h5v5h-5zM503 402h5v6h-5zM601 402h5v6h-5zM503 407h5v6h-5zM571 407h5v6h-5zM511 412h5v6h-5zM567 417h5v6h-5zM601 417h5v6h-5zM511 422h10v6h-10zM533 422h5v6h-5zM601 422h5v6h-5zM515 427h6v6h-6zM537 427h5v6h-5zM571 427h5v6h-5zM528 432h6v6h-6zM537 432h5v6h-5zM562 432h14v6h-14zM558 437h5v6h-5zM520 442h5v6h-5zM541 447h5v6h-5zM558 447h5v6h-5z"/><path fill="#b4cfd8" shape-rendering="crispEdges" d="M533 368h9v6h-9zM562 373h10v6h-10zM515 378h6v6h-6zM515 383h10v6h-10zM533 383h5v6h-5zM507 388h5v6h-5zM524 388h10v6h-10zM558 388h5v6h-5zM524 393h5v5h-5zM558 397h5v6h-5zM511 402h5v6h-5zM524 402h10v6h-10zM537 402h5v6h-5zM541 407h10v6h-10zM592 407h6v6h-6zM524 412h5v6h-5zM533 412h5v6h-5zM533 417h5v6h-5zM571 417h5v6h-5zM584 417h5v6h-5zM524 422h5v6h-5zM575 437h5v6h-5zM571 442h5v6h-5zM588 442h5v6h-5zM528 447h6v6h-6zM537 447h5v6h-5zM575 447h10v6h-10zM588 447h5v6h-5z"/><path fill="#e3c9bf" shape-rendering="crispEdges" d="M545 368h6v6h-6zM558 368h5v6h-5zM567 383h5v6h-5zM567 388h5v6h-5zM503 397h5v6h-5zM567 402h5v6h-5zM558 407h10v6h-10zM503 412h5v6h-5zM605 417h5v6h-5zM567 422h5v6h-5zM609 422h6v6h-6zM507 427h9v6h-9zM562 427h6v6h-6zM545 432h10v6h-10zM545 437h6v6h-6zM545 447h6v6h-6z"/><path fill="#dcb4a6" shape-rendering="crispEdges" d="M550 368h5v6h-5zM579 383h6v6h-6zM579 393h6v5h-6zM575 397h5v6h-5zM554 412h5v6h-5zM562 412h6v6h-6zM541 427h5v6h-5zM515 432h6v6h-6zM550 437h5v6h-5zM554 442h5v6h-5z"/><path fill="#c4d8dd" shape-rendering="crispEdges" d="M562 368h6v6h-6zM550 378h5v6h-5zM562 378h6v6h-6zM524 383h5v6h-5zM550 383h5v6h-5zM558 383h5v6h-5zM554 388h5v6h-5zM562 388h6v6h-6zM507 393h5v5h-5zM554 393h5v5h-5zM562 393h6v5h-6zM524 397h5v6h-5zM533 397h13v6h-13zM592 397h6v6h-6zM597 402h5v6h-5zM507 407h5v6h-5zM537 407h5v6h-5zM528 412h6v6h-6zM579 412h10v6h-10zM524 417h10v6h-10zM588 417h5v6h-5zM520 422h5v6h-5zM528 422h6v6h-6zM584 422h5v6h-5zM592 422h6v6h-6zM528 427h6v6h-6zM579 427h6v6h-6zM571 437h5v6h-5zM537 442h5v6h-5z"/><path fill="#307fb7" shape-rendering="crispEdges" d="M567 368h5v6h-5z"/><path fill="#5c9cbe" shape-rendering="crispEdges" d="M571 368h5v6h-5zM533 373h5v6h-5zM511 378h5v6h-5zM588 402h5v6h-5zM588 407h5v6h-5z"/><path fill="#a3c5d1" shape-rendering="crispEdges" d="M528 373h6v6h-6zM528 383h6v6h-6zM554 383h5v6h-5zM503 388h5v6h-5zM558 393h5v5h-5zM511 397h5v6h-5zM520 397h5v6h-5zM554 397h5v6h-5zM584 397h5v6h-5zM533 402h5v6h-5zM541 402h10v6h-10zM579 402h6v6h-6zM515 407h6v6h-6zM524 407h10v6h-10zM520 412h5v6h-5zM588 412h5v6h-5zM571 422h5v6h-5zM579 437h6v6h-6z"/><path fill="#92bbca" shape-rendering="crispEdges" d="M528 378h6v6h-6zM507 383h5v6h-5zM511 388h5v6h-5zM588 397h5v6h-5zM520 407h5v6h-5zM575 427h5v6h-5zM533 442h5v6h-5zM575 442h10v6h-10zM533 447h5v6h-5z"/><path fill="#6ea6c2" shape-rendering="crispEdges" d="M533 378h5v6h-5zM511 393h5v5h-5zM584 407h5v6h-5zM575 417h10v6h-10zM579 422h6v6h-6z"/><path fill="#4a92bb" shape-rendering="crispEdges" d="M515 393h6v5h-6zM584 402h5v6h-5zM575 422h5v6h-5z"/><path fill="#d19380" shape-rendering="crispEdges" d="M554 417h5v6h-5zM545 422h6v6h-6z"/><path fill="#d59e8e" shape-rendering="crispEdges" d="M503 422h5v6h-5zM558 422h5v6h-5zM545 442h6v6h-6z"/><path fill="none" stroke="#3a2a2a" stroke-width="0.45" stroke-opacity="0.6" d="M568.8 366.7 567.6 368.7 567.2 370.3 568.8 372.1 572.3 370.3 572.6 368.7 570.2 366.4 568.8 366.7M534.7 373.5 532.8 375.3 532.4 376.9 532.5 378.5 533.2 379.9 534.7 380.3 537.5 378.7 538.1 376.9 537.5 374.2 536.1 373.4 534.7 373.5M513.3 381 511.9 382.8 511.9 385.2 513.3 384.6 513.7 381.8 513.3 381M514.7 389.6 513.3 391.6 512.6 395 513.3 396.8 514.7 398.6 516.2 399.8 517.6 400.2 520.3 396.6 521 395 521.1 391.7 520.4 390.2 519 389.4 516.2 389.1 514.7 389.6M585.9 403 584.2 404.8 583.5 406.5 583.1 408.1 583.4 409.8 586.2 411.4 590.1 412.5 591.6 411.7 592.8 409.8 594 406.5 593.9 404.8 592.8 403.2 590.1 401.6 588.7 401.6 585.9 403M580.2 419.4 577.3 420.5 575.9 422.9 575.8 424.6 576.5 426.2 577.3 427.4 578.8 427.8 581.5 426.2 582.9 422.9 582.7 421.3 581.6 419.7 580.2 419.4M568.8 363 563.9 372 563.5 375.3 564.5 377.6 566 377.4 571 373.6 574.1 372 575.8 370.3 575.9 368.7 575.2 367 570.2 362.4 568.8 363M533.2 369.6 530.4 371.5 529 373.4 527.1 380.2 526.1 382.3 524.7 383 521.9 382.2 519 380.3 516.2 377 513.3 376.3 511.9 376.7 510.5 377.9 506.6 383.5 503.4 388.4 502.9 390.1 503.8 391.7 506.5 393.3 507.7 395 509.7 399.9 511.1 408.1 517.6 413.7 522.7 419.6 523.3 421.3 522.9 424.6 524.1 426.2 529 427.8 530.4 426.8 531.8 422.7 536.2 419.6 538.9 413.9 540.4 412.9 546 412.4 547.5 411.5 550 404.8 548.9 402.7 541.8 398.2 538.9 397.1 530.4 401.7 529 401.6 527.4 399.9 527.6 396.6 529 393.8 534.7 388.7 536.9 385.1 540.3 381.8 541.3 380.2 541.5 376.9 541 373.6 539.4 370.3 537.5 369.3 536.1 369.1 533.2 369.6M550.3 381 549.7 381.8 550 385.1 554.4 390.1 555.7 393.3 555.7 395 554.1 399.9 554.3 401.6 556 403.3 558.8 402.7 561.7 400.9 563.8 396.6 564.2 393.3 563.2 388.4 560.7 385.1 556 381.9 551.7 380.4 550.3 381M587.3 397.8 585.9 398.8 580.2 404.8 578.8 408.1 578.4 413.1 577.7 414.7 574.5 416.7 572.5 419.6 572.3 422.9 572.9 426.2 575.9 431.8 577.3 433.3 578.8 433.6 580.2 432.8 584.5 428.9 587.3 424.7 591.6 420 594.2 414.7 598.1 409.8 599.7 406.5 599.8 404.8 599.3 403.2 595.8 399.7 591.6 397.4 588.7 397.4 587.3 397.8M574.5 439.3 572.4 441 571.8 442.7 571.7 445.9 573 449.2 574.8 450.9 577.3 451.9 580.2 452.1 583 451.1 584.5 449.2 585.6 445.9 585.2 442.7 584.5 441 583 439.2 580.2 437.9 577.3 438.1 574.5 439.3M530.4 441.8 529 442.8 527 445.9 527.5 449.2 528.6 450.9 530.4 452.2 533.2 453.1 537.5 452.5 539.3 450.9 539.6 449.2 539 445.9 538 444.3 534.7 442.4 531.8 441.7 530.4 441.8M590.1 444 588.7 445.9 588.8 447.6 590.1 449.8 591 449.2 591.7 447.6 591.6 445.4 590.1 444M545.1 355.5 560.3 355.5 564.5 356 566.3 357.2 567 358.8 566.9 360.5 565.8 363.7 564.5 365.9 558.8 371.2 556 372.7 551.7 373.1 546 371 543.2 369.4 538.7 365.4 537.8 363.7 541 357.2 543.2 355.8 545.1 355.5M573.1 375.3 575.9 375.1 579.7 376.9 583.5 383.5 584.4 386.8 584.5 391.7 583.6 395 580.2 399.1 577.3 401 575.9 400.8 574.7 399.9 571.7 396.2 570.2 393.2 569.2 388.4 568.9 385.1 569.7 380.2 571.3 376.9 573.1 375.3M560.1 409.8 564.5 409.8 566.3 411.4 567.3 414.7 567.6 419.6 568.6 424.6 568.3 427.9 567.4 429.5 566 430.7 557.4 432.8 555.1 434.4 553.9 436.1 554.2 437.7 558.1 444.3 558.2 445.9 554.4 452.5 553.2 453.4 550.3 453.6 548.2 452.5 546.6 450.9 545 447.6 544.7 444.3 546.5 437.7 545.8 436.1 543.2 433.9 541.8 431.8 540.8 427.9 541.1 424.6 543.6 421.3 546 419.9 551.2 418 556 411.7 560.1 409.8M503.5 416.4 504.8 416 506.2 416.7 509.3 419.6 511 429.5 512.2 431.2 518.8 434.4 520.8 436.1 522.1 437.7 522.5 439.4 521.5 441 519 441.8 516.5 441 512.7 436.1 510.5 431.4 503.4 427.8 502 426.2 501.5 424.6 501.6 421.3 502.4 418 503.5 416.4M610.1 421.3 611.5 420.7 612.2 421.3 612.6 422.9 611.5 424.3 610.1 421.3M542.9 358.8 546 357.8 551.7 358.3 560.3 357.9 563.8 358.8 564.6 360.5 563.3 363.7 560.3 366.1 556 367.9 548.9 368.1 544.6 367.2 542 365.4 541.2 363.7 541.3 362.1 542.9 358.8M572.8 378.5 574.5 377.5 575.9 377.6 577.8 378.5 579.1 380.2 581 388.4 580.3 391.7 578.8 393 577.3 393 575.9 391.9 572.9 386.8 571.8 381.8 572.8 378.5M558.7 414.7 560.3 413.9 561.7 414.2 563.1 416.1 564.8 422.9 565 424.6 564.5 425.5 563.1 426.1 555.4 422.9 555.7 419.6 558.7 414.7M546.6 424.6 548.9 423.6 551.7 423.4 553.2 423.4 554.4 424.6 553.4 429.5 552.2 431.2 548.9 432.1 546 431.2 545 429.5 544.8 427.9 545.2 426.2 546.6 424.6M551.2 442.7 553.2 443.4 554.3 445.9 553.2 449.2 551.7 450.3 549.8 449.2 548.4 445.9 548.9 444.2 550.3 442.9 551.2 442.7"/>
<g transform="translate(455.7 328.4) scale(1.0043 0.9935)">
<use href="#coast"/>
</g>
<rect x="455.7" y="328.4" width="187.8" height="138.1" fill="none" stroke="#7a7a7a" stroke-width="1"/>
<path d="M472.8 328.4v2M472.8 466.5v-2M506.9 328.4v2M506.9 466.5v-2M541.1 328.4v2M541.1 466.5v-2M575.2 328.4v2M575.2 466.5v-2M609.4 328.4v2M609.4 466.5v-2M455.7 427.0h2M643.5 427.0h-2M455.7 387.6h2M643.5 387.6h-2M455.7 348.1h2M643.5 348.1h-2" stroke="#7a7a7a" stroke-width="1" fill="none"/>
<text x="460" y="343.3" font-size="12.9" font-weight="bold" fill="#111">(m) Cluster III</text>
<path fill="#ece8e6" shape-rendering="crispEdges" d="M584 503h9v6h-9zM626 508h6v6h-6zM558 513h5v6h-5zM571 518h5v6h-5zM584 518h9v6h-9zM541 523h10v6h-10zM571 523h5v6h-5zM601 523h5v6h-5zM614 523h5v6h-5zM537 528h5v5h-5zM562 528h6v5h-6zM626 528h10v5h-10zM554 532h5v6h-5zM631 532h5v6h-5zM558 537h10v6h-10zM592 537h6v6h-6zM571 542h5v6h-5zM533 552h13v6h-13zM592 552h6v6h-6zM533 557h5v6h-5zM528 562h6v6h-6zM592 562h6v6h-6zM507 567h5v6h-5zM533 567h5v6h-5zM597 567h5v6h-5zM626 567h6v6h-6zM507 572h9v6h-9zM592 572h6v6h-6zM601 572h5v6h-5zM503 577h5v6h-5zM588 577h5v6h-5zM537 582h5v6h-5zM575 582h5v6h-5zM597 582h5v6h-5zM528 587h6v6h-6zM545 587h6v6h-6zM567 587h5v6h-5zM575 587h5v6h-5zM515 597h6v6h-6zM524 597h5v6h-5zM558 607h5v6h-5z"/><path fill="#dcb4a6" shape-rendering="crispEdges" d="M592 503h6v6h-6zM601 513h5v6h-5zM554 523h9v6h-9zM618 528h5v5h-5zM528 547h6v6h-6zM558 547h5v6h-5zM524 552h5v6h-5zM558 552h5v6h-5zM579 552h6v6h-6zM511 557h5v6h-5zM550 557h5v6h-5zM558 557h5v6h-5zM520 562h5v6h-5zM554 562h5v6h-5zM515 567h6v6h-6zM541 567h5v6h-5zM558 567h5v6h-5zM567 567h5v6h-5zM609 572h6v6h-6zM562 577h6v6h-6zM545 582h6v6h-6zM614 582h5v6h-5zM601 587h5v6h-5z"/><path fill="#d2dde0" shape-rendering="crispEdges" d="M571 508h5v6h-5zM575 523h5v6h-5zM626 523h6v6h-6zM609 528h6v5h-6zM545 532h6v6h-6zM554 537h5v6h-5zM550 542h5v6h-5zM592 542h6v6h-6zM597 552h5v6h-5zM592 557h10v6h-10zM533 562h5v6h-5zM614 562h5v6h-5zM622 572h5v6h-5zM507 577h5v6h-5zM592 577h6v6h-6zM507 582h5v6h-5zM511 587h5v6h-5zM550 592h5v6h-5zM562 592h6v6h-6zM588 592h5v6h-5zM545 597h6v6h-6zM567 597h5v6h-5zM562 602h6v6h-6z"/><path fill="#e9ded9" shape-rendering="crispEdges" d="M575 508h5v6h-5zM635 508h5v6h-5zM562 513h6v6h-6zM550 518h5v6h-5zM567 518h5v6h-5zM592 518h6v6h-6zM622 523h5v6h-5zM545 528h6v5h-6zM622 528h5v5h-5zM626 532h6v6h-6zM541 537h5v6h-5zM554 542h5v6h-5zM575 542h18v6h-18zM550 547h5v6h-5zM588 547h5v6h-5zM588 552h5v6h-5zM528 557h6v6h-6zM588 557h5v6h-5zM609 557h6v6h-6zM605 562h5v6h-5zM520 567h14v6h-14zM592 567h6v6h-6zM605 567h5v6h-5zM537 572h5v6h-5zM550 572h5v6h-5zM626 572h6v6h-6zM533 577h9v6h-9zM554 577h5v6h-5zM618 577h5v6h-5zM554 582h9v6h-9zM592 582h6v6h-6zM579 587h6v6h-6zM597 587h5v6h-5zM592 592h10v6h-10zM528 597h6v6h-6zM537 602h5v6h-5z"/><path fill="#e6d4cc" shape-rendering="crispEdges" d="M579 508h6v6h-6zM631 508h5v6h-5zM554 513h5v6h-5zM571 513h5v6h-5zM605 513h10v6h-10zM554 518h9v6h-9zM575 518h5v6h-5zM597 518h9v6h-9zM567 523h5v6h-5zM618 523h5v6h-5zM550 528h13v5h-13zM541 532h5v6h-5zM558 532h5v6h-5zM614 532h5v6h-5zM622 532h5v6h-5zM558 542h5v6h-5zM584 547h5v6h-5zM507 552h5v6h-5zM545 552h6v6h-6zM554 552h5v6h-5zM507 557h5v6h-5zM537 557h5v6h-5zM584 557h5v6h-5zM524 562h5v6h-5zM579 562h10v6h-10zM537 567h5v6h-5zM515 572h6v6h-6zM541 572h10v6h-10zM562 572h10v6h-10zM579 572h10v6h-10zM545 577h6v6h-6zM558 577h5v6h-5zM571 577h14v6h-14zM601 577h5v6h-5zM562 582h10v6h-10zM579 582h10v6h-10zM533 587h5v6h-5zM541 587h5v6h-5zM571 587h5v6h-5zM584 587h9v6h-9zM528 592h6v6h-6zM601 592h5v6h-5zM541 597h5v6h-5z"/><path fill="#e0bfb3" shape-rendering="crispEdges" d="M584 508h5v6h-5zM579 513h6v6h-6zM562 518h6v6h-6zM562 523h6v6h-6zM541 528h5v5h-5zM614 528h5v5h-5zM537 532h5v6h-5zM511 547h5v6h-5zM533 547h5v6h-5zM554 547h5v6h-5zM571 547h5v6h-5zM550 552h5v6h-5zM524 557h5v6h-5zM545 557h6v6h-6zM511 562h5v6h-5zM541 562h5v6h-5zM558 562h5v6h-5zM554 567h5v6h-5zM579 567h6v6h-6zM554 572h5v6h-5zM571 572h9v6h-9zM567 577h5v6h-5zM605 577h5v6h-5zM550 582h5v6h-5zM601 582h5v6h-5zM537 587h5v6h-5zM592 587h6v6h-6zM541 592h5v6h-5z"/><path fill="#c1654f" shape-rendering="crispEdges" d="M588 508h5v6h-5zM528 537h6v6h-6z"/><path fill="#941f32" shape-rendering="crispEdges" d="M592 508h6v6h-6z"/><path fill="#bc5944" shape-rendering="crispEdges" d="M597 508h5v6h-5zM533 537h5v6h-5zM524 542h10v6h-10zM567 557h5v6h-5z"/><path fill="#d59e8e" shape-rendering="crispEdges" d="M601 508h5v6h-5zM618 532h5v6h-5zM567 547h5v6h-5zM571 552h9v6h-9zM515 557h6v6h-6zM575 557h5v6h-5zM550 562h5v6h-5zM575 562h5v6h-5zM571 567h9v6h-9zM614 587h5v6h-5zM605 592h10v6h-10z"/><path fill="#dfe3e3" shape-rendering="crispEdges" d="M567 513h5v6h-5zM579 518h6v6h-6zM597 523h5v6h-5zM567 528h5v5h-5zM567 537h5v6h-5zM588 537h5v6h-5zM614 537h5v6h-5zM537 547h5v6h-5zM601 557h5v6h-5zM507 562h5v6h-5zM588 562h5v6h-5zM597 562h9v6h-9zM609 562h6v6h-6zM588 567h5v6h-5zM601 567h5v6h-5zM609 567h6v6h-6zM520 572h18v6h-18zM588 572h5v6h-5zM597 572h5v6h-5zM614 572h9v6h-9zM597 577h5v6h-5zM533 582h5v6h-5zM550 587h18v6h-18zM524 592h5v6h-5zM545 592h6v6h-6zM567 592h5v6h-5zM584 592h5v6h-5zM541 602h5v6h-5zM550 607h5v6h-5zM562 607h6v6h-6z"/><path fill="#e3c9bf" shape-rendering="crispEdges" d="M575 513h5v6h-5zM550 523h5v6h-5zM537 542h5v6h-5zM562 542h10v6h-10zM575 547h10v6h-10zM528 552h6v6h-6zM584 552h5v6h-5zM541 557h5v6h-5zM554 557h5v6h-5zM579 557h6v6h-6zM605 557h5v6h-5zM537 562h5v6h-5zM511 567h5v6h-5zM545 567h10v6h-10zM562 567h6v6h-6zM584 567h5v6h-5zM558 572h5v6h-5zM605 572h5v6h-5zM541 577h5v6h-5zM550 577h5v6h-5zM584 577h5v6h-5zM614 577h5v6h-5zM541 582h5v6h-5zM571 582h5v6h-5zM588 582h5v6h-5z"/><path fill="#d8a99a" shape-rendering="crispEdges" d="M584 513h5v6h-5zM524 547h5v6h-5zM562 547h6v6h-6zM511 552h5v6h-5zM520 557h5v6h-5zM515 562h6v6h-6zM545 562h6v6h-6zM562 562h6v6h-6zM609 577h6v6h-6zM533 597h9v6h-9z"/><path fill="#cd8773" shape-rendering="crispEdges" d="M588 513h5v6h-5zM537 537h5v6h-5zM520 547h5v6h-5zM567 562h5v6h-5z"/><path fill="#c5705b" shape-rendering="crispEdges" d="M592 513h6v6h-6zM520 542h5v6h-5zM533 542h5v6h-5zM515 552h6v6h-6zM571 557h5v6h-5zM609 587h6v6h-6z"/><path fill="#d19380" shape-rendering="crispEdges" d="M597 513h5v6h-5zM515 542h6v6h-6zM562 552h6v6h-6zM562 557h6v6h-6zM605 582h10v6h-10zM605 587h5v6h-5zM533 592h9v6h-9z"/><path fill="#c4d8dd" shape-rendering="crispEdges" d="M605 518h5v6h-5zM614 518h5v6h-5zM571 528h5v5h-5zM601 528h5v5h-5zM550 532h5v6h-5zM562 532h6v6h-6zM609 532h6v6h-6zM579 537h10v6h-10zM614 542h5v6h-5zM545 547h6v6h-6zM592 547h6v6h-6zM601 552h5v6h-5zM618 562h5v6h-5zM618 567h9v6h-9zM511 577h10v6h-10zM528 577h6v6h-6zM511 582h5v6h-5zM507 587h5v6h-5zM524 587h5v6h-5zM515 592h10v6h-10zM558 592h5v6h-5zM571 592h9v6h-9zM520 597h5v6h-5zM550 597h5v6h-5zM562 597h6v6h-6zM584 597h5v6h-5zM550 602h5v6h-5zM567 602h5v6h-5zM554 607h5v6h-5zM567 607h5v6h-5z"/><path fill="#b4cfd8" shape-rendering="crispEdges" d="M609 518h6v6h-6zM609 523h6v6h-6zM601 532h5v6h-5zM545 537h10v6h-10zM571 537h5v6h-5zM541 542h5v6h-5zM541 547h5v6h-5zM609 552h6v6h-6zM614 567h5v6h-5zM528 582h6v6h-6zM515 587h6v6h-6zM554 592h5v6h-5zM579 592h6v6h-6zM558 597h5v6h-5zM558 602h5v6h-5z"/><path fill="#a3c5d1" shape-rendering="crispEdges" d="M579 523h6v6h-6zM592 523h6v6h-6zM597 528h5v5h-5zM605 528h5v5h-5zM567 532h5v6h-5zM597 532h5v6h-5zM575 537h5v6h-5zM597 537h5v6h-5zM609 537h6v6h-6zM597 547h5v6h-5zM605 552h5v6h-5zM520 577h5v6h-5zM524 582h5v6h-5zM520 587h5v6h-5zM511 592h5v6h-5zM554 597h5v6h-5zM545 602h6v6h-6z"/><path fill="#80b1c5" shape-rendering="crispEdges" d="M584 523h5v6h-5zM575 528h5v5h-5zM571 532h5v6h-5zM545 542h6v6h-6zM609 542h6v6h-6zM520 582h5v6h-5zM554 602h5v6h-5z"/><path fill="#3d88b9" shape-rendering="crispEdges" d="M588 523h5v6h-5zM584 528h5v5h-5zM588 532h5v6h-5z"/><path fill="#92bbca" shape-rendering="crispEdges" d="M605 523h5v6h-5zM579 528h6v5h-6zM579 532h6v6h-6zM592 532h6v6h-6zM605 532h5v6h-5zM597 542h5v6h-5zM524 577h5v6h-5zM515 582h6v6h-6zM571 597h5v6h-5zM571 602h5v6h-5z"/><path fill="#195ca9" shape-rendering="crispEdges" d="M588 528h5v5h-5z"/><path fill="#4a92bb" shape-rendering="crispEdges" d="M592 528h6v5h-6zM601 537h9v6h-9zM601 547h5v6h-5z"/><path fill="#6ea6c2" shape-rendering="crispEdges" d="M575 532h5v6h-5zM575 597h10v6h-10z"/><path fill="#5c9cbe" shape-rendering="crispEdges" d="M584 532h5v6h-5zM609 547h6v6h-6zM575 602h10v6h-10z"/><path fill="#2375b5" shape-rendering="crispEdges" d="M601 542h5v6h-5zM605 547h5v6h-5z"/><path fill="#1e6cb1" shape-rendering="crispEdges" d="M605 542h5v6h-5z"/><path fill="#c97c66" shape-rendering="crispEdges" d="M515 547h6v6h-6zM520 552h5v6h-5zM567 552h5v6h-5zM571 562h5v6h-5z"/><path fill="none" stroke="#3a2a2a" stroke-width="0.45" stroke-opacity="0.6" d="M588.7 523.3 584.5 525.7 583.6 526.7 582 531.7 582.1 533.3 583.6 535 587.3 536.5 590.1 536.5 594 535 596.2 533.3 597.2 531.7 597.4 530 595.9 526.7 593 523.9 591.6 523.3 588.7 523.3M578.8 531.4 577.3 531.7 575.8 533.3 575.5 535 575.9 535.4 577.3 536.1 579.8 535 580.8 533.3 578.8 531.4M604.4 536.4 601.7 538.3 601 539.9 600 544.8 600.4 548.1 601.5 550.3 604.4 552.4 607.2 553.2 610.1 553 612.2 551.4 613.1 549.8 613.4 546.5 612.8 543.2 610.4 538.3 608.6 536.5 607.2 535.9 604.4 536.4M580.2 599.1 577.3 599.7 575.8 600.8 575 602.5 575.1 604.1 576.8 605.8 580.2 606.2 581.6 605.7 582.6 604.1 582.6 600.8 581.6 599.5 580.2 599.1M611.5 518.5 610.1 518.7 608 520.1 604.4 527.8 603 528.3 600.1 526.8 595.8 522.7 593 521.3 590.1 520.9 582.1 521.8 577.1 525.1 573.1 528.8 567.4 532.5 566.6 533.3 566.3 535 567.6 536.6 573.1 540.5 575.9 541.4 587.3 539.9 594.4 538.3 595.8 538.6 596.8 539.9 595.5 548.1 595.9 549.8 597 551.4 600.1 554.2 603 555.7 607.2 556.2 611.5 555.9 613.6 554.7 614.7 553.1 617.2 544.8 616.4 541.5 612.8 535 611.7 531.7 611.9 528.4 615.2 520.1 614.3 519 611.5 518.5M548.9 535.7 547.5 537.1 543.2 544.8 542.3 548.1 542.5 549.8 543.2 550.4 546 550 548.9 547.9 553.7 539.9 553.8 538.3 552.8 536.6 551.7 535.7 550.3 535.4 548.9 535.7M618.6 566 617.2 566.4 615.9 567.9 615.9 569.5 617.2 571.1 618.6 571.4 620 570.9 621.7 569.5 621.2 567.9 620 566.5 618.6 566M521.9 577.4 517.6 579.3 513.3 580.1 511.9 581.1 511.5 582.7 511.6 587.6 510.6 590.9 510.7 592.6 511.5 595.9 513.3 597 517.6 596.3 520.4 597 521.9 596.1 527 589.3 530.4 586 531.1 584.4 530.8 581.1 530.2 579.4 529 578.2 526.1 577 521.9 577.4M556 593.9 554.6 594.4 553.2 595.9 550.3 600.7 547.5 602.2 546.3 604.1 546.2 605.8 547.5 606.8 550.3 606.5 551.7 606.8 554.6 609.8 556 610.3 557.4 609.9 563.2 605.8 565.6 602.5 565.2 600.8 562.2 597.5 558.8 594.9 556 593.9M573.1 595.3 570.6 597.5 567.8 602.5 567.5 604.1 567.8 605.8 568.8 607.4 570.2 608.2 577.3 609 580.2 609.1 583 608.4 585.1 605.8 586.7 600.8 586.7 599.2 586.1 597.5 584.5 595.7 581.6 594.4 577.3 594.5 573.1 595.3M592.2 503.7 594.4 502.6 595.8 502.6 604.9 507 606.5 510.3 606.5 513.6 604.4 517.1 603 518.5 600.1 519.2 588.7 517.7 578.8 514.6 578.5 513.6 586.3 507 592.2 503.7M560.6 520.1 563.1 518.9 564.5 518.7 566 519.9 566.7 521.8 566.7 523.4 565.7 525.1 560.3 528.5 558.8 528.6 556 528 553.3 526.7 552.6 525.1 553 523.4 554.3 521.8 556 520.7 560.6 520.1M619.7 526.7 621.4 526.6 622.9 527.8 624.9 533.3 624.3 535.4 623.1 536.6 621.4 537.1 620 536.8 618.6 535.7 616.9 531.7 616.8 530 617.5 528.4 619.7 526.7M538.9 533.3 540.4 533 541.8 533.8 542.1 538.3 541.1 541.5 538.2 546.5 536.1 549.3 530.7 554.7 528.4 558 524.7 564.8 519 571 517.6 572.1 516.2 572.3 513.7 571.2 511.9 568.4 508.9 556.4 509.6 553.1 514.7 543.2 516.2 541.7 517.6 541 525 539.9 529 535.9 534.8 535 538.9 533.3M561.5 544.8 567.4 544.1 570.2 545.2 574.5 548.3 577.3 549 581.6 548.6 583 549 584.5 550.1 586.1 553.1 586.2 556.4 583 562.7 582.7 564.6 583.4 566.2 585.2 567.9 585.9 569.2 585.8 571.2 584.5 572.9 578.8 577.2 574 579.4 573.4 581.1 573.1 584.6 571.7 584.8 568.8 583.8 566 583.7 564.5 583.4 563.1 582.3 562.1 579.4 562.1 577.8 563.1 576.5 568.6 576.1 568.3 574.5 566 572.8 564.2 572.8 561.7 576 557.4 576.3 556 575.9 553.2 572.5 550.3 571.5 547.5 571.8 544.6 573.6 543.2 573.8 540.4 571.2 539.6 569.5 539 564.6 540.3 561.3 547.5 557.2 553.2 552.4 556 547.9 558.8 546 561.5 544.8M608.2 574.5 610.1 573.7 612.9 574.6 617.5 581.1 619.2 587.6 619.1 590.9 618.1 592.6 614.3 596.8 611.5 598.3 608.6 598.4 605.8 597.3 602.9 594.2 601.8 590.9 602.1 587.6 603 584.4 608.2 574.5M543 579.4 543.2 579 544.6 578.7 551.7 581 552.6 582.7 552.7 584.4 551.6 586 544.6 588.1 543.2 589.2 543.6 595.9 542.6 599.2 540.4 602.3 537.5 603.5 534.7 603.1 533.2 602.4 531.3 599.2 530.9 595.9 531.3 594.2 532.3 592.6 534.7 590.5 541.7 587.6 542.4 581.1 543 579.4M594.3 505.3 597.3 505.7 600.2 507 602.5 508.6 603.1 510.3 602.9 511.9 602.1 513.6 600.2 515.2 597.3 516.1 593 516 589.9 515.2 587.9 513.6 587.6 511.9 588.7 508.6 590.5 507 594.3 505.3M529.5 538.3 531.8 537.4 537.5 537.5 538.7 538.3 539.1 539.9 537.6 543.2 535.1 546.5 533.2 547.8 526.1 550 524.8 551.4 523.4 556.4 522.4 558 520.4 559.9 517.6 561 516.2 560 514.7 558 513.7 554.7 514.3 551.4 516.2 546.1 517.6 544.1 519 543.4 526.1 541.7 529.5 538.3M564.8 551.4 567.4 550.1 568.8 550.1 573.1 553.1 577.4 554.7 578.5 556.4 577.4 567.9 575.9 569.5 573.1 569.6 570.2 568.4 567.2 566.2 564.5 563 563 559.7 562.9 556.4 563.6 553.1 564.8 551.4M608.4 584.4 610.1 583.1 611.5 582.7 612.9 583.4 615.7 587.6 616 589.3 615.5 590.9 612.9 593.8 611.5 594.5 608.6 594.2 607.3 592.6 606.7 590.9 606.8 587.6 608.4 584.4M537 594.2 537.9 594.2 538.9 595 539.3 595.9 538.9 597.5 537.5 598.5 536.1 598.4 535.1 597.5 534.8 595.9 536.1 594.6 537 594.2M593.5 510.3 594.4 509 595.8 508.9 597 510.3 595.8 511.2 594.4 511.1 593.5 510.3"/>
<g transform="translate(455.7 483.1) scale(1.0043 0.9950)">
<use href="#coast"/>
</g>
<rect x="455.7" y="483.1" width="187.8" height="138.3" fill="none" stroke="#7a7a7a" stroke-width="1"/>
<path d="M472.8 483.1v2M472.8 621.4v-2M506.9 483.1v2M506.9 621.4v-2M541.1 483.1v2M541.1 621.4v-2M575.2 483.1v2M575.2 621.4v-2M609.4 483.1v2M609.4 621.4v-2M455.7 581.9h2M643.5 581.9h-2M455.7 542.4h2M643.5 542.4h-2M455.7 502.9h2M643.5 502.9h-2" stroke="#7a7a7a" stroke-width="1" fill="none"/>
<text x="460" y="498" font-size="12.9" font-weight="bold" fill="#111">(n) Cluster IV</text>
<path fill="#dfe3e3" shape-rendering="crispEdges" d="M498 707h6v6h-6zM524 727h5v6h-5zM558 732h5v6h-5zM524 737h5v6h-5zM533 737h9v6h-9zM503 742h5v6h-5zM520 742h5v6h-5zM533 742h5v6h-5zM545 742h6v6h-6zM554 742h5v6h-5zM588 747h5v6h-5zM481 752h6v6h-6zM498 752h14v6h-14zM490 757h9v6h-9z"/><path fill="#d2dde0" shape-rendering="crispEdges" d="M503 707h5v6h-5zM503 717h5v6h-5zM520 722h9v6h-9zM528 727h6v6h-6zM558 727h5v6h-5zM520 732h5v6h-5zM520 737h5v6h-5zM550 737h5v6h-5zM550 742h5v6h-5zM503 747h5v6h-5zM511 747h5v6h-5zM571 747h5v6h-5zM494 752h5v6h-5zM486 757h5v6h-5z"/><path fill="#92bbca" shape-rendering="crispEdges" d="M507 707h5v6h-5zM520 712h5v6h-5zM550 717h5v6h-5zM541 722h5v6h-5zM562 722h6v6h-6zM545 727h6v6h-6zM550 732h9v6h-9zM571 762h5v6h-5z"/><path fill="#80b1c5" shape-rendering="crispEdges" d="M511 707h5v6h-5zM507 712h5v6h-5zM545 717h6v6h-6zM554 722h5v6h-5zM567 752h5v6h-5zM575 752h5v6h-5z"/><path fill="#a3c5d1" shape-rendering="crispEdges" d="M515 707h6v6h-6zM503 712h5v6h-5zM507 717h5v6h-5zM545 732h6v6h-6z"/><path fill="#b4cfd8" shape-rendering="crispEdges" d="M498 712h6v6h-6zM515 717h14v6h-14zM528 722h6v6h-6zM558 722h5v6h-5zM567 722h5v6h-5zM533 727h5v6h-5zM554 727h5v6h-5zM562 752h6v6h-6zM567 762h5v6h-5z"/><path fill="#6ea6c2" shape-rendering="crispEdges" d="M511 712h10v6h-10zM528 717h6v6h-6zM554 717h5v6h-5zM545 722h10v6h-10zM550 727h5v6h-5zM567 757h5v6h-5z"/><path fill="#c4d8dd" shape-rendering="crispEdges" d="M524 712h5v6h-5zM511 717h5v6h-5zM537 727h9v6h-9zM562 727h10v6h-10zM524 732h10v6h-10zM528 737h6v6h-6zM554 737h5v6h-5zM507 747h5v6h-5zM579 752h6v6h-6zM588 752h5v6h-5zM562 757h6v6h-6zM579 757h6v6h-6zM588 757h5v6h-5z"/><path fill="#e9ded9" shape-rendering="crispEdges" d="M498 717h6v6h-6zM477 722h10v6h-10zM507 722h5v6h-5zM515 722h6v6h-6zM477 727h5v6h-5zM486 727h5v6h-5zM477 732h5v6h-5zM515 732h6v6h-6zM503 737h5v6h-5zM541 737h5v6h-5zM558 737h5v6h-5zM481 747h6v6h-6zM515 747h10v6h-10zM533 747h9v6h-9zM545 747h6v6h-6zM584 747h5v6h-5zM490 752h5v6h-5zM511 752h5v6h-5zM520 752h5v6h-5zM528 752h6v6h-6zM584 752h5v6h-5zM558 757h5v6h-5zM494 762h5v6h-5z"/><path fill="#1c64ad" shape-rendering="crispEdges" d="M533 717h5v6h-5z"/><path fill="#307fb7" shape-rendering="crispEdges" d="M537 717h5v6h-5zM571 757h5v6h-5z"/><path fill="#5c9cbe" shape-rendering="crispEdges" d="M541 717h5v6h-5zM533 722h9v6h-9zM575 757h5v6h-5z"/><path fill="#e6d4cc" shape-rendering="crispEdges" d="M486 722h9v6h-9zM503 722h5v6h-5zM511 722h5v6h-5zM481 727h6v6h-6zM511 732h5v6h-5zM567 732h5v6h-5zM477 737h5v6h-5zM507 737h5v6h-5zM490 742h5v6h-5zM498 742h6v6h-6zM511 742h10v6h-10zM558 742h5v6h-5zM490 747h5v6h-5zM524 747h5v6h-5zM550 747h5v6h-5zM554 752h5v6h-5zM498 762h6v6h-6z"/><path fill="#e3c9bf" shape-rendering="crispEdges" d="M494 722h5v6h-5zM511 727h10v6h-10zM481 732h6v6h-6zM490 732h5v6h-5zM507 732h5v6h-5zM562 732h6v6h-6zM481 737h6v6h-6zM498 737h6v6h-6zM511 737h5v6h-5zM562 737h6v6h-6zM481 742h10v6h-10zM584 742h9v6h-9zM486 747h5v6h-5zM524 752h5v6h-5zM533 752h13v6h-13zM503 762h5v6h-5z"/><path fill="#d8a99a" shape-rendering="crispEdges" d="M498 722h6v6h-6zM550 752h5v6h-5zM507 762h5v6h-5zM520 762h5v6h-5zM558 762h5v6h-5z"/><path fill="#e0bfb3" shape-rendering="crispEdges" d="M490 727h9v6h-9zM503 727h9v6h-9zM486 732h5v6h-5zM494 732h5v6h-5zM503 732h5v6h-5zM486 737h13v6h-13zM567 737h5v6h-5zM494 742h5v6h-5zM562 742h6v6h-6zM579 742h6v6h-6zM515 752h6v6h-6zM545 752h6v6h-6zM498 757h6v6h-6zM554 757h5v6h-5z"/><path fill="#dcb4a6" shape-rendering="crispEdges" d="M498 727h6v6h-6zM498 732h6v6h-6zM571 737h5v6h-5zM575 742h5v6h-5zM503 757h5v6h-5zM520 757h5v6h-5zM511 762h10v6h-10z"/><path fill="#ece8e6" shape-rendering="crispEdges" d="M520 727h5v6h-5zM533 732h13v6h-13zM515 737h6v6h-6zM545 737h6v6h-6zM477 742h5v6h-5zM507 742h5v6h-5zM524 742h10v6h-10zM537 742h9v6h-9zM494 747h10v6h-10zM528 747h6v6h-6zM541 747h5v6h-5zM554 747h18v6h-18zM575 747h10v6h-10zM486 752h5v6h-5zM558 752h5v6h-5zM584 757h5v6h-5zM562 762h6v6h-6z"/><path fill="#d59e8e" shape-rendering="crispEdges" d="M567 742h5v6h-5zM507 757h5v6h-5zM537 757h5v6h-5zM524 762h5v6h-5zM533 762h13v6h-13z"/><path fill="#cd8773" shape-rendering="crispEdges" d="M571 742h5v6h-5zM515 757h6v6h-6zM528 757h6v6h-6z"/><path fill="#3d88b9" shape-rendering="crispEdges" d="M571 752h5v6h-5z"/><path fill="#c97c66" shape-rendering="crispEdges" d="M511 757h5v6h-5zM545 762h6v6h-6zM554 762h5v6h-5z"/><path fill="#d19380" shape-rendering="crispEdges" d="M524 757h5v6h-5zM533 757h5v6h-5zM541 757h10v6h-10zM528 762h6v6h-6z"/><path fill="#c1654f" shape-rendering="crispEdges" d="M550 757h5v6h-5z"/><path fill="#b04039" shape-rendering="crispEdges" d="M550 762h5v6h-5z"/><path fill="none" stroke="#3a2a2a" stroke-width="0.45" stroke-opacity="0.6" d="M510.5 711.4 509.4 713.1 509.6 714.7 510.5 715.3 516.2 716.3 517.6 715.6 518.1 714.7 517.2 713.1 514.7 711.2 511.9 710.8 510.5 711.4M533.2 717.5 531.8 718 529.7 719.6 529.6 721.3 533.2 726.2 534.7 727.1 537.5 727 543.2 724.3 544.6 724.5 546 725.9 550.3 732.1 551.7 732.7 552.8 731.2 556 722.9 555.8 721.3 554.6 720.7 551.7 721.2 548.9 720.9 538.9 717.8 536.1 717.3 533.2 717.5M571.7 753.8 569.1 755.8 568.3 759.1 568.6 760.8 569.6 762.4 571.7 763.9 573.1 764.1 574.5 763.5 578.2 760.8 578.9 759.1 578.8 757.5 578 755.8 575.9 754 573.1 753.4 571.7 753.8M506.2 708.1 500.5 712.1 499.6 713.1 499.2 714.7 500.4 716.3 505 719.6 507.6 721 513.3 720.4 520.4 721.9 524.7 723.9 527.5 726.2 531.8 730.9 533.2 731.5 542.3 731.2 543.2 731.5 546 735.8 547.5 737.1 553.2 740.3 554.6 740.7 556 740.3 557.4 738.5 558.7 734.4 558.8 731.1 560.3 728.8 567.4 729.8 568.8 729.5 569.8 727.9 570 726.2 569.5 724.6 568.8 723.8 566 722.6 561.7 723.1 560.3 722.4 558.1 718 556 716.7 548.9 716.8 536.1 715.4 527.5 716 526.1 715.5 521 711.4 518 708.1 516.2 707.2 510.5 706.8 506.2 708.1M527.5 736 527.5 736.1 527.6 736.1 527.5 736M573.1 750.9 570.2 751.5 566 753.3 564.8 754.2 564 755.8 563.9 757.5 564.8 760.8 567.4 765.5 568.8 767 571.7 768 574.5 767.3 577.3 764.8 581.3 762.4 582.5 760.8 582.8 759.1 582.2 755.8 580.2 753.1 575.9 751.3 573.1 750.9M497.4 722.9 499.1 722.5 500.5 722.8 506.2 727.3 513.3 728.5 515.8 729.5 514.9 731.2 511.9 732.5 508.9 736.1 503.4 737.6 500.9 739.4 497.7 745.3 496.2 746.4 493.4 746.4 490.6 745.1 486.3 747.2 483.4 745.8 482 744.3 480.6 741 480.7 737.7 482 734.7 483.4 733.6 487.7 732.2 489.8 727.9 490.6 727.1 497.4 722.9M565.1 737.7 566 737 573.1 737.9 574.5 738.7 577.3 741.8 580.2 743.3 583.6 744.3 584.7 746 575.9 747.8 568.8 747.9 566 747.2 563.9 746 563.2 744.3 565.1 737.7M547.6 752.5 550.3 751.6 551.7 751.6 553.2 752.3 554.6 753.8 561.5 764.1 561.9 765.7 561.2 767.4 557.4 769.1 551.7 770 541.8 768.7 530.4 768.8 516.2 768 509.1 768.2 506.2 767.6 502.5 765.7 500.5 764.1 499.9 762.4 500.2 760.8 502.7 759.1 509.1 757.3 517.6 753.8 521.9 756 526.1 754.6 530.4 755.4 534.7 754.3 541.8 754.7 547.6 752.5M548.8 757.5 550.3 756.6 551.7 756.5 553.2 757.6 557.4 764.1 557.5 765.7 554.6 767.6 550.3 768 540.4 764.1 537.5 764.2 531.8 765.4 529 765.2 525.8 764.1 524.8 762.4 525.4 760.8 527.5 759.7 531.8 759.5 537.5 760.6 540.4 760.6 546 759 548.8 757.5M512.5 759.1 514.7 758.7 517.3 759.1 518.5 760.8 518.2 762.4 516.2 763.3 513.3 763.6 510.5 763.3 509.1 762.4 509.4 760.8 512.5 759.1"/>
<g transform="translate(455.7 638.2) scale(1.0043 0.9942)">
<use href="#coast"/>
</g>
<rect x="455.7" y="638.2" width="187.8" height="138.2" fill="none" stroke="#7a7a7a" stroke-width="1"/>
<path d="M472.8 638.2v2M472.8 776.4v-2M506.9 638.2v2M506.9 776.4v-2M541.1 638.2v2M541.1 776.4v-2M575.2 638.2v2M575.2 776.4v-2M609.4 638.2v2M609.4 776.4v-2M455.7 736.9h2M643.5 736.9h-2M455.7 697.4h2M643.5 697.4h-2M455.7 657.9h2M643.5 657.9h-2" stroke="#7a7a7a" stroke-width="1" fill="none"/>
<text x="460" y="653.1" font-size="12.9" font-weight="bold" fill="#111">(o) Cluster V</text>
<text x="472.8" y="791.9" font-size="10.3" text-anchor="middle" fill="#333">100°E</text>
<text x="506.9" y="791.9" font-size="10.3" text-anchor="middle" fill="#333">120°E</text>
<text x="541.1" y="791.9" font-size="10.3" text-anchor="middle" fill="#333">140°E</text>
<text x="575.2" y="791.9" font-size="10.3" text-anchor="middle" fill="#333">160°E</text>
<text x="609.4" y="791.9" font-size="10.3" text-anchor="middle" fill="#333">180°</text>
<text x="639.5" y="791.9" font-size="10.3" text-anchor="middle" fill="#333">160°W</text>
<rect x="424.2" y="18.4" width="9.8" height="138.9" fill="url(#gt)" stroke="#7a7a7a" stroke-width="0.8"/>
<path d="M432.5 134.2h1.5M432.5 111.0h1.5M432.5 87.9h1.5M432.5 64.7h1.5M432.5 41.6h1.5" stroke="#555" stroke-width="0.8" fill="none"/>
<path d="M665.4 28.3h1.5M665.4 48.2h1.5M665.4 68.0h1.5M665.4 87.9h1.5M665.4 107.7h1.5M665.4 127.5h1.5M665.4 147.4h1.5" stroke="#555" stroke-width="0.8" fill="none"/>
<text x="438.6" y="161" font-size="9.9" fill="#333">0</text>
<text x="438.6" y="137.8" font-size="9.9" fill="#333">10</text>
<text x="438.6" y="114.7" font-size="9.9" fill="#333">20</text>
<text x="438.6" y="91.6" font-size="9.9" fill="#333">30</text>
<text x="438.6" y="68.4" font-size="9.9" fill="#333">40</text>
<text x="438.6" y="45.3" font-size="9.9" fill="#333">50</text>
<text x="438.6" y="22.1" font-size="9.9" fill="#333">60</text>
<rect x="657.3" y="18.4" width="9.6" height="138.9" fill="url(#gb)" stroke="#7a7a7a" stroke-width="0.8"/>
<text x="671" y="32" font-size="9.9" fill="#333">30</text>
<text x="671" y="51.9" font-size="9.9" fill="#333">20</text>
<text x="671" y="71.7" font-size="9.9" fill="#333">10</text>
<text x="671" y="91.6" font-size="9.9" fill="#333">0</text>
<text x="671.2" y="111.4" font-size="9.9" fill="#333">-10</text>
<text x="671.2" y="131.2" font-size="9.9" fill="#333">-20</text>
<text x="671.2" y="151.1" font-size="9.9" fill="#333">-30</text>
<rect x="424.2" y="173.5" width="9.8" height="138.4" fill="url(#gt)" stroke="#7a7a7a" stroke-width="0.8"/>
<path d="M432.5 288.8h1.5M432.5 265.8h1.5M432.5 242.7h1.5M432.5 219.6h1.5M432.5 196.6h1.5" stroke="#555" stroke-width="0.8" fill="none"/>
<path d="M665.4 183.4h1.5M665.4 203.2h1.5M665.4 222.9h1.5M665.4 242.7h1.5M665.4 262.5h1.5M665.4 282.2h1.5M665.4 302.0h1.5" stroke="#555" stroke-width="0.8" fill="none"/>
<text x="438.6" y="315.6" font-size="9.9" fill="#333">0</text>
<text x="438.6" y="292.5" font-size="9.9" fill="#333">10</text>
<text x="438.6" y="269.5" font-size="9.9" fill="#333">20</text>
<text x="438.6" y="246.4" font-size="9.9" fill="#333">30</text>
<text x="438.6" y="223.3" font-size="9.9" fill="#333">40</text>
<text x="438.6" y="200.3" font-size="9.9" fill="#333">50</text>
<text x="438.6" y="177.2" font-size="9.9" fill="#333">60</text>
<rect x="657.3" y="173.5" width="9.6" height="138.4" fill="url(#gb)" stroke="#7a7a7a" stroke-width="0.8"/>
<text x="671" y="187.1" font-size="9.9" fill="#333">30</text>
<text x="671" y="206.9" font-size="9.9" fill="#333">20</text>
<text x="671" y="226.6" font-size="9.9" fill="#333">10</text>
<text x="671" y="246.4" font-size="9.9" fill="#333">0</text>
<text x="671.2" y="266.2" font-size="9.9" fill="#333">-10</text>
<text x="671.2" y="285.9" font-size="9.9" fill="#333">-20</text>
<text x="671.2" y="305.7" font-size="9.9" fill="#333">-30</text>
<rect x="424.2" y="328.7" width="9.8" height="137.8" fill="url(#gt)" stroke="#7a7a7a" stroke-width="0.8"/>
<path d="M432.5 443.5h1.5M432.5 420.6h1.5M432.5 397.6h1.5M432.5 374.6h1.5M432.5 351.7h1.5" stroke="#555" stroke-width="0.8" fill="none"/>
<path d="M665.4 338.5h1.5M665.4 358.2h1.5M665.4 377.9h1.5M665.4 397.6h1.5M665.4 417.3h1.5M665.4 437.0h1.5M665.4 456.7h1.5" stroke="#555" stroke-width="0.8" fill="none"/>
<text x="438.6" y="470.2" font-size="9.9" fill="#333">0</text>
<text x="438.6" y="447.2" font-size="9.9" fill="#333">10</text>
<text x="438.6" y="424.3" font-size="9.9" fill="#333">20</text>
<text x="438.6" y="401.3" font-size="9.9" fill="#333">30</text>
<text x="438.6" y="378.3" font-size="9.9" fill="#333">40</text>
<text x="438.6" y="355.4" font-size="9.9" fill="#333">50</text>
<text x="438.6" y="332.4" font-size="9.9" fill="#333">60</text>
<rect x="657.3" y="328.7" width="9.6" height="137.8" fill="url(#gb)" stroke="#7a7a7a" stroke-width="0.8"/>
<text x="671" y="342.2" font-size="9.9" fill="#333">30</text>
<text x="671" y="361.9" font-size="9.9" fill="#333">20</text>
<text x="671" y="381.6" font-size="9.9" fill="#333">10</text>
<text x="671" y="401.3" font-size="9.9" fill="#333">0</text>
<text x="671.2" y="421" font-size="9.9" fill="#333">-10</text>
<text x="671.2" y="440.7" font-size="9.9" fill="#333">-20</text>
<text x="671.2" y="460.4" font-size="9.9" fill="#333">-30</text>
<rect x="424.2" y="483.4" width="9.8" height="138" fill="url(#gt)" stroke="#7a7a7a" stroke-width="0.8"/>
<path d="M432.5 598.4h1.5M432.5 575.4h1.5M432.5 552.4h1.5M432.5 529.4h1.5M432.5 506.4h1.5" stroke="#555" stroke-width="0.8" fill="none"/>
<path d="M665.4 493.3h1.5M665.4 513.0h1.5M665.4 532.7h1.5M665.4 552.4h1.5M665.4 572.1h1.5M665.4 591.8h1.5M665.4 611.5h1.5" stroke="#555" stroke-width="0.8" fill="none"/>
<text x="438.6" y="625.1" font-size="9.9" fill="#333">0</text>
<text x="438.6" y="602.1" font-size="9.9" fill="#333">10</text>
<text x="438.6" y="579.1" font-size="9.9" fill="#333">20</text>
<text x="438.6" y="556.1" font-size="9.9" fill="#333">30</text>
<text x="438.6" y="533.1" font-size="9.9" fill="#333">40</text>
<text x="438.6" y="510.1" font-size="9.9" fill="#333">50</text>
<text x="438.6" y="487.1" font-size="9.9" fill="#333">60</text>
<rect x="657.3" y="483.4" width="9.6" height="138" fill="url(#gb)" stroke="#7a7a7a" stroke-width="0.8"/>
<text x="671" y="497" font-size="9.9" fill="#333">30</text>
<text x="671" y="516.7" font-size="9.9" fill="#333">20</text>
<text x="671" y="536.4" font-size="9.9" fill="#333">10</text>
<text x="671" y="556.1" font-size="9.9" fill="#333">0</text>
<text x="671.2" y="575.8" font-size="9.9" fill="#333">-10</text>
<text x="671.2" y="595.5" font-size="9.9" fill="#333">-20</text>
<text x="671.2" y="615.2" font-size="9.9" fill="#333">-30</text>
<rect x="424.2" y="638.5" width="9.8" height="137.9" fill="url(#gt)" stroke="#7a7a7a" stroke-width="0.8"/>
<path d="M432.5 753.4h1.5M432.5 730.4h1.5M432.5 707.5h1.5M432.5 684.5h1.5M432.5 661.5h1.5" stroke="#555" stroke-width="0.8" fill="none"/>
<path d="M665.4 648.4h1.5M665.4 668.0h1.5M665.4 687.8h1.5M665.4 707.5h1.5M665.4 727.1h1.5M665.4 746.9h1.5M665.4 766.5h1.5" stroke="#555" stroke-width="0.8" fill="none"/>
<text x="438.6" y="780.1" font-size="9.9" fill="#333">0</text>
<text x="438.6" y="757.1" font-size="9.9" fill="#333">10</text>
<text x="438.6" y="734.1" font-size="9.9" fill="#333">20</text>
<text x="438.6" y="711.2" font-size="9.9" fill="#333">30</text>
<text x="438.6" y="688.2" font-size="9.9" fill="#333">40</text>
<text x="438.6" y="665.2" font-size="9.9" fill="#333">50</text>
<text x="438.6" y="642.2" font-size="9.9" fill="#333">60</text>
<rect x="657.3" y="638.5" width="9.6" height="137.9" fill="url(#gb)" stroke="#7a7a7a" stroke-width="0.8"/>
<text x="671" y="652.1" font-size="9.9" fill="#333">30</text>
<text x="671" y="671.8" font-size="9.9" fill="#333">20</text>
<text x="671" y="691.5" font-size="9.9" fill="#333">10</text>
<text x="671" y="711.2" font-size="9.9" fill="#333">0</text>
<text x="671.2" y="730.9" font-size="9.9" fill="#333">-10</text>
<text x="671.2" y="750.6" font-size="9.9" fill="#333">-20</text>
<text x="671.2" y="770.2" font-size="9.9" fill="#333">-30</text>
</svg></body></html>
